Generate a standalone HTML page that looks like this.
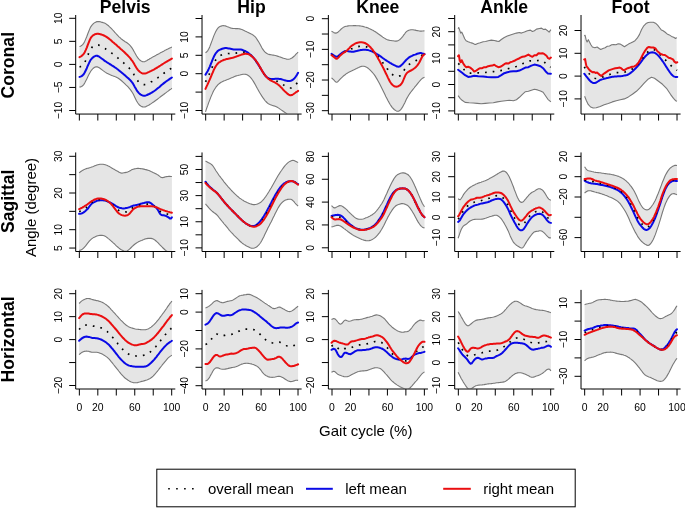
<!DOCTYPE html>
<html><head><meta charset="utf-8"><title>Gait angles</title>
<style>html,body{margin:0;padding:0;background:#fff}body{width:685px;height:508px;overflow:hidden}</style></head>
<body>
<svg width="685" height="508" viewBox="0 0 685 508" style="display:block">
<rect width="685" height="508" fill="#fff"/>
<defs>
<clipPath id="c10"><rect x="76.20" y="15.00" width="99.60" height="98.55"/></clipPath>
<clipPath id="c11"><rect x="202.53" y="15.00" width="99.60" height="98.55"/></clipPath>
<clipPath id="c12"><rect x="328.86" y="15.00" width="99.60" height="98.55"/></clipPath>
<clipPath id="c13"><rect x="455.19" y="15.00" width="99.60" height="98.55"/></clipPath>
<clipPath id="c14"><rect x="581.52" y="15.00" width="99.60" height="98.55"/></clipPath>
<clipPath id="c20"><rect x="76.20" y="152.45" width="99.60" height="98.55"/></clipPath>
<clipPath id="c21"><rect x="202.53" y="152.45" width="99.60" height="98.55"/></clipPath>
<clipPath id="c22"><rect x="328.86" y="152.45" width="99.60" height="98.55"/></clipPath>
<clipPath id="c23"><rect x="455.19" y="152.45" width="99.60" height="98.55"/></clipPath>
<clipPath id="c24"><rect x="581.52" y="152.45" width="99.60" height="98.55"/></clipPath>
<clipPath id="c30"><rect x="76.20" y="289.90" width="99.60" height="98.60"/></clipPath>
<clipPath id="c31"><rect x="202.53" y="289.90" width="99.60" height="98.60"/></clipPath>
<clipPath id="c32"><rect x="328.86" y="289.90" width="99.60" height="98.60"/></clipPath>
<clipPath id="c33"><rect x="455.19" y="289.90" width="99.60" height="98.60"/></clipPath>
<clipPath id="c34"><rect x="581.52" y="289.90" width="99.60" height="98.60"/></clipPath>
</defs>
<text x="125.20" y="12.9" text-anchor="middle" font-family="'Liberation Sans', Arial, Helvetica, sans-serif" font-size="17.6" font-weight="bold" fill="#000">Pelvis</text>
<text x="251.53" y="12.9" text-anchor="middle" font-family="'Liberation Sans', Arial, Helvetica, sans-serif" font-size="17.6" font-weight="bold" fill="#000">Hip</text>
<text x="377.86" y="12.9" text-anchor="middle" font-family="'Liberation Sans', Arial, Helvetica, sans-serif" font-size="17.6" font-weight="bold" fill="#000">Knee</text>
<text x="504.19" y="12.9" text-anchor="middle" font-family="'Liberation Sans', Arial, Helvetica, sans-serif" font-size="17.6" font-weight="bold" fill="#000">Ankle</text>
<text x="630.52" y="12.9" text-anchor="middle" font-family="'Liberation Sans', Arial, Helvetica, sans-serif" font-size="17.6" font-weight="bold" fill="#000">Foot</text>
<text transform="translate(13.5 65.20) rotate(-90)" text-anchor="middle" font-family="'Liberation Sans', Arial, Helvetica, sans-serif" font-size="17.6" font-weight="bold" fill="#000">Coronal</text>
<text transform="translate(13.5 201.30) rotate(-90)" text-anchor="middle" font-family="'Liberation Sans', Arial, Helvetica, sans-serif" font-size="17.6" font-weight="bold" fill="#000">Sagittal</text>
<text transform="translate(13.5 339.40) rotate(-90)" text-anchor="middle" font-family="'Liberation Sans', Arial, Helvetica, sans-serif" font-size="17.6" font-weight="bold" fill="#000">Horizontal</text>
<text transform="translate(35.8 207.5) rotate(-90)" text-anchor="middle" font-family="'Liberation Sans', Arial, Helvetica, sans-serif" font-size="15" fill="#000">Angle (degree)</text>
<text x="365.8" y="436.1" text-anchor="middle" font-family="'Liberation Sans', Arial, Helvetica, sans-serif" font-size="15" fill="#000">Gait cycle (%)</text>
<g clip-path="url(#c10)">
<path d="M79.5 46.5L80.5 46.2L81.6 45.6L82.6 44.7L83.7 43.3L84.7 41.4L85.7 39.1L86.8 36.5L87.8 33.7L88.9 31.0L89.9 28.6L90.9 26.6L92.0 25.1L93.0 24.0L94.0 23.1L95.1 22.4L96.1 21.9L97.2 21.6L98.2 21.5L99.2 21.6L100.3 21.8L101.3 22.1L102.4 22.4L103.4 22.7L104.4 23.1L105.5 23.6L106.5 24.2L107.5 25.0L108.6 25.8L109.6 26.8L110.7 27.8L111.7 28.9L112.7 30.0L113.8 31.2L114.8 32.3L115.9 33.5L116.9 34.6L117.9 35.7L119.0 36.8L120.0 37.7L121.0 38.7L122.1 39.5L123.1 40.3L124.2 41.0L125.2 41.7L126.2 42.3L127.3 43.0L128.3 43.8L129.3 44.7L130.4 45.9L131.4 47.2L132.5 48.7L133.5 50.4L134.5 52.3L135.6 54.2L136.6 56.0L137.7 57.6L138.7 58.9L139.7 60.0L140.8 60.8L141.8 61.4L142.8 61.7L143.9 61.8L144.9 61.6L146.0 61.1L147.0 60.5L148.0 59.8L149.1 59.2L150.1 58.5L151.2 58.0L152.2 57.4L153.2 56.8L154.3 56.3L155.3 55.7L156.3 55.1L157.4 54.5L158.4 54.0L159.5 53.4L160.5 52.8L161.5 52.3L162.6 51.7L163.6 51.2L164.6 50.6L165.7 50.1L166.7 49.6L167.8 49.1L168.8 48.6L169.8 48.1L170.9 47.6L171.9 47.1L171.9 88.3L170.9 89.1L169.8 89.8L168.8 90.6L167.8 91.4L166.7 92.1L165.7 92.9L164.6 93.7L163.6 94.5L162.6 95.2L161.5 96.0L160.5 96.8L159.5 97.6L158.4 98.4L157.4 99.2L156.3 100.0L155.3 100.7L154.3 101.5L153.2 102.2L152.2 102.9L151.2 103.6L150.1 104.3L149.1 105.0L148.0 105.6L147.0 106.1L146.0 106.6L144.9 106.9L143.9 107.0L142.8 106.9L141.8 106.6L140.8 106.0L139.7 105.3L138.7 104.2L137.7 102.8L136.6 101.0L135.6 98.9L134.5 96.7L133.5 94.6L132.5 92.7L131.4 91.1L130.4 89.6L129.3 88.3L128.3 87.1L127.3 86.1L126.2 85.1L125.2 84.1L124.2 83.1L123.1 82.2L122.1 81.2L121.0 80.3L120.0 79.5L119.0 78.7L117.9 78.0L116.9 77.5L115.9 77.0L114.8 76.6L113.8 76.2L112.7 75.8L111.7 75.4L110.7 75.0L109.6 74.6L108.6 74.1L107.5 73.6L106.5 73.0L105.5 72.4L104.4 71.6L103.4 70.9L102.4 70.1L101.3 69.3L100.3 68.5L99.2 67.8L98.2 67.2L97.2 66.9L96.1 66.8L95.1 67.1L94.0 67.7L93.0 68.5L92.0 69.6L90.9 71.0L89.9 72.7L88.9 74.6L87.8 76.8L86.8 78.9L85.7 81.1L84.7 83.0L83.7 84.6L82.6 85.8L81.6 86.5L80.5 86.9L79.5 87.1Z" fill="#e5e5e5"/>
<path d="M79.5 46.5L80.5 46.2L81.6 45.6L82.6 44.7L83.7 43.3L84.7 41.4L85.7 39.1L86.8 36.5L87.8 33.7L88.9 31.0L89.9 28.6L90.9 26.6L92.0 25.1L93.0 24.0L94.0 23.1L95.1 22.4L96.1 21.9L97.2 21.6L98.2 21.5L99.2 21.6L100.3 21.8L101.3 22.1L102.4 22.4L103.4 22.7L104.4 23.1L105.5 23.6L106.5 24.2L107.5 25.0L108.6 25.8L109.6 26.8L110.7 27.8L111.7 28.9L112.7 30.0L113.8 31.2L114.8 32.3L115.9 33.5L116.9 34.6L117.9 35.7L119.0 36.8L120.0 37.7L121.0 38.7L122.1 39.5L123.1 40.3L124.2 41.0L125.2 41.7L126.2 42.3L127.3 43.0L128.3 43.8L129.3 44.7L130.4 45.9L131.4 47.2L132.5 48.7L133.5 50.4L134.5 52.3L135.6 54.2L136.6 56.0L137.7 57.6L138.7 58.9L139.7 60.0L140.8 60.8L141.8 61.4L142.8 61.7L143.9 61.8L144.9 61.6L146.0 61.1L147.0 60.5L148.0 59.8L149.1 59.2L150.1 58.5L151.2 58.0L152.2 57.4L153.2 56.8L154.3 56.3L155.3 55.7L156.3 55.1L157.4 54.5L158.4 54.0L159.5 53.4L160.5 52.8L161.5 52.3L162.6 51.7L163.6 51.2L164.6 50.6L165.7 50.1L166.7 49.6L167.8 49.1L168.8 48.6L169.8 48.1L170.9 47.6L171.9 47.1M79.5 87.1L80.5 86.9L81.6 86.5L82.6 85.8L83.7 84.6L84.7 83.0L85.7 81.1L86.8 78.9L87.8 76.8L88.9 74.6L89.9 72.7L90.9 71.0L92.0 69.6L93.0 68.5L94.0 67.7L95.1 67.1L96.1 66.8L97.2 66.9L98.2 67.2L99.2 67.8L100.3 68.5L101.3 69.3L102.4 70.1L103.4 70.9L104.4 71.6L105.5 72.4L106.5 73.0L107.5 73.6L108.6 74.1L109.6 74.6L110.7 75.0L111.7 75.4L112.7 75.8L113.8 76.2L114.8 76.6L115.9 77.0L116.9 77.5L117.9 78.0L119.0 78.7L120.0 79.5L121.0 80.3L122.1 81.2L123.1 82.2L124.2 83.1L125.2 84.1L126.2 85.1L127.3 86.1L128.3 87.1L129.3 88.3L130.4 89.6L131.4 91.1L132.5 92.7L133.5 94.6L134.5 96.7L135.6 98.9L136.6 101.0L137.7 102.8L138.7 104.2L139.7 105.3L140.8 106.0L141.8 106.6L142.8 106.9L143.9 107.0L144.9 106.9L146.0 106.6L147.0 106.1L148.0 105.6L149.1 105.0L150.1 104.3L151.2 103.6L152.2 102.9L153.2 102.2L154.3 101.5L155.3 100.7L156.3 100.0L157.4 99.2L158.4 98.4L159.5 97.6L160.5 96.8L161.5 96.0L162.6 95.2L163.6 94.5L164.6 93.7L165.7 92.9L166.7 92.1L167.8 91.4L168.8 90.6L169.8 89.8L170.9 89.1L171.9 88.3" fill="none" stroke="#787878" stroke-width="1.1" stroke-linejoin="round"/>
<path d="M79.5 76.9L80.5 76.6L81.6 76.1L82.6 75.4L83.7 74.2L84.7 72.5L85.7 70.5L86.8 68.2L87.8 65.7L88.9 63.4L89.9 61.3L90.9 59.6L92.0 58.3L93.0 57.4L94.0 56.6L95.1 56.1L96.1 55.8L97.2 55.8L98.2 56.2L99.2 56.7L100.3 57.5L101.3 58.3L102.4 59.0L103.4 59.8L104.4 60.6L105.5 61.3L106.5 62.0L107.5 62.7L108.6 63.3L109.6 64.0L110.7 64.6L111.7 65.3L112.7 65.9L113.8 66.6L114.8 67.3L115.9 68.0L116.9 68.8L117.9 69.5L119.0 70.4L120.0 71.2L121.0 72.1L122.1 73.0L123.1 73.8L124.2 74.7L125.2 75.6L126.2 76.5L127.3 77.4L128.3 78.3L129.3 79.3L130.4 80.3L131.4 81.5L132.5 82.9L133.5 84.5L134.5 86.4L135.6 88.3L136.6 90.1L137.7 91.7L138.7 92.9L139.7 93.9L140.8 94.6L141.8 95.1L142.8 95.5L143.9 95.7L144.9 95.7L146.0 95.4L147.0 95.0L148.0 94.5L149.1 94.0L150.1 93.5L151.2 92.9L152.2 92.3L153.2 91.7L154.3 91.0L155.3 90.3L156.3 89.5L157.4 88.6L158.4 87.8L159.5 86.9L160.5 86.0L161.5 85.1L162.6 84.2L163.6 83.4L164.6 82.6L165.7 81.8L166.7 81.0L167.8 80.3L168.8 79.6L169.8 78.9L170.9 78.2L171.9 77.5" fill="none" stroke="#0a0ae6" stroke-width="2" stroke-linejoin="round" stroke-linecap="round"/>
<path d="M79.5 67.0L80.2 66.7L80.8 66.4L81.5 66.1L82.2 65.6L82.8 65.0L83.5 64.2L84.2 63.2L84.8 62.1L85.5 60.8L86.2 59.3L86.8 57.8L87.5 56.1L88.2 54.4L88.8 52.8L89.5 51.4L90.1 50.0L90.8 48.9L91.5 48.0L92.1 47.2L92.8 46.6L93.5 46.1L94.1 45.7L94.8 45.3L95.5 45.0L96.1 44.8L96.8 44.8L97.5 44.8L98.1 44.9L98.8 45.1L99.5 45.4L100.1 45.7L100.8 46.1L101.4 46.5L102.1 46.8L102.8 47.2L103.4 47.6L104.1 48.0L104.8 48.4L105.4 48.7L106.1 49.2L106.8 49.6L107.4 50.0L108.1 50.5L108.8 51.0L109.4 51.4L110.1 51.9L110.8 52.4L111.4 52.9L112.1 53.4L112.8 53.9L113.4 54.4L114.1 55.0L114.7 55.5L115.4 56.0L116.1 56.5L116.7 57.0L117.4 57.6L118.1 58.1L118.7 58.7L119.4 59.2L120.1 59.8L120.7 60.4L121.4 60.9L122.1 61.5L122.7 62.1L123.4 62.7L124.1 63.3L124.7 63.9L125.4 64.4L126.0 65.0L126.7 65.7L127.4 66.3L128.0 66.9L128.7 67.6L129.4 68.3L130.0 69.0L130.7 69.8L131.4 70.6L132.0 71.5L132.7 72.4L133.4 73.5L134.0 74.6L134.7 75.8L135.4 77.0L136.0 78.1L136.7 79.2L137.3 80.2L138.0 81.1L138.7 81.9L139.3 82.5L140.0 83.0L140.7 83.5L141.3 83.8L142.0 84.2L142.7 84.4L143.3 84.6L144.0 84.7L144.7 84.6L145.3 84.5L146.0 84.4L146.7 84.1L147.3 83.8L148.0 83.5L148.6 83.2L149.3 82.8L150.0 82.5L150.6 82.2L151.3 81.8L152.0 81.5L152.6 81.1L153.3 80.7L154.0 80.3L154.6 79.9L155.3 79.5L156.0 79.1L156.6 78.6L157.3 78.1L158.0 77.6L158.6 77.1L159.3 76.6L160.0 76.1L160.6 75.6L161.3 75.1L161.9 74.6L162.6 74.1L163.3 73.7L163.9 73.2L164.6 72.7L165.3 72.3L165.9 71.8L166.6 71.4L167.3 71.0L167.9 70.5L168.6 70.1L169.3 69.7L169.9 69.3L170.6 68.8L171.3 68.4L171.9 68.0" fill="none" stroke="#000" stroke-width="1.7" stroke-dasharray="1.7 6"/>
<path d="M79.5 57.2L80.5 56.7L81.6 56.0L82.6 55.1L83.7 53.9L84.7 52.2L85.7 50.1L86.8 47.6L87.8 44.8L88.9 42.1L89.9 39.6L90.9 37.7L92.0 36.4L93.0 35.4L94.0 34.8L95.1 34.2L96.1 33.9L97.2 33.7L98.2 33.7L99.2 33.9L100.3 34.2L101.3 34.5L102.4 34.9L103.4 35.3L104.4 35.7L105.5 36.3L106.5 36.9L107.5 37.6L108.6 38.4L109.6 39.2L110.7 40.1L111.7 41.0L112.7 41.9L113.8 42.8L114.8 43.7L115.9 44.6L116.9 45.5L117.9 46.4L119.0 47.3L120.0 48.3L121.0 49.2L122.1 50.1L123.1 51.1L124.2 52.0L125.2 53.0L126.2 54.0L127.3 55.0L128.3 56.1L129.3 57.2L130.4 58.4L131.4 59.8L132.5 61.2L133.5 62.8L134.5 64.6L135.6 66.4L136.6 68.1L137.7 69.6L138.7 70.8L139.7 71.7L140.8 72.5L141.8 73.1L142.8 73.5L143.9 73.6L144.9 73.6L146.0 73.3L147.0 72.9L148.0 72.4L149.1 71.9L150.1 71.4L151.2 70.9L152.2 70.4L153.2 69.9L154.3 69.3L155.3 68.7L156.3 68.1L157.4 67.5L158.4 66.8L159.5 66.1L160.5 65.5L161.5 64.8L162.6 64.1L163.6 63.5L164.6 62.8L165.7 62.2L166.7 61.6L167.8 61.0L168.8 60.4L169.8 59.8L170.9 59.2L171.9 58.6" fill="none" stroke="#ea0e10" stroke-width="2" stroke-linejoin="round" stroke-linecap="round"/>
</g>
<path d="M75.70 15.00V114.05H175.30" fill="none" stroke="#000" stroke-width="1"/>
<path d="M79.35 114.05v6.5M97.82 114.05v6.5M116.29 114.05v6.5M134.76 114.05v6.5M153.23 114.05v6.5M171.70 114.05v6.5M75.70 18.30h-6.5M75.70 41.35h-6.5M75.70 64.40h-6.5M75.70 87.45h-6.5M75.70 110.50h-6.5" fill="none" stroke="#000" stroke-width="1"/>
<text transform="translate(61.50 18.30) rotate(-90)" text-anchor="middle" font-family="'Liberation Sans', Arial, Helvetica, sans-serif" font-size="10.4" fill="#000">10</text>
<text transform="translate(61.50 41.35) rotate(-90)" text-anchor="middle" font-family="'Liberation Sans', Arial, Helvetica, sans-serif" font-size="10.4" fill="#000">5</text>
<text transform="translate(61.50 64.40) rotate(-90)" text-anchor="middle" font-family="'Liberation Sans', Arial, Helvetica, sans-serif" font-size="10.4" fill="#000">0</text>
<text transform="translate(61.50 87.45) rotate(-90)" text-anchor="middle" font-family="'Liberation Sans', Arial, Helvetica, sans-serif" font-size="10.4" fill="#000">−5</text>
<text transform="translate(61.50 110.50) rotate(-90)" text-anchor="middle" font-family="'Liberation Sans', Arial, Helvetica, sans-serif" font-size="10.4" fill="#000">−10</text>
<g clip-path="url(#c11)">
<path d="M205.5 52.8L206.5 52.0L207.6 50.9L208.6 49.2L209.7 46.9L210.7 44.3L211.8 41.4L212.8 38.6L213.8 35.9L214.9 33.4L215.9 31.2L217.0 29.4L218.0 28.0L219.0 27.1L220.1 26.5L221.1 26.1L222.2 25.8L223.2 25.6L224.2 25.7L225.3 25.9L226.3 26.2L227.4 26.7L228.4 27.1L229.4 27.5L230.5 27.9L231.5 28.2L232.6 28.4L233.6 28.5L234.6 28.5L235.7 28.6L236.7 28.6L237.8 28.6L238.8 28.7L239.8 28.9L240.9 29.2L241.9 29.5L243.0 29.9L244.0 30.4L245.0 30.9L246.1 31.4L247.1 32.0L248.2 32.5L249.2 33.0L250.2 33.5L251.3 34.1L252.3 34.6L253.4 35.3L254.4 36.2L255.5 37.2L256.5 38.5L257.5 40.1L258.6 41.8L259.6 43.6L260.7 45.5L261.7 47.4L262.7 49.2L263.8 50.7L264.8 51.9L265.9 52.8L266.9 53.5L267.9 54.0L269.0 54.4L270.0 54.6L271.1 54.8L272.1 55.0L273.1 55.1L274.2 55.3L275.2 55.5L276.3 55.8L277.3 56.1L278.3 56.4L279.4 56.8L280.4 57.1L281.5 57.5L282.5 57.9L283.5 58.2L284.6 58.5L285.6 58.8L286.7 59.1L287.7 59.2L288.7 59.2L289.8 59.0L290.8 58.6L291.9 58.0L292.9 57.2L294.0 56.3L295.0 55.3L296.0 54.2L297.1 53.2L298.1 52.2L298.1 119.4L297.1 119.3L296.0 119.1L295.0 118.9L294.0 118.6L292.9 118.2L291.9 117.7L290.8 117.1L289.8 116.4L288.7 115.6L287.7 114.7L286.7 113.8L285.6 112.9L284.6 112.2L283.5 111.5L282.5 110.8L281.5 110.1L280.4 109.4L279.4 108.6L278.3 107.9L277.3 107.3L276.3 106.8L275.2 106.3L274.2 105.9L273.1 105.6L272.1 105.3L271.1 104.9L270.0 104.5L269.0 104.0L267.9 103.4L266.9 102.5L265.9 101.5L264.8 100.3L263.8 98.9L262.7 97.4L261.7 95.9L260.7 94.3L259.6 92.5L258.6 90.7L257.5 88.8L256.5 86.9L255.5 85.0L254.4 83.1L253.4 81.4L252.3 79.8L251.3 78.4L250.2 77.2L249.2 76.2L248.2 75.4L247.1 74.8L246.1 74.4L245.0 74.2L244.0 74.2L243.0 74.3L241.9 74.5L240.9 74.7L239.8 75.0L238.8 75.2L237.8 75.5L236.7 75.8L235.7 76.1L234.6 76.5L233.6 76.9L232.6 77.4L231.5 77.8L230.5 78.3L229.4 78.8L228.4 79.2L227.4 79.6L226.3 80.0L225.3 80.4L224.2 80.8L223.2 81.3L222.2 81.8L221.1 82.3L220.1 83.0L219.0 83.8L218.0 84.7L217.0 85.9L215.9 87.2L214.9 88.7L213.8 90.5L212.8 92.6L211.8 94.9L210.7 97.4L209.7 100.1L208.6 102.9L207.6 105.9L206.5 108.8L205.5 111.8Z" fill="#e5e5e5"/>
<path d="M205.5 52.8L206.5 52.0L207.6 50.9L208.6 49.2L209.7 46.9L210.7 44.3L211.8 41.4L212.8 38.6L213.8 35.9L214.9 33.4L215.9 31.2L217.0 29.4L218.0 28.0L219.0 27.1L220.1 26.5L221.1 26.1L222.2 25.8L223.2 25.6L224.2 25.7L225.3 25.9L226.3 26.2L227.4 26.7L228.4 27.1L229.4 27.5L230.5 27.9L231.5 28.2L232.6 28.4L233.6 28.5L234.6 28.5L235.7 28.6L236.7 28.6L237.8 28.6L238.8 28.7L239.8 28.9L240.9 29.2L241.9 29.5L243.0 29.9L244.0 30.4L245.0 30.9L246.1 31.4L247.1 32.0L248.2 32.5L249.2 33.0L250.2 33.5L251.3 34.1L252.3 34.6L253.4 35.3L254.4 36.2L255.5 37.2L256.5 38.5L257.5 40.1L258.6 41.8L259.6 43.6L260.7 45.5L261.7 47.4L262.7 49.2L263.8 50.7L264.8 51.9L265.9 52.8L266.9 53.5L267.9 54.0L269.0 54.4L270.0 54.6L271.1 54.8L272.1 55.0L273.1 55.1L274.2 55.3L275.2 55.5L276.3 55.8L277.3 56.1L278.3 56.4L279.4 56.8L280.4 57.1L281.5 57.5L282.5 57.9L283.5 58.2L284.6 58.5L285.6 58.8L286.7 59.1L287.7 59.2L288.7 59.2L289.8 59.0L290.8 58.6L291.9 58.0L292.9 57.2L294.0 56.3L295.0 55.3L296.0 54.2L297.1 53.2L298.1 52.2M205.5 111.8L206.5 108.8L207.6 105.9L208.6 102.9L209.7 100.1L210.7 97.4L211.8 94.9L212.8 92.6L213.8 90.5L214.9 88.7L215.9 87.2L217.0 85.9L218.0 84.7L219.0 83.8L220.1 83.0L221.1 82.3L222.2 81.8L223.2 81.3L224.2 80.8L225.3 80.4L226.3 80.0L227.4 79.6L228.4 79.2L229.4 78.8L230.5 78.3L231.5 77.8L232.6 77.4L233.6 76.9L234.6 76.5L235.7 76.1L236.7 75.8L237.8 75.5L238.8 75.2L239.8 75.0L240.9 74.7L241.9 74.5L243.0 74.3L244.0 74.2L245.0 74.2L246.1 74.4L247.1 74.8L248.2 75.4L249.2 76.2L250.2 77.2L251.3 78.4L252.3 79.8L253.4 81.4L254.4 83.1L255.5 85.0L256.5 86.9L257.5 88.8L258.6 90.7L259.6 92.5L260.7 94.3L261.7 95.9L262.7 97.4L263.8 98.9L264.8 100.3L265.9 101.5L266.9 102.5L267.9 103.4L269.0 104.0L270.0 104.5L271.1 104.9L272.1 105.3L273.1 105.6L274.2 105.9L275.2 106.3L276.3 106.8L277.3 107.3L278.3 107.9L279.4 108.6L280.4 109.4L281.5 110.1L282.5 110.8L283.5 111.5L284.6 112.2L285.6 112.9L286.7 113.8L287.7 114.7L288.7 115.6L289.8 116.4L290.8 117.1L291.9 117.7L292.9 118.2L294.0 118.6L295.0 118.9L296.0 119.1L297.1 119.3L298.1 119.4" fill="none" stroke="#787878" stroke-width="1.1" stroke-linejoin="round"/>
<path d="M205.5 74.6L206.5 73.0L207.6 71.2L208.6 69.2L209.7 66.8L210.7 64.3L211.8 61.7L212.8 59.1L213.8 56.8L214.9 54.8L215.9 53.1L217.0 51.8L218.0 50.8L219.0 50.1L220.1 49.6L221.1 49.2L222.2 48.8L223.2 48.5L224.2 48.3L225.3 48.1L226.3 48.1L227.4 48.2L228.4 48.4L229.4 48.6L230.5 48.8L231.5 49.0L232.6 49.2L233.6 49.4L234.6 49.5L235.7 49.6L236.7 49.5L237.8 49.5L238.8 49.5L239.8 49.5L240.9 49.6L241.9 49.8L243.0 50.2L244.0 50.6L245.0 51.0L246.1 51.6L247.1 52.2L248.2 52.9L249.2 53.7L250.2 54.5L251.3 55.4L252.3 56.5L253.4 57.6L254.4 58.9L255.5 60.3L256.5 61.9L257.5 63.5L258.6 65.2L259.6 66.8L260.7 68.5L261.7 70.2L262.7 71.8L263.8 73.5L264.8 75.0L265.9 76.3L266.9 77.3L267.9 78.0L269.0 78.5L270.0 78.8L271.1 78.9L272.1 79.0L273.1 78.9L274.2 78.9L275.2 78.8L276.3 78.7L277.3 78.7L278.3 78.8L279.4 78.9L280.4 79.0L281.5 79.3L282.5 79.6L283.5 79.9L284.6 80.2L285.6 80.5L286.7 80.7L287.7 80.9L288.7 81.0L289.8 80.9L290.8 80.7L291.9 80.3L292.9 79.7L294.0 78.8L295.0 77.7L296.0 76.2L297.1 74.6L298.1 72.8" fill="none" stroke="#0a0ae6" stroke-width="2" stroke-linejoin="round" stroke-linecap="round"/>
<path d="M205.5 81.8L206.2 80.5L206.8 79.3L207.5 78.0L208.2 76.6L208.8 75.2L209.5 73.6L210.2 72.1L210.8 70.4L211.5 68.8L212.2 67.2L212.8 65.6L213.5 64.1L214.2 62.7L214.8 61.4L215.5 60.2L216.2 59.2L216.8 58.3L217.5 57.6L218.2 56.9L218.8 56.4L219.5 56.0L220.2 55.6L220.8 55.3L221.5 55.0L222.2 54.8L222.8 54.5L223.5 54.3L224.2 54.1L224.8 53.9L225.5 53.8L226.2 53.7L226.8 53.6L227.5 53.6L228.2 53.5L228.8 53.5L229.5 53.6L230.2 53.6L230.8 53.6L231.5 53.6L232.2 53.5L232.8 53.5L233.5 53.5L234.2 53.4L234.8 53.3L235.5 53.2L236.2 53.1L236.8 52.9L237.5 52.8L238.2 52.7L238.8 52.6L239.5 52.4L240.2 52.3L240.8 52.3L241.5 52.2L242.1 52.2L242.8 52.2L243.5 52.2L244.1 52.3L244.8 52.4L245.5 52.5L246.1 52.7L246.8 52.9L247.5 53.2L248.1 53.5L248.8 53.9L249.5 54.3L250.1 54.8L250.8 55.3L251.5 55.8L252.1 56.4L252.8 57.1L253.5 57.8L254.1 58.6L254.8 59.4L255.5 60.3L256.1 61.2L256.8 62.1L257.5 63.1L258.1 64.2L258.8 65.3L259.5 66.4L260.1 67.5L260.8 68.6L261.5 69.8L262.1 70.9L262.8 72.0L263.5 73.0L264.1 74.0L264.8 74.9L265.5 75.8L266.1 76.6L266.8 77.3L267.5 77.8L268.1 78.4L268.8 78.8L269.5 79.1L270.1 79.5L270.8 79.7L271.5 79.9L272.1 80.1L272.8 80.2L273.5 80.4L274.1 80.5L274.8 80.7L275.5 80.8L276.1 81.0L276.8 81.2L277.5 81.4L278.1 81.7L278.8 82.0L279.5 82.3L280.1 82.7L280.8 83.1L281.5 83.5L282.1 84.0L282.8 84.4L283.5 84.9L284.1 85.3L284.8 85.8L285.5 86.2L286.1 86.6L286.8 86.9L287.5 87.3L288.1 87.6L288.8 87.8L289.5 88.0L290.1 88.0L290.8 88.0L291.5 87.9L292.1 87.6L292.8 87.2L293.4 86.7L294.1 86.1L294.8 85.5L295.4 84.8L296.1 84.1L296.8 83.4L297.4 82.6L298.1 81.9" fill="none" stroke="#000" stroke-width="1.7" stroke-dasharray="1.7 6"/>
<path d="M205.5 88.9L206.5 86.7L207.6 84.4L208.6 82.1L209.7 79.7L210.7 77.3L211.8 74.7L212.8 72.3L213.8 69.9L214.9 67.8L215.9 66.0L217.0 64.5L218.0 63.3L219.0 62.4L220.1 61.8L221.1 61.2L222.2 60.7L223.2 60.2L224.2 59.8L225.3 59.5L226.3 59.1L227.4 58.9L228.4 58.7L229.4 58.5L230.5 58.3L231.5 58.1L232.6 57.8L233.6 57.5L234.6 57.1L235.7 56.8L236.7 56.4L237.8 56.0L238.8 55.6L239.8 55.3L240.9 54.9L241.9 54.5L243.0 54.2L244.0 54.0L245.0 53.8L246.1 53.8L247.1 53.9L248.2 54.1L249.2 54.5L250.2 55.1L251.3 55.9L252.3 56.7L253.4 57.8L254.4 58.9L255.5 60.1L256.5 61.5L257.5 62.9L258.6 64.6L259.6 66.4L260.7 68.2L261.7 70.1L262.7 71.9L263.8 73.5L264.8 74.9L265.9 76.3L266.9 77.4L267.9 78.4L269.0 79.3L270.0 80.0L271.1 80.6L272.1 81.2L273.1 81.7L274.2 82.2L275.2 82.7L276.3 83.3L277.3 84.0L278.3 84.8L279.4 85.6L280.4 86.7L281.5 87.7L282.5 88.9L283.5 90.0L284.6 91.1L285.6 92.1L286.7 93.0L287.7 93.9L288.7 94.6L289.8 95.2L290.8 95.3L291.9 95.1L292.9 94.5L294.0 93.7L295.0 93.0L296.0 92.2L297.1 91.6L298.1 90.9" fill="none" stroke="#ea0e10" stroke-width="2" stroke-linejoin="round" stroke-linecap="round"/>
</g>
<path d="M202.03 15.00V114.05H301.63" fill="none" stroke="#000" stroke-width="1"/>
<path d="M205.68 114.05v6.5M224.15 114.05v6.5M242.62 114.05v6.5M261.09 114.05v6.5M279.56 114.05v6.5M298.03 114.05v6.5M202.03 18.50h-6.5M202.03 36.90h-6.5M202.03 55.30h-6.5M202.03 73.70h-6.5M202.03 92.10h-6.5M202.03 110.50h-6.5" fill="none" stroke="#000" stroke-width="1"/>
<text transform="translate(187.83 36.90) rotate(-90)" text-anchor="middle" font-family="'Liberation Sans', Arial, Helvetica, sans-serif" font-size="10.4" fill="#000">10</text>
<text transform="translate(187.83 55.30) rotate(-90)" text-anchor="middle" font-family="'Liberation Sans', Arial, Helvetica, sans-serif" font-size="10.4" fill="#000">5</text>
<text transform="translate(187.83 73.70) rotate(-90)" text-anchor="middle" font-family="'Liberation Sans', Arial, Helvetica, sans-serif" font-size="10.4" fill="#000">0</text>
<text transform="translate(187.83 110.50) rotate(-90)" text-anchor="middle" font-family="'Liberation Sans', Arial, Helvetica, sans-serif" font-size="10.4" fill="#000">−10</text>
<g clip-path="url(#c12)">
<path d="M331.5 31.1L332.6 31.8L333.6 32.4L334.6 32.9L335.7 33.1L336.7 32.9L337.8 32.3L338.8 31.4L339.9 30.4L340.9 29.3L342.0 28.4L343.0 27.6L344.0 26.9L345.1 26.5L346.1 26.2L347.2 26.1L348.2 25.9L349.3 25.8L350.3 25.7L351.4 25.7L352.4 25.7L353.5 25.6L354.5 25.6L355.5 25.6L356.6 25.7L357.6 25.7L358.7 25.8L359.7 25.9L360.8 26.0L361.8 26.2L362.9 26.4L363.9 26.7L364.9 27.0L366.0 27.3L367.0 27.6L368.1 28.0L369.1 28.5L370.2 28.9L371.2 29.4L372.3 30.0L373.3 30.5L374.4 31.2L375.4 31.8L376.4 32.5L377.5 33.2L378.5 34.0L379.6 34.7L380.6 35.5L381.7 36.3L382.7 37.1L383.8 37.8L384.8 38.4L385.8 39.0L386.9 39.5L387.9 39.9L389.0 40.2L390.0 40.4L391.1 40.5L392.1 40.7L393.2 40.8L394.2 41.0L395.3 41.1L396.3 41.1L397.3 40.9L398.4 40.5L399.4 39.9L400.5 39.0L401.5 37.9L402.6 36.6L403.6 35.2L404.7 33.8L405.7 32.4L406.7 31.4L407.8 30.7L408.8 30.2L409.9 30.0L410.9 29.8L412.0 29.8L413.0 29.8L414.1 30.0L415.1 30.1L416.2 30.4L417.2 30.6L418.2 30.8L419.3 31.0L420.3 31.1L421.4 31.1L422.4 31.0L423.5 30.9L424.5 30.7L424.5 77.3L423.5 77.7L422.4 78.3L421.4 79.2L420.3 80.3L419.3 81.5L418.2 82.8L417.2 84.1L416.2 85.4L415.1 86.7L414.1 88.0L413.0 89.3L412.0 90.6L410.9 92.0L409.9 93.4L408.8 95.0L407.8 96.7L406.7 98.6L405.7 100.7L404.7 102.9L403.6 105.0L402.6 106.9L401.5 108.6L400.5 109.9L399.4 110.8L398.4 111.3L397.3 111.3L396.3 110.9L395.3 110.3L394.2 109.5L393.2 108.5L392.1 107.4L391.1 105.9L390.0 104.3L389.0 102.4L387.9 100.5L386.9 98.4L385.8 96.4L384.8 94.3L383.8 92.2L382.7 90.0L381.7 87.9L380.6 85.8L379.6 83.8L378.5 81.8L377.5 79.9L376.4 78.1L375.4 76.4L374.4 74.9L373.3 73.5L372.3 72.3L371.2 71.2L370.2 70.1L369.1 69.1L368.1 68.2L367.0 67.5L366.0 66.9L364.9 66.5L363.9 66.3L362.9 66.2L361.8 66.3L360.8 66.6L359.7 67.0L358.7 67.5L357.6 68.0L356.6 68.5L355.5 69.0L354.5 69.6L353.5 70.1L352.4 70.6L351.4 71.1L350.3 71.6L349.3 72.1L348.2 72.6L347.2 73.2L346.1 73.9L345.1 74.7L344.0 75.5L343.0 76.4L342.0 77.3L340.9 78.3L339.9 79.4L338.8 80.6L337.8 81.7L336.7 82.3L335.7 81.9L334.6 80.8L333.6 79.7L332.6 78.8L331.5 77.9Z" fill="#e5e5e5"/>
<path d="M331.5 31.1L332.6 31.8L333.6 32.4L334.6 32.9L335.7 33.1L336.7 32.9L337.8 32.3L338.8 31.4L339.9 30.4L340.9 29.3L342.0 28.4L343.0 27.6L344.0 26.9L345.1 26.5L346.1 26.2L347.2 26.1L348.2 25.9L349.3 25.8L350.3 25.7L351.4 25.7L352.4 25.7L353.5 25.6L354.5 25.6L355.5 25.6L356.6 25.7L357.6 25.7L358.7 25.8L359.7 25.9L360.8 26.0L361.8 26.2L362.9 26.4L363.9 26.7L364.9 27.0L366.0 27.3L367.0 27.6L368.1 28.0L369.1 28.5L370.2 28.9L371.2 29.4L372.3 30.0L373.3 30.5L374.4 31.2L375.4 31.8L376.4 32.5L377.5 33.2L378.5 34.0L379.6 34.7L380.6 35.5L381.7 36.3L382.7 37.1L383.8 37.8L384.8 38.4L385.8 39.0L386.9 39.5L387.9 39.9L389.0 40.2L390.0 40.4L391.1 40.5L392.1 40.7L393.2 40.8L394.2 41.0L395.3 41.1L396.3 41.1L397.3 40.9L398.4 40.5L399.4 39.9L400.5 39.0L401.5 37.9L402.6 36.6L403.6 35.2L404.7 33.8L405.7 32.4L406.7 31.4L407.8 30.7L408.8 30.2L409.9 30.0L410.9 29.8L412.0 29.8L413.0 29.8L414.1 30.0L415.1 30.1L416.2 30.4L417.2 30.6L418.2 30.8L419.3 31.0L420.3 31.1L421.4 31.1L422.4 31.0L423.5 30.9L424.5 30.7M331.5 77.9L332.6 78.8L333.6 79.7L334.6 80.8L335.7 81.9L336.7 82.3L337.8 81.7L338.8 80.6L339.9 79.4L340.9 78.3L342.0 77.3L343.0 76.4L344.0 75.5L345.1 74.7L346.1 73.9L347.2 73.2L348.2 72.6L349.3 72.1L350.3 71.6L351.4 71.1L352.4 70.6L353.5 70.1L354.5 69.6L355.5 69.0L356.6 68.5L357.6 68.0L358.7 67.5L359.7 67.0L360.8 66.6L361.8 66.3L362.9 66.2L363.9 66.3L364.9 66.5L366.0 66.9L367.0 67.5L368.1 68.2L369.1 69.1L370.2 70.1L371.2 71.2L372.3 72.3L373.3 73.5L374.4 74.9L375.4 76.4L376.4 78.1L377.5 79.9L378.5 81.8L379.6 83.8L380.6 85.8L381.7 87.9L382.7 90.0L383.8 92.2L384.8 94.3L385.8 96.4L386.9 98.4L387.9 100.5L389.0 102.4L390.0 104.3L391.1 105.9L392.1 107.4L393.2 108.5L394.2 109.5L395.3 110.3L396.3 110.9L397.3 111.3L398.4 111.3L399.4 110.8L400.5 109.9L401.5 108.6L402.6 106.9L403.6 105.0L404.7 102.9L405.7 100.7L406.7 98.6L407.8 96.7L408.8 95.0L409.9 93.4L410.9 92.0L412.0 90.6L413.0 89.3L414.1 88.0L415.1 86.7L416.2 85.4L417.2 84.1L418.2 82.8L419.3 81.5L420.3 80.3L421.4 79.2L422.4 78.3L423.5 77.7L424.5 77.3" fill="none" stroke="#787878" stroke-width="1.1" stroke-linejoin="round"/>
<path d="M331.5 53.8L332.6 54.5L333.6 55.2L334.6 55.9L335.7 56.6L336.7 56.8L337.8 56.3L338.8 55.5L339.9 54.5L340.9 53.7L342.0 52.9L343.0 52.2L344.0 51.6L345.1 51.2L346.1 51.0L347.2 51.0L348.2 51.2L349.3 51.4L350.3 51.5L351.4 51.7L352.4 51.8L353.5 51.7L354.5 51.5L355.5 51.3L356.6 51.1L357.6 50.8L358.7 50.5L359.7 50.3L360.8 50.0L361.8 49.9L362.9 49.8L363.9 49.7L364.9 49.8L366.0 49.8L367.0 49.9L368.1 50.1L369.1 50.4L370.2 50.7L371.2 51.1L372.3 51.5L373.3 52.1L374.4 52.6L375.4 53.2L376.4 53.8L377.5 54.4L378.5 55.0L379.6 55.7L380.6 56.4L381.7 57.2L382.7 58.0L383.8 58.8L384.8 59.5L385.8 60.2L386.9 60.9L387.9 61.5L389.0 62.2L390.0 62.8L391.1 63.4L392.1 64.1L393.2 64.6L394.2 65.2L395.3 65.7L396.3 66.2L397.3 66.6L398.4 66.7L399.4 66.6L400.5 66.0L401.5 65.1L402.6 64.0L403.6 62.9L404.7 61.6L405.7 60.5L406.7 59.4L407.8 58.5L408.8 57.6L409.9 56.9L410.9 56.3L412.0 55.8L413.0 55.3L414.1 54.9L415.1 54.6L416.2 54.2L417.2 53.8L418.2 53.5L419.3 53.3L420.3 53.1L421.4 53.1L422.4 53.4L423.5 53.7L424.5 54.2" fill="none" stroke="#0a0ae6" stroke-width="2" stroke-linejoin="round" stroke-linecap="round"/>
<path d="M331.5 54.5L332.2 54.9L332.8 55.4L333.5 55.9L334.2 56.4L334.9 56.9L335.5 57.4L336.2 57.6L336.9 57.7L337.5 57.4L338.2 56.9L338.9 56.3L339.5 55.6L340.2 54.9L340.9 54.3L341.5 53.7L342.2 53.2L342.9 52.8L343.6 52.4L344.2 52.0L344.9 51.6L345.6 51.3L346.2 51.0L346.9 50.8L347.6 50.5L348.2 50.2L348.9 49.9L349.6 49.6L350.2 49.3L350.9 49.1L351.6 48.8L352.2 48.6L352.9 48.3L353.6 48.1L354.3 47.8L354.9 47.6L355.6 47.4L356.3 47.1L356.9 46.9L357.6 46.7L358.3 46.6L358.9 46.4L359.6 46.3L360.3 46.2L360.9 46.1L361.6 46.1L362.3 46.1L363.0 46.1L363.6 46.2L364.3 46.3L365.0 46.4L365.6 46.6L366.3 46.8L367.0 47.1L367.6 47.4L368.3 47.7L369.0 48.1L369.6 48.5L370.3 49.0L371.0 49.5L371.7 50.0L372.3 50.5L373.0 51.1L373.7 51.8L374.3 52.4L375.0 53.1L375.7 53.8L376.3 54.6L377.0 55.3L377.7 56.1L378.3 56.9L379.0 57.7L379.7 58.5L380.4 59.3L381.0 60.2L381.7 61.1L382.4 62.0L383.0 62.9L383.7 63.8L384.4 64.7L385.0 65.6L385.7 66.5L386.4 67.4L387.0 68.4L387.7 69.3L388.4 70.2L389.1 71.1L389.7 71.9L390.4 72.7L391.1 73.4L391.7 74.0L392.4 74.5L393.1 75.0L393.7 75.4L394.4 75.8L395.1 76.1L395.7 76.3L396.4 76.4L397.1 76.5L397.7 76.5L398.4 76.5L399.1 76.2L399.8 75.9L400.4 75.5L401.1 74.9L401.8 74.1L402.4 73.2L403.1 72.1L403.8 70.9L404.4 69.7L405.1 68.6L405.8 67.5L406.4 66.7L407.1 66.0L407.8 65.4L408.5 64.9L409.1 64.4L409.8 64.0L410.5 63.6L411.1 63.3L411.8 62.9L412.5 62.6L413.1 62.2L413.8 61.9L414.5 61.5L415.1 61.1L415.8 60.7L416.5 60.2L417.2 59.7L417.8 59.2L418.5 58.6L419.2 58.0L419.8 57.3L420.5 56.6L421.2 55.9L421.8 55.3L422.5 54.8L423.2 54.5L423.8 54.3L424.5 54.2" fill="none" stroke="#000" stroke-width="1.7" stroke-dasharray="1.7 6"/>
<path d="M331.5 55.2L332.6 55.9L333.6 56.7L334.6 57.6L335.7 58.5L336.7 58.8L337.8 58.2L338.8 57.1L339.9 55.9L340.9 54.9L342.0 53.9L343.0 53.2L344.0 52.5L345.1 51.9L346.1 51.2L347.2 50.2L348.2 49.2L349.3 48.1L350.3 47.0L351.4 46.1L352.4 45.3L353.5 44.6L354.5 44.0L355.5 43.4L356.6 43.0L357.6 42.7L358.7 42.4L359.7 42.3L360.8 42.2L361.8 42.3L362.9 42.4L363.9 42.7L364.9 43.0L366.0 43.6L367.0 44.2L368.1 45.0L369.1 46.0L370.2 47.0L371.2 48.2L372.3 49.4L373.3 50.8L374.4 52.2L375.4 53.8L376.4 55.5L377.5 57.3L378.5 59.2L379.6 61.1L380.6 63.0L381.7 65.0L382.7 66.9L383.8 69.0L384.8 71.1L385.8 73.2L386.9 75.4L387.9 77.6L389.0 79.8L390.0 81.7L391.1 83.3L392.1 84.6L393.2 85.5L394.2 86.2L395.3 86.6L396.3 86.7L397.3 86.6L398.4 86.2L399.4 85.7L400.5 84.9L401.5 83.7L402.6 82.0L403.6 79.5L404.7 76.9L405.7 74.7L406.7 73.2L407.8 72.3L408.8 71.6L409.9 71.0L410.9 70.5L412.0 69.9L413.0 69.3L414.1 68.5L415.1 67.7L416.2 66.7L417.2 65.6L418.2 64.2L419.3 62.5L420.3 60.5L421.4 58.3L422.4 56.3L423.5 55.0L424.5 54.2" fill="none" stroke="#ea0e10" stroke-width="2" stroke-linejoin="round" stroke-linecap="round"/>
</g>
<path d="M328.36 15.00V114.05H427.96" fill="none" stroke="#000" stroke-width="1"/>
<path d="M332.01 114.05v6.5M350.48 114.05v6.5M368.95 114.05v6.5M387.42 114.05v6.5M405.89 114.05v6.5M424.36 114.05v6.5M328.36 18.70h-6.5M328.36 34.03h-6.5M328.36 49.36h-6.5M328.36 64.69h-6.5M328.36 80.02h-6.5M328.36 95.35h-6.5M328.36 110.68h-6.5" fill="none" stroke="#000" stroke-width="1"/>
<text transform="translate(314.16 18.70) rotate(-90)" text-anchor="middle" font-family="'Liberation Sans', Arial, Helvetica, sans-serif" font-size="10.4" fill="#000">0</text>
<text transform="translate(314.16 49.36) rotate(-90)" text-anchor="middle" font-family="'Liberation Sans', Arial, Helvetica, sans-serif" font-size="10.4" fill="#000">−10</text>
<text transform="translate(314.16 80.02) rotate(-90)" text-anchor="middle" font-family="'Liberation Sans', Arial, Helvetica, sans-serif" font-size="10.4" fill="#000">−20</text>
<text transform="translate(314.16 110.68) rotate(-90)" text-anchor="middle" font-family="'Liberation Sans', Arial, Helvetica, sans-serif" font-size="10.4" fill="#000">−30</text>
<g clip-path="url(#c13)">
<path d="M458.1 28.7L458.7 27.5L459.7 30.1L460.7 33.1L461.7 32.1L463.1 35.1L464.7 38.7L466.1 40.7L468.2 41.7L470.2 42.5L472.2 43.1L474.2 44.1L475.6 44.5L477.6 43.5L480.2 42.7L483.2 41.7L485.6 41.5L488.2 40.7L491.3 40.1L494.3 40.5L496.9 41.1L498.9 41.5L501.3 39.5L504.3 37.5L507.3 36.1L510.3 35.1L513.4 34.1L516.4 33.1L519.4 32.5L521.4 33.1L524.4 32.1L527.4 30.7L530.4 30.1L532.4 31.5L534.4 30.7L536.5 29.1L539.5 28.5L541.5 28.1L543.5 29.5L545.5 29.1L547.5 30.7L549.1 32.1L550.9 29.7L550.9 101.9L547.9 99.3L545.5 95.7L543.1 92.3L540.5 90.9L537.5 89.9L534.4 89.3L531.4 90.3L528.4 91.3L525.4 91.7L522.4 94.3L519.4 97.3L516.4 99.7L513.4 100.7L509.3 100.3L505.3 100.7L501.3 101.3L497.3 101.9L493.3 102.8L489.2 103.0L485.2 103.4L481.2 103.8L477.2 103.4L473.2 103.0L469.2 102.8L465.1 102.4L462.1 100.3L460.1 98.3L458.1 95.7Z" fill="#e5e5e5"/>
<path d="M458.1 28.7L458.7 27.5L459.7 30.1L460.7 33.1L461.7 32.1L463.1 35.1L464.7 38.7L466.1 40.7L468.2 41.7L470.2 42.5L472.2 43.1L474.2 44.1L475.6 44.5L477.6 43.5L480.2 42.7L483.2 41.7L485.6 41.5L488.2 40.7L491.3 40.1L494.3 40.5L496.9 41.1L498.9 41.5L501.3 39.5L504.3 37.5L507.3 36.1L510.3 35.1L513.4 34.1L516.4 33.1L519.4 32.5L521.4 33.1L524.4 32.1L527.4 30.7L530.4 30.1L532.4 31.5L534.4 30.7L536.5 29.1L539.5 28.5L541.5 28.1L543.5 29.5L545.5 29.1L547.5 30.7L549.1 32.1L550.9 29.7M458.1 95.7L460.1 98.3L462.1 100.3L465.1 102.4L469.2 102.8L473.2 103.0L477.2 103.4L481.2 103.8L485.2 103.4L489.2 103.0L493.3 102.8L497.3 101.9L501.3 101.3L505.3 100.7L509.3 100.3L513.4 100.7L516.4 99.7L519.4 97.3L522.4 94.3L525.4 91.7L528.4 91.3L531.4 90.3L534.4 89.3L537.5 89.9L540.5 90.9L543.1 92.3L545.5 95.7L547.9 99.3L550.9 101.9" fill="none" stroke="#787878" stroke-width="1.1" stroke-linejoin="round"/>
<path d="M458.1 69.8L460.1 71.2L462.1 72.8L465.1 75.2L468.2 76.9L471.2 76.4L474.2 75.8L478.2 76.2L483.2 76.4L487.2 76.9L491.3 77.3L495.3 77.3L498.3 76.9L501.3 75.2L504.3 73.2L507.3 72.2L510.3 71.6L513.4 71.2L516.4 71.2L519.4 70.6L522.4 69.2L525.4 67.6L528.4 67.2L531.4 65.6L534.4 64.6L537.5 65.2L540.5 66.2L543.1 68.2L545.5 71.2L547.9 73.6L550.9 73.8" fill="none" stroke="#0a0ae6" stroke-width="2" stroke-linejoin="round" stroke-linecap="round"/>
<path d="M458.2 63.4L459.2 64.3L460.3 65.3L461.3 66.4L462.4 67.6L463.4 68.8L464.4 70.0L465.5 71.1L466.5 72.0L467.6 72.6L468.6 73.0L469.6 73.2L470.7 73.2L471.7 73.1L472.7 73.0L473.8 72.9L474.8 72.8L475.9 72.8L476.9 72.8L477.9 72.8L479.0 72.8L480.0 72.9L481.1 72.9L482.1 72.8L483.1 72.7L484.2 72.6L485.2 72.5L486.2 72.3L487.3 72.2L488.3 72.1L489.4 72.0L490.4 71.9L491.4 71.8L492.5 71.7L493.5 71.6L494.5 71.5L495.6 71.3L496.6 71.2L497.7 71.1L498.7 70.9L499.7 70.8L500.8 70.6L501.8 70.3L502.9 70.1L503.9 69.8L504.9 69.5L506.0 69.2L507.0 68.9L508.0 68.7L509.1 68.4L510.1 68.1L511.2 67.9L512.2 67.6L513.2 67.4L514.3 67.1L515.3 66.8L516.4 66.5L517.4 66.1L518.4 65.7L519.5 65.2L520.5 64.8L521.5 64.3L522.6 63.7L523.6 63.2L524.7 62.7L525.7 62.1L526.7 61.7L527.8 61.3L528.8 61.0L529.9 60.8L530.9 60.8L531.9 60.8L533.0 60.9L534.0 60.9L535.0 60.9L536.1 60.9L537.1 60.7L538.2 60.5L539.2 60.4L540.2 60.3L541.3 60.4L542.3 60.7L543.3 61.4L544.4 62.2L545.4 63.3L546.5 64.3L547.5 65.3L548.5 66.1L549.6 66.8L550.6 67.3" fill="none" stroke="#000" stroke-width="1.7" stroke-dasharray="1.7 6"/>
<path d="M458.1 56.2L458.9 55.2L459.7 60.2L460.7 62.2L461.7 60.2L463.1 63.2L464.7 65.6L466.1 67.2L468.2 66.8L470.2 67.6L472.2 69.2L474.2 71.6L476.2 70.6L478.2 69.2L480.2 68.2L482.2 68.2L484.2 67.2L486.2 67.2L488.2 66.2L490.3 65.8L492.3 65.6L494.3 64.8L496.3 66.2L498.3 67.2L500.3 66.8L502.3 65.6L504.3 64.2L506.3 63.2L508.3 63.6L510.3 62.2L512.3 61.6L514.4 60.8L516.4 59.6L518.4 58.8L520.4 57.6L522.4 56.8L524.4 56.6L526.4 55.6L528.4 54.6L530.4 55.8L532.4 56.8L534.4 55.2L536.5 55.2L538.5 53.2L540.5 53.6L542.5 53.2L544.5 54.2L546.5 55.8L548.1 58.2L549.5 58.8L550.9 57.6" fill="none" stroke="#ea0e10" stroke-width="2" stroke-linejoin="round" stroke-linecap="round"/>
</g>
<path d="M454.69 15.00V114.05H554.29" fill="none" stroke="#000" stroke-width="1"/>
<path d="M458.34 114.05v6.5M476.81 114.05v6.5M495.28 114.05v6.5M513.75 114.05v6.5M532.22 114.05v6.5M550.69 114.05v6.5M454.69 18.50h-6.5M454.69 31.70h-6.5M454.69 44.90h-6.5M454.69 58.10h-6.5M454.69 71.30h-6.5M454.69 84.50h-6.5M454.69 97.70h-6.5M454.69 110.90h-6.5" fill="none" stroke="#000" stroke-width="1"/>
<text transform="translate(440.49 31.70) rotate(-90)" text-anchor="middle" font-family="'Liberation Sans', Arial, Helvetica, sans-serif" font-size="10.4" fill="#000">20</text>
<text transform="translate(440.49 58.10) rotate(-90)" text-anchor="middle" font-family="'Liberation Sans', Arial, Helvetica, sans-serif" font-size="10.4" fill="#000">10</text>
<text transform="translate(440.49 84.50) rotate(-90)" text-anchor="middle" font-family="'Liberation Sans', Arial, Helvetica, sans-serif" font-size="10.4" fill="#000">0</text>
<text transform="translate(440.49 110.90) rotate(-90)" text-anchor="middle" font-family="'Liberation Sans', Arial, Helvetica, sans-serif" font-size="10.4" fill="#000">−10</text>
<g clip-path="url(#c14)">
<path d="M584.2 35.8L585.1 35.3L586.1 39.7L587.1 41.9L588.3 39.7L589.5 41.9L590.9 44.8L592.4 47.0L594.9 47.7L597.1 47.0L599.2 48.5L600.7 49.5L602.9 48.5L605.1 47.7L607.3 46.3L609.5 46.0L611.7 44.8L613.8 44.5L616.0 44.8L618.2 43.8L620.4 44.1L622.6 45.5L624.4 46.7L626.3 45.5L628.5 44.1L630.6 43.1L632.8 41.9L635.0 40.7L637.2 38.2L639.4 34.6L641.6 29.5L643.8 25.8L646.0 23.6L648.2 22.5L650.3 22.2L653.3 22.2L655.5 23.2L657.6 25.1L659.8 28.0L661.3 29.9L662.7 30.5L664.9 32.0L667.1 33.9L669.3 34.9L671.5 36.4L673.7 37.2L675.6 38.5L676.6 37.5L677.0 101.3L675.6 100.7L673.5 98.3L670.5 94.3L666.5 88.3L662.5 84.3L658.5 81.3L654.5 78.3L651.5 77.3L648.4 78.9L644.4 82.9L640.4 87.3L636.4 91.3L632.4 94.3L628.4 96.9L624.3 98.9L620.3 99.7L616.3 100.7L612.3 101.9L608.3 103.4L604.2 104.8L600.2 106.4L596.2 107.8L593.2 108.0L590.6 107.0L588.2 104.4L586.2 100.3L584.6 96.3Z" fill="#e5e5e5"/>
<path d="M584.2 35.8L585.1 35.3L586.1 39.7L587.1 41.9L588.3 39.7L589.5 41.9L590.9 44.8L592.4 47.0L594.9 47.7L597.1 47.0L599.2 48.5L600.7 49.5L602.9 48.5L605.1 47.7L607.3 46.3L609.5 46.0L611.7 44.8L613.8 44.5L616.0 44.8L618.2 43.8L620.4 44.1L622.6 45.5L624.4 46.7L626.3 45.5L628.5 44.1L630.6 43.1L632.8 41.9L635.0 40.7L637.2 38.2L639.4 34.6L641.6 29.5L643.8 25.8L646.0 23.6L648.2 22.5L650.3 22.2L653.3 22.2L655.5 23.2L657.6 25.1L659.8 28.0L661.3 29.9L662.7 30.5L664.9 32.0L667.1 33.9L669.3 34.9L671.5 36.4L673.7 37.2L675.6 38.5L676.6 37.5M584.6 96.3L586.2 100.3L588.2 104.4L590.6 107.0L593.2 108.0L596.2 107.8L600.2 106.4L604.2 104.8L608.3 103.4L612.3 101.9L616.3 100.7L620.3 99.7L624.3 98.9L628.4 96.9L632.4 94.3L636.4 91.3L640.4 87.3L644.4 82.9L648.4 78.9L651.5 77.3L654.5 78.3L658.5 81.3L662.5 84.3L666.5 88.3L670.5 94.3L673.5 98.3L675.6 100.7L677.0 101.3" fill="none" stroke="#787878" stroke-width="1.1" stroke-linejoin="round"/>
<path d="M584.2 73.7L585.3 75.0L586.3 76.3L587.4 77.6L588.4 79.0L589.5 80.2L590.5 81.3L591.5 82.1L592.6 82.7L593.6 83.1L594.7 83.1L595.7 82.8L596.8 82.2L597.8 81.5L598.9 80.8L599.9 80.2L601.0 79.7L602.0 79.4L603.1 79.1L604.1 78.8L605.1 78.5L606.2 78.2L607.2 77.9L608.3 77.7L609.3 77.4L610.4 77.2L611.4 77.0L612.5 76.8L613.5 76.7L614.6 76.6L615.6 76.5L616.7 76.4L617.7 76.3L618.7 76.3L619.8 76.3L620.8 76.2L621.9 76.1L622.9 75.9L624.0 75.6L625.0 75.4L626.1 75.2L627.1 75.0L628.2 74.5L629.2 73.9L630.3 73.2L631.3 72.3L632.4 71.4L633.4 70.5L634.4 69.5L635.5 68.5L636.5 67.4L637.6 66.2L638.6 65.0L639.7 63.7L640.7 62.3L641.8 60.9L642.8 59.5L643.9 58.1L644.9 56.8L646.0 55.7L647.0 54.8L648.0 53.9L649.1 53.2L650.1 52.7L651.2 52.4L652.2 52.3L653.3 52.4L654.3 52.7L655.4 53.2L656.4 53.9L657.5 54.8L658.5 55.9L659.6 57.2L660.6 58.5L661.7 59.9L662.7 61.3L663.7 62.8L664.8 64.4L665.8 66.1L666.9 67.8L667.9 69.4L669.0 71.0L670.0 72.5L671.1 73.9L672.1 75.1L673.2 76.0L674.2 76.6L675.3 76.9L676.3 77.0L677.3 76.9" fill="none" stroke="#0a0ae6" stroke-width="2" stroke-linejoin="round" stroke-linecap="round"/>
<path d="M584.2 67.0L585.3 68.5L586.3 69.9L587.3 71.3L588.4 72.7L589.4 74.0L590.5 75.2L591.5 76.2L592.6 77.1L593.6 77.8L594.7 78.2L595.7 78.5L596.7 78.5L597.8 78.4L598.8 78.2L599.9 77.9L600.9 77.6L602.0 77.3L603.0 76.9L604.0 76.5L605.1 76.1L606.1 75.7L607.2 75.3L608.2 74.9L609.3 74.6L610.3 74.2L611.3 73.8L612.4 73.5L613.4 73.3L614.5 73.0L615.5 72.8L616.6 72.7L617.6 72.6L618.6 72.5L619.7 72.4L620.7 72.3L621.8 72.3L622.8 72.2L623.9 72.1L624.9 72.0L625.9 71.8L627.0 71.6L628.0 71.2L629.1 70.8L630.1 70.3L631.2 69.7L632.2 69.0L633.2 68.2L634.3 67.3L635.3 66.4L636.4 65.5L637.4 64.5L638.5 63.4L639.5 62.2L640.6 60.9L641.6 59.6L642.6 58.2L643.7 56.8L644.7 55.5L645.8 54.2L646.8 52.9L647.9 51.8L648.9 50.9L649.9 50.2L651.0 49.7L652.0 49.4L653.1 49.4L654.1 49.7L655.2 50.1L656.2 50.8L657.2 51.7L658.3 52.7L659.3 53.8L660.4 54.9L661.4 55.9L662.5 57.0L663.5 58.1L664.5 59.1L665.6 60.2L666.6 61.2L667.7 62.3L668.7 63.4L669.8 64.4L670.8 65.4L671.8 66.4L672.9 67.3L673.9 68.2L675.0 68.9L676.0 69.7L677.1 70.4" fill="none" stroke="#000" stroke-width="1.7" stroke-dasharray="1.7 6"/>
<path d="M584.2 59.4L585.1 59.1L585.8 63.1L586.5 66.4L587.6 67.5L588.6 68.9L589.8 70.4L591.2 71.4L592.7 72.3L594.1 72.1L595.6 72.9L597.1 72.6L598.5 73.7L600.0 75.2L601.2 75.9L602.6 74.7L604.4 73.3L606.6 71.8L608.7 70.4L610.9 69.6L613.1 68.9L615.3 68.2L617.5 67.9L619.7 67.6L621.1 68.2L622.6 69.6L624.4 70.4L625.5 69.3L627.7 68.2L629.9 67.5L632.1 66.7L634.3 66.4L636.5 65.0L638.7 62.3L640.8 58.7L643.0 54.3L645.2 50.6L647.4 47.7L648.9 47.0L651.1 47.5L653.3 47.5L655.5 48.5L656.9 50.6L658.4 52.1L660.6 53.9L662.7 54.7L664.9 55.0L667.1 56.5L668.6 57.7L670.8 58.3L673.0 59.4L674.4 61.6L675.9 62.8L677.3 62.3" fill="none" stroke="#ea0e10" stroke-width="2" stroke-linejoin="round" stroke-linecap="round"/>
</g>
<path d="M581.02 15.00V114.05H680.62" fill="none" stroke="#000" stroke-width="1"/>
<path d="M584.67 114.05v6.5M603.14 114.05v6.5M621.61 114.05v6.5M640.08 114.05v6.5M658.55 114.05v6.5M677.02 114.05v6.5M581.02 30.50h-6.5M581.02 53.30h-6.5M581.02 76.10h-6.5M581.02 98.90h-6.5" fill="none" stroke="#000" stroke-width="1"/>
<text transform="translate(566.82 30.50) rotate(-90)" text-anchor="middle" font-family="'Liberation Sans', Arial, Helvetica, sans-serif" font-size="10.4" fill="#000">20</text>
<text transform="translate(566.82 53.30) rotate(-90)" text-anchor="middle" font-family="'Liberation Sans', Arial, Helvetica, sans-serif" font-size="10.4" fill="#000">10</text>
<text transform="translate(566.82 76.10) rotate(-90)" text-anchor="middle" font-family="'Liberation Sans', Arial, Helvetica, sans-serif" font-size="10.4" fill="#000">0</text>
<text transform="translate(566.82 98.90) rotate(-90)" text-anchor="middle" font-family="'Liberation Sans', Arial, Helvetica, sans-serif" font-size="10.4" fill="#000">−10</text>
<g clip-path="url(#c20)">
<path d="M79.1 172.7L80.2 172.0L81.2 171.3L82.2 170.6L83.3 170.0L84.3 169.4L85.4 169.0L86.4 168.6L87.5 168.3L88.5 168.1L89.5 167.8L90.6 167.5L91.6 167.1L92.7 166.7L93.7 166.3L94.8 165.8L95.8 165.4L96.8 165.0L97.9 164.7L98.9 164.5L100.0 164.3L101.0 164.3L102.1 164.2L103.1 164.3L104.1 164.5L105.2 164.7L106.2 165.1L107.3 165.5L108.3 166.0L109.4 166.5L110.4 167.1L111.4 167.8L112.5 168.4L113.5 169.0L114.6 169.6L115.6 170.2L116.6 170.8L117.7 171.3L118.7 172.0L119.8 172.5L120.8 173.0L121.9 173.1L122.9 173.0L123.9 172.8L125.0 172.6L126.0 172.4L127.1 172.2L128.1 171.8L129.2 171.3L130.2 170.7L131.2 170.1L132.3 169.6L133.3 169.2L134.4 168.9L135.4 168.7L136.5 168.5L137.5 168.4L138.5 168.4L139.6 168.5L140.6 168.6L141.7 168.8L142.7 168.9L143.8 169.1L144.8 169.4L145.8 169.6L146.9 169.9L147.9 170.2L149.0 170.6L150.0 171.0L151.1 171.5L152.1 171.9L153.1 172.4L154.2 172.9L155.2 173.4L156.3 174.0L157.3 174.6L158.4 175.3L159.4 176.1L160.4 176.9L161.5 177.5L162.5 177.6L163.6 177.4L164.6 177.1L165.7 176.8L166.7 176.6L167.7 176.5L168.8 176.4L169.8 176.4L170.9 176.5L171.9 176.5L171.9 253.4L170.9 253.1L169.8 252.7L168.8 252.3L167.7 251.8L166.7 251.1L165.7 250.4L164.6 249.5L163.6 248.5L162.5 247.5L161.5 246.4L160.4 245.3L159.4 244.3L158.4 243.2L157.3 242.2L156.3 241.2L155.2 240.3L154.2 239.6L153.1 239.0L152.1 238.6L151.1 238.4L150.0 238.3L149.0 238.4L147.9 238.4L146.9 238.6L145.8 238.8L144.8 239.1L143.8 239.5L142.7 239.9L141.7 240.4L140.6 240.8L139.6 241.3L138.5 241.8L137.5 242.4L136.5 243.0L135.4 243.7L134.4 244.5L133.3 245.5L132.3 246.4L131.2 247.5L130.2 248.5L129.2 249.4L128.1 250.3L127.1 250.9L126.0 251.3L125.0 251.4L123.9 251.1L122.9 250.6L121.9 250.1L120.8 249.5L119.8 248.8L118.7 247.9L117.7 247.0L116.6 246.1L115.6 245.1L114.6 244.0L113.5 243.1L112.5 242.1L111.4 241.2L110.4 240.3L109.4 239.4L108.3 238.6L107.3 237.7L106.2 236.9L105.2 236.3L104.1 235.8L103.1 235.5L102.1 235.4L101.0 235.3L100.0 235.4L98.9 235.5L97.9 235.7L96.8 236.0L95.8 236.4L94.8 236.9L93.7 237.4L92.7 238.1L91.6 238.9L90.6 239.8L89.5 240.9L88.5 242.1L87.5 243.4L86.4 244.8L85.4 246.1L84.3 247.3L83.3 248.4L82.2 249.3L81.2 249.9L80.2 250.2L79.1 250.4Z" fill="#e5e5e5"/>
<path d="M79.1 172.7L80.2 172.0L81.2 171.3L82.2 170.6L83.3 170.0L84.3 169.4L85.4 169.0L86.4 168.6L87.5 168.3L88.5 168.1L89.5 167.8L90.6 167.5L91.6 167.1L92.7 166.7L93.7 166.3L94.8 165.8L95.8 165.4L96.8 165.0L97.9 164.7L98.9 164.5L100.0 164.3L101.0 164.3L102.1 164.2L103.1 164.3L104.1 164.5L105.2 164.7L106.2 165.1L107.3 165.5L108.3 166.0L109.4 166.5L110.4 167.1L111.4 167.8L112.5 168.4L113.5 169.0L114.6 169.6L115.6 170.2L116.6 170.8L117.7 171.3L118.7 172.0L119.8 172.5L120.8 173.0L121.9 173.1L122.9 173.0L123.9 172.8L125.0 172.6L126.0 172.4L127.1 172.2L128.1 171.8L129.2 171.3L130.2 170.7L131.2 170.1L132.3 169.6L133.3 169.2L134.4 168.9L135.4 168.7L136.5 168.5L137.5 168.4L138.5 168.4L139.6 168.5L140.6 168.6L141.7 168.8L142.7 168.9L143.8 169.1L144.8 169.4L145.8 169.6L146.9 169.9L147.9 170.2L149.0 170.6L150.0 171.0L151.1 171.5L152.1 171.9L153.1 172.4L154.2 172.9L155.2 173.4L156.3 174.0L157.3 174.6L158.4 175.3L159.4 176.1L160.4 176.9L161.5 177.5L162.5 177.6L163.6 177.4L164.6 177.1L165.7 176.8L166.7 176.6L167.7 176.5L168.8 176.4L169.8 176.4L170.9 176.5L171.9 176.5M79.1 250.4L80.2 250.2L81.2 249.9L82.2 249.3L83.3 248.4L84.3 247.3L85.4 246.1L86.4 244.8L87.5 243.4L88.5 242.1L89.5 240.9L90.6 239.8L91.6 238.9L92.7 238.1L93.7 237.4L94.8 236.9L95.8 236.4L96.8 236.0L97.9 235.7L98.9 235.5L100.0 235.4L101.0 235.3L102.1 235.4L103.1 235.5L104.1 235.8L105.2 236.3L106.2 236.9L107.3 237.7L108.3 238.6L109.4 239.4L110.4 240.3L111.4 241.2L112.5 242.1L113.5 243.1L114.6 244.0L115.6 245.1L116.6 246.1L117.7 247.0L118.7 247.9L119.8 248.8L120.8 249.5L121.9 250.1L122.9 250.6L123.9 251.1L125.0 251.4L126.0 251.3L127.1 250.9L128.1 250.3L129.2 249.4L130.2 248.5L131.2 247.5L132.3 246.4L133.3 245.5L134.4 244.5L135.4 243.7L136.5 243.0L137.5 242.4L138.5 241.8L139.6 241.3L140.6 240.8L141.7 240.4L142.7 239.9L143.8 239.5L144.8 239.1L145.8 238.8L146.9 238.6L147.9 238.4L149.0 238.4L150.0 238.3L151.1 238.4L152.1 238.6L153.1 239.0L154.2 239.6L155.2 240.3L156.3 241.2L157.3 242.2L158.4 243.2L159.4 244.3L160.4 245.3L161.5 246.4L162.5 247.5L163.6 248.5L164.6 249.5L165.7 250.4L166.7 251.1L167.7 251.8L168.8 252.3L169.8 252.7L170.9 253.1L171.9 253.4" fill="none" stroke="#787878" stroke-width="1.1" stroke-linejoin="round"/>
<path d="M79.1 213.8L80.2 213.7L81.2 213.5L82.2 213.2L83.3 212.6L84.3 211.9L85.4 211.0L86.4 210.1L87.5 209.1L88.5 207.8L89.5 206.3L90.6 204.9L91.6 203.8L92.7 203.0L93.7 202.4L94.8 201.9L95.8 201.4L96.8 200.9L97.9 200.6L98.9 200.4L100.0 200.2L101.0 200.2L102.1 200.2L103.1 200.2L104.1 200.4L105.2 200.6L106.2 200.9L107.3 201.3L108.3 201.8L109.4 202.3L110.4 202.7L111.4 203.2L112.5 203.8L113.5 204.4L114.6 205.1L115.6 205.8L116.6 206.4L117.7 207.0L118.7 207.5L119.8 207.9L120.8 208.1L121.9 208.3L122.9 208.4L123.9 208.4L125.0 208.3L126.0 208.1L127.1 207.9L128.1 207.6L129.2 207.3L130.2 206.9L131.2 206.4L132.3 206.0L133.3 205.6L134.4 205.4L135.4 205.2L136.5 205.0L137.5 204.8L138.5 204.5L139.6 204.2L140.6 203.8L141.7 203.5L142.7 203.2L143.8 203.0L144.8 202.7L145.8 202.5L146.9 202.3L147.9 202.2L149.0 202.3L150.0 202.7L151.1 203.3L152.1 204.2L153.1 205.1L154.2 206.0L155.2 206.9L156.3 207.8L157.3 209.0L158.4 210.8L159.4 212.7L160.4 214.2L161.5 215.0L162.5 215.2L163.6 215.3L164.6 215.5L165.7 215.9L166.7 216.3L167.7 216.9L168.8 217.6L169.8 218.5L170.9 218.5L171.9 217.3" fill="none" stroke="#0a0ae6" stroke-width="2" stroke-linejoin="round" stroke-linecap="round"/>
<path d="M79.1 211.5L79.8 211.3L80.4 211.1L81.1 210.9L81.8 210.6L82.4 210.3L83.1 209.9L83.8 209.5L84.5 209.0L85.1 208.6L85.8 208.1L86.5 207.5L87.1 206.9L87.8 206.3L88.5 205.6L89.1 204.9L89.8 204.2L90.5 203.5L91.1 202.9L91.8 202.4L92.5 201.9L93.1 201.5L93.8 201.2L94.5 200.9L95.1 200.6L95.8 200.3L96.5 200.0L97.1 199.8L97.8 199.6L98.5 199.5L99.1 199.4L99.8 199.4L100.5 199.4L101.1 199.4L101.8 199.5L102.5 199.5L103.1 199.6L103.8 199.8L104.5 199.9L105.1 200.1L105.8 200.4L106.5 200.7L107.2 201.0L107.8 201.4L108.5 201.7L109.2 202.1L109.8 202.6L110.5 203.0L111.2 203.5L111.8 204.1L112.5 204.6L113.2 205.3L113.8 205.9L114.5 206.6L115.2 207.3L115.8 207.9L116.5 208.6L117.2 209.2L117.8 209.7L118.5 210.2L119.2 210.6L119.8 211.0L120.5 211.3L121.2 211.5L121.8 211.7L122.5 211.8L123.2 211.9L123.8 212.0L124.5 212.0L125.2 212.0L125.8 211.9L126.5 211.8L127.2 211.6L127.9 211.3L128.5 211.0L129.2 210.6L129.9 210.2L130.5 209.6L131.2 209.1L131.9 208.5L132.5 208.0L133.2 207.5L133.9 207.2L134.5 206.8L135.2 206.6L135.9 206.3L136.5 206.1L137.2 205.9L137.9 205.7L138.5 205.5L139.2 205.4L139.9 205.2L140.5 205.1L141.2 205.0L141.9 204.8L142.5 204.8L143.2 204.7L143.9 204.6L144.5 204.5L145.2 204.4L145.9 204.4L146.5 204.3L147.2 204.2L147.9 204.2L148.5 204.2L149.2 204.3L149.9 204.4L150.6 204.6L151.2 204.8L151.9 205.1L152.6 205.4L153.2 205.8L153.9 206.1L154.6 206.5L155.2 206.9L155.9 207.3L156.6 207.8L157.2 208.3L157.9 209.0L158.6 209.7L159.2 210.5L159.9 211.1L160.6 211.7L161.2 212.1L161.9 212.3L162.6 212.5L163.2 212.7L163.9 212.8L164.6 213.0L165.2 213.3L165.9 213.5L166.6 213.8L167.2 214.0L167.9 214.3L168.6 214.7L169.2 215.0L169.9 215.4L170.6 215.5L171.2 215.4L171.9 215.1" fill="none" stroke="#000" stroke-width="1.7" stroke-dasharray="1.7 6"/>
<path d="M79.1 209.2L80.2 208.7L81.2 208.1L82.2 207.6L83.3 207.0L84.3 206.4L85.4 205.7L86.4 205.0L87.5 204.3L88.5 203.5L89.5 202.7L90.6 201.9L91.6 201.2L92.7 200.6L93.7 200.0L94.8 199.5L95.8 199.1L96.8 198.8L97.9 198.6L98.9 198.5L100.0 198.5L101.0 198.6L102.1 198.8L103.1 199.0L104.1 199.3L105.2 199.7L106.2 200.2L107.3 200.8L108.3 201.5L109.4 202.3L110.4 203.2L111.4 204.3L112.5 205.5L113.5 206.8L114.6 208.3L115.6 209.7L116.6 211.0L117.7 212.2L118.7 213.3L119.8 214.0L120.8 214.6L121.9 215.1L122.9 215.4L123.9 215.6L125.0 215.7L126.0 215.6L127.1 215.3L128.1 214.8L129.2 214.0L130.2 212.9L131.2 211.6L132.3 210.3L133.3 209.2L134.4 208.4L135.4 207.8L136.5 207.3L137.5 206.9L138.5 206.6L139.6 206.4L140.6 206.3L141.7 206.2L142.7 206.2L143.8 206.2L144.8 206.2L145.8 206.2L146.9 206.2L147.9 206.2L149.0 206.2L150.0 206.2L151.1 206.2L152.1 206.3L153.1 206.4L154.2 206.6L155.2 206.9L156.3 207.3L157.3 207.7L158.4 208.2L159.4 208.6L160.4 209.1L161.5 209.5L162.5 209.9L163.6 210.2L164.6 210.6L165.7 211.0L166.7 211.3L167.7 211.6L168.8 211.9L169.8 212.2L170.9 212.5L171.9 212.8" fill="none" stroke="#ea0e10" stroke-width="2" stroke-linejoin="round" stroke-linecap="round"/>
</g>
<path d="M75.70 152.45V251.50H175.30" fill="none" stroke="#000" stroke-width="1"/>
<path d="M79.35 251.50v6.5M97.82 251.50v6.5M116.29 251.50v6.5M134.76 251.50v6.5M153.23 251.50v6.5M171.70 251.50v6.5M75.70 156.30h-6.5M75.70 174.65h-6.5M75.70 193.00h-6.5M75.70 211.35h-6.5M75.70 229.70h-6.5M75.70 248.05h-6.5" fill="none" stroke="#000" stroke-width="1"/>
<text transform="translate(61.50 156.30) rotate(-90)" text-anchor="middle" font-family="'Liberation Sans', Arial, Helvetica, sans-serif" font-size="10.4" fill="#000">30</text>
<text transform="translate(61.50 193.00) rotate(-90)" text-anchor="middle" font-family="'Liberation Sans', Arial, Helvetica, sans-serif" font-size="10.4" fill="#000">20</text>
<text transform="translate(61.50 229.70) rotate(-90)" text-anchor="middle" font-family="'Liberation Sans', Arial, Helvetica, sans-serif" font-size="10.4" fill="#000">10</text>
<text transform="translate(61.50 248.05) rotate(-90)" text-anchor="middle" font-family="'Liberation Sans', Arial, Helvetica, sans-serif" font-size="10.4" fill="#000">5</text>
<g clip-path="url(#c21)">
<path d="M205.5 161.0L206.5 161.6L207.6 162.2L208.6 162.8L209.7 163.3L210.7 163.9L211.8 164.7L212.8 165.8L213.8 167.3L214.9 169.0L215.9 170.7L217.0 172.3L218.0 173.8L219.0 175.3L220.1 176.7L221.1 178.0L222.2 179.4L223.2 180.7L224.2 182.1L225.3 183.4L226.3 184.7L227.4 185.9L228.4 187.1L229.4 188.2L230.5 189.4L231.5 190.5L232.6 191.6L233.6 192.6L234.6 193.7L235.7 194.7L236.7 195.6L237.8 196.5L238.8 197.4L239.8 198.2L240.9 198.9L241.9 199.6L243.0 200.3L244.0 201.0L245.0 201.6L246.1 202.1L247.1 202.6L248.2 203.0L249.2 203.4L250.2 203.8L251.3 204.1L252.3 204.4L253.4 204.6L254.4 204.6L255.5 204.5L256.5 204.3L257.5 203.9L258.6 203.5L259.6 202.9L260.7 202.3L261.7 201.4L262.7 200.4L263.8 199.2L264.8 197.8L265.9 196.3L266.9 194.8L267.9 193.2L269.0 191.5L270.0 189.8L271.1 188.0L272.1 186.2L273.1 184.4L274.2 182.5L275.2 180.7L276.3 178.8L277.3 177.0L278.3 175.2L279.4 173.6L280.4 172.0L281.5 170.5L282.5 169.0L283.5 167.6L284.6 166.2L285.6 165.0L286.7 163.8L287.7 162.9L288.7 162.1L289.8 161.4L290.8 160.9L291.9 160.5L292.9 160.4L294.0 160.5L295.0 161.0L296.0 161.5L297.1 162.1L298.1 162.6L298.1 206.2L297.1 205.2L296.0 204.2L295.0 203.0L294.0 201.7L292.9 200.6L291.9 199.8L290.8 199.3L289.8 199.2L288.7 199.2L287.7 199.4L286.7 199.7L285.6 200.1L284.6 200.6L283.5 201.3L282.5 202.1L281.5 203.2L280.4 204.4L279.4 205.9L278.3 207.6L277.3 209.4L276.3 211.4L275.2 213.5L274.2 215.7L273.1 217.8L272.1 219.9L271.1 222.0L270.0 224.0L269.0 226.1L267.9 228.1L266.9 230.2L265.9 232.3L264.8 234.5L263.8 236.7L262.7 238.8L261.7 240.8L260.7 242.5L259.6 244.0L258.6 245.2L257.5 246.2L256.5 247.0L255.5 247.6L254.4 248.0L253.4 248.2L252.3 248.2L251.3 248.1L250.2 247.8L249.2 247.3L248.2 246.8L247.1 246.3L246.1 245.7L245.0 245.0L244.0 244.4L243.0 243.7L241.9 242.9L240.9 242.0L239.8 241.0L238.8 240.0L237.8 238.9L236.7 237.8L235.7 236.8L234.6 235.8L233.6 234.8L232.6 233.7L231.5 232.6L230.5 231.5L229.4 230.3L228.4 229.0L227.4 227.7L226.3 226.4L225.3 225.2L224.2 224.0L223.2 222.7L222.2 221.5L221.1 220.2L220.1 218.9L219.0 217.5L218.0 216.2L217.0 215.0L215.9 214.0L214.9 213.2L213.8 212.5L212.8 211.7L211.8 210.9L210.7 209.9L209.7 208.8L208.6 207.7L207.6 206.4L206.5 205.1L205.5 203.8Z" fill="#e5e5e5"/>
<path d="M205.5 161.0L206.5 161.6L207.6 162.2L208.6 162.8L209.7 163.3L210.7 163.9L211.8 164.7L212.8 165.8L213.8 167.3L214.9 169.0L215.9 170.7L217.0 172.3L218.0 173.8L219.0 175.3L220.1 176.7L221.1 178.0L222.2 179.4L223.2 180.7L224.2 182.1L225.3 183.4L226.3 184.7L227.4 185.9L228.4 187.1L229.4 188.2L230.5 189.4L231.5 190.5L232.6 191.6L233.6 192.6L234.6 193.7L235.7 194.7L236.7 195.6L237.8 196.5L238.8 197.4L239.8 198.2L240.9 198.9L241.9 199.6L243.0 200.3L244.0 201.0L245.0 201.6L246.1 202.1L247.1 202.6L248.2 203.0L249.2 203.4L250.2 203.8L251.3 204.1L252.3 204.4L253.4 204.6L254.4 204.6L255.5 204.5L256.5 204.3L257.5 203.9L258.6 203.5L259.6 202.9L260.7 202.3L261.7 201.4L262.7 200.4L263.8 199.2L264.8 197.8L265.9 196.3L266.9 194.8L267.9 193.2L269.0 191.5L270.0 189.8L271.1 188.0L272.1 186.2L273.1 184.4L274.2 182.5L275.2 180.7L276.3 178.8L277.3 177.0L278.3 175.2L279.4 173.6L280.4 172.0L281.5 170.5L282.5 169.0L283.5 167.6L284.6 166.2L285.6 165.0L286.7 163.8L287.7 162.9L288.7 162.1L289.8 161.4L290.8 160.9L291.9 160.5L292.9 160.4L294.0 160.5L295.0 161.0L296.0 161.5L297.1 162.1L298.1 162.6M205.5 203.8L206.5 205.1L207.6 206.4L208.6 207.7L209.7 208.8L210.7 209.9L211.8 210.9L212.8 211.7L213.8 212.5L214.9 213.2L215.9 214.0L217.0 215.0L218.0 216.2L219.0 217.5L220.1 218.9L221.1 220.2L222.2 221.5L223.2 222.7L224.2 224.0L225.3 225.2L226.3 226.4L227.4 227.7L228.4 229.0L229.4 230.3L230.5 231.5L231.5 232.6L232.6 233.7L233.6 234.8L234.6 235.8L235.7 236.8L236.7 237.8L237.8 238.9L238.8 240.0L239.8 241.0L240.9 242.0L241.9 242.9L243.0 243.7L244.0 244.4L245.0 245.0L246.1 245.7L247.1 246.3L248.2 246.8L249.2 247.3L250.2 247.8L251.3 248.1L252.3 248.2L253.4 248.2L254.4 248.0L255.5 247.6L256.5 247.0L257.5 246.2L258.6 245.2L259.6 244.0L260.7 242.5L261.7 240.8L262.7 238.8L263.8 236.7L264.8 234.5L265.9 232.3L266.9 230.2L267.9 228.1L269.0 226.1L270.0 224.0L271.1 222.0L272.1 219.9L273.1 217.8L274.2 215.7L275.2 213.5L276.3 211.4L277.3 209.4L278.3 207.6L279.4 205.9L280.4 204.4L281.5 203.2L282.5 202.1L283.5 201.3L284.6 200.6L285.6 200.1L286.7 199.7L287.7 199.4L288.7 199.2L289.8 199.2L290.8 199.3L291.9 199.8L292.9 200.6L294.0 201.7L295.0 203.0L296.0 204.2L297.1 205.2L298.1 206.2" fill="none" stroke="#787878" stroke-width="1.1" stroke-linejoin="round"/>
<path d="M205.5 181.7L206.5 183.1L207.6 184.4L208.6 185.6L209.7 186.7L210.7 187.7L211.8 188.6L212.8 189.5L213.8 190.3L214.9 191.1L215.9 192.0L217.0 193.0L218.0 194.1L219.0 195.4L220.1 196.7L221.1 198.1L222.2 199.4L223.2 200.7L224.2 202.0L225.3 203.2L226.3 204.3L227.4 205.5L228.4 206.6L229.4 207.8L230.5 208.9L231.5 209.9L232.6 211.0L233.6 212.0L234.6 213.1L235.7 214.1L236.7 215.1L237.8 216.2L238.8 217.3L239.8 218.3L240.9 219.3L241.9 220.3L243.0 221.2L244.0 222.0L245.0 222.8L246.1 223.6L247.1 224.2L248.2 224.8L249.2 225.3L250.2 225.7L251.3 226.0L252.3 226.1L253.4 226.1L254.4 225.9L255.5 225.4L256.5 224.8L257.5 224.0L258.6 223.1L259.6 222.0L260.7 220.7L261.7 219.4L262.7 217.9L263.8 216.3L264.8 214.6L265.9 212.8L266.9 210.9L267.9 208.9L269.0 206.9L270.0 204.9L271.1 202.9L272.1 200.9L273.1 198.9L274.2 197.0L275.2 195.1L276.3 193.4L277.3 191.7L278.3 190.1L279.4 188.6L280.4 187.2L281.5 186.0L282.5 184.9L283.5 183.9L284.6 183.2L285.6 182.5L286.7 182.0L287.7 181.6L288.7 181.4L289.8 181.2L290.8 181.1L291.9 181.2L292.9 181.3L294.0 181.7L295.0 182.2L296.0 182.8L297.1 183.5L298.1 184.1" fill="none" stroke="#0a0ae6" stroke-width="2" stroke-linejoin="round" stroke-linecap="round"/>
<path d="M205.5 182.4L206.2 183.2L206.8 184.0L207.5 184.7L208.2 185.4L208.8 186.1L209.5 186.8L210.2 187.5L210.8 188.1L211.5 188.6L212.2 189.2L212.8 189.7L213.5 190.2L214.2 190.7L214.8 191.2L215.5 191.7L216.2 192.3L216.8 192.9L217.5 193.5L218.2 194.3L218.8 195.1L219.5 196.0L220.2 196.8L220.8 197.7L221.5 198.6L222.2 199.4L222.8 200.3L223.5 201.1L224.2 201.9L224.8 202.6L225.5 203.4L226.2 204.2L226.8 204.9L227.5 205.7L228.2 206.4L228.8 207.1L229.5 207.8L230.2 208.5L230.8 209.2L231.5 209.9L232.2 210.6L232.8 211.2L233.5 211.9L234.2 212.6L234.8 213.2L235.5 213.9L236.2 214.6L236.8 215.2L237.5 215.9L238.2 216.6L238.8 217.3L239.5 217.9L240.2 218.6L240.8 219.2L241.5 219.9L242.1 220.5L242.8 221.1L243.5 221.6L244.1 222.1L244.8 222.6L245.5 223.1L246.1 223.6L246.8 224.0L247.5 224.4L248.1 224.8L248.8 225.1L249.5 225.5L250.1 225.7L250.8 226.0L251.5 226.1L252.1 226.3L252.8 226.3L253.5 226.4L254.1 226.3L254.8 226.2L255.5 226.0L256.1 225.7L256.8 225.3L257.5 224.9L258.1 224.4L258.8 223.9L259.5 223.3L260.1 222.7L260.8 222.0L261.5 221.2L262.1 220.3L262.8 219.5L263.5 218.5L264.1 217.5L264.8 216.4L265.5 215.3L266.1 214.2L266.8 213.0L267.5 211.8L268.1 210.5L268.8 209.3L269.5 208.0L270.1 206.7L270.8 205.4L271.5 204.1L272.1 202.8L272.8 201.5L273.5 200.2L274.1 198.9L274.8 197.7L275.5 196.4L276.1 195.2L276.8 194.1L277.5 192.9L278.1 191.8L278.8 190.8L279.5 189.8L280.1 188.8L280.8 187.9L281.5 187.0L282.1 186.2L282.8 185.5L283.5 184.8L284.1 184.2L284.8 183.6L285.5 183.1L286.1 182.6L286.8 182.2L287.5 181.9L288.1 181.7L288.8 181.4L289.5 181.3L290.1 181.2L290.8 181.1L291.5 181.1L292.1 181.2L292.8 181.3L293.4 181.5L294.1 181.8L294.8 182.2L295.4 182.6L296.1 183.1L296.8 183.5L297.4 184.0L298.1 184.4" fill="none" stroke="#000" stroke-width="1.7" stroke-dasharray="1.7 6"/>
<path d="M205.5 183.1L206.5 184.2L207.6 185.2L208.6 186.3L209.7 187.3L210.7 188.2L211.8 189.1L212.8 189.9L213.8 190.6L214.9 191.3L215.9 192.1L217.0 193.0L218.0 194.1L219.0 195.3L220.1 196.7L221.1 198.1L222.2 199.4L223.2 200.7L224.2 202.0L225.3 203.2L226.3 204.3L227.4 205.5L228.4 206.6L229.4 207.8L230.5 208.9L231.5 209.9L232.6 211.0L233.6 212.0L234.6 213.1L235.7 214.1L236.7 215.1L237.8 216.2L238.8 217.3L239.8 218.3L240.9 219.3L241.9 220.3L243.0 221.2L244.0 222.0L245.0 222.8L246.1 223.6L247.1 224.2L248.2 224.9L249.2 225.4L250.2 225.9L251.3 226.3L252.3 226.5L253.4 226.7L254.4 226.7L255.5 226.5L256.5 226.2L257.5 225.7L258.6 225.1L259.6 224.4L260.7 223.5L261.7 222.4L262.7 221.2L263.8 219.8L264.8 218.2L265.9 216.5L266.9 214.7L267.9 212.9L269.0 210.9L270.0 209.0L271.1 206.9L272.1 204.8L273.1 202.7L274.2 200.6L275.2 198.6L276.3 196.6L277.3 194.7L278.3 192.9L279.4 191.2L280.4 189.6L281.5 188.0L282.5 186.7L283.5 185.4L284.6 184.3L285.6 183.4L286.7 182.6L287.7 182.0L288.7 181.5L289.8 181.2L290.8 181.1L291.9 181.1L292.9 181.3L294.0 181.8L295.0 182.4L296.0 183.2L297.1 184.0L298.1 184.7" fill="none" stroke="#ea0e10" stroke-width="2" stroke-linejoin="round" stroke-linecap="round"/>
</g>
<path d="M202.03 152.45V251.50H301.63" fill="none" stroke="#000" stroke-width="1"/>
<path d="M205.68 251.50v6.5M224.15 251.50v6.5M242.62 251.50v6.5M261.09 251.50v6.5M279.56 251.50v6.5M298.03 251.50v6.5M202.03 156.40h-6.5M202.03 169.47h-6.5M202.03 182.54h-6.5M202.03 195.61h-6.5M202.03 208.68h-6.5M202.03 221.75h-6.5M202.03 234.82h-6.5M202.03 247.89h-6.5" fill="none" stroke="#000" stroke-width="1"/>
<text transform="translate(187.83 169.47) rotate(-90)" text-anchor="middle" font-family="'Liberation Sans', Arial, Helvetica, sans-serif" font-size="10.4" fill="#000">50</text>
<text transform="translate(187.83 195.61) rotate(-90)" text-anchor="middle" font-family="'Liberation Sans', Arial, Helvetica, sans-serif" font-size="10.4" fill="#000">30</text>
<text transform="translate(187.83 221.75) rotate(-90)" text-anchor="middle" font-family="'Liberation Sans', Arial, Helvetica, sans-serif" font-size="10.4" fill="#000">10</text>
<text transform="translate(187.83 247.89) rotate(-90)" text-anchor="middle" font-family="'Liberation Sans', Arial, Helvetica, sans-serif" font-size="10.4" fill="#000">−10</text>
<g clip-path="url(#c22)">
<path d="M331.5 205.6L332.6 206.7L333.6 207.6L334.6 207.9L335.7 207.6L336.7 207.1L337.8 206.4L338.8 205.9L339.9 205.6L340.9 205.7L342.0 206.1L343.0 206.7L344.0 207.5L345.1 208.3L346.1 209.2L347.2 210.2L348.2 211.3L349.3 212.3L350.3 213.4L351.4 214.4L352.4 215.4L353.5 216.3L354.5 217.2L355.5 217.9L356.6 218.4L357.6 218.9L358.7 219.2L359.7 219.3L360.8 219.3L361.8 219.2L362.9 219.0L363.9 218.7L364.9 218.3L366.0 217.8L367.0 217.4L368.1 216.9L369.1 216.4L370.2 215.9L371.2 215.3L372.3 214.7L373.3 213.9L374.4 213.1L375.4 212.1L376.4 211.0L377.5 209.7L378.5 208.3L379.6 206.8L380.6 205.3L381.7 203.7L382.7 201.9L383.8 200.0L384.8 197.8L385.8 195.5L386.9 193.2L387.9 190.8L389.0 188.5L390.0 186.3L391.1 184.1L392.1 182.0L393.2 180.1L394.2 178.3L395.3 176.9L396.3 175.7L397.3 174.8L398.4 174.2L399.4 173.7L400.5 173.3L401.5 173.0L402.6 172.9L403.6 172.9L404.7 173.1L405.7 173.4L406.7 173.9L407.8 174.5L408.8 175.5L409.9 176.7L410.9 178.2L412.0 180.0L413.0 182.0L414.1 184.2L415.1 186.6L416.2 189.0L417.2 191.5L418.2 193.9L419.3 196.4L420.3 198.8L421.4 201.2L422.4 203.5L423.5 205.3L424.5 206.8L424.5 227.9L423.5 227.7L422.4 227.2L421.4 226.3L420.3 225.1L419.3 223.7L418.2 222.1L417.2 220.4L416.2 218.4L415.1 216.4L414.1 214.5L413.0 212.7L412.0 211.0L410.9 209.4L409.9 207.9L408.8 206.6L407.8 205.6L406.7 205.0L405.7 204.5L404.7 204.1L403.6 203.8L402.6 203.6L401.5 203.6L400.5 203.9L399.4 204.2L398.4 204.6L397.3 205.0L396.3 205.5L395.3 206.3L394.2 207.4L393.2 208.6L392.1 210.1L391.1 211.7L390.0 213.4L389.0 215.2L387.9 217.1L386.9 219.2L385.8 221.3L384.8 223.4L383.8 225.5L382.7 227.5L381.7 229.3L380.6 231.0L379.6 232.6L378.5 233.9L377.5 235.2L376.4 236.3L375.4 237.3L374.4 238.1L373.3 238.9L372.3 239.5L371.2 240.0L370.2 240.4L369.1 240.6L368.1 240.7L367.0 240.7L366.0 240.6L364.9 240.4L363.9 240.2L362.9 239.8L361.8 239.4L360.8 239.0L359.7 238.6L358.7 238.1L357.6 237.6L356.6 237.1L355.5 236.5L354.5 235.9L353.5 235.4L352.4 234.7L351.4 234.0L350.3 233.3L349.3 232.5L348.2 231.7L347.2 230.9L346.1 230.1L345.1 229.3L344.0 228.6L343.0 227.8L342.0 227.0L340.9 226.3L339.9 225.8L338.8 225.4L337.8 225.3L336.7 225.4L335.7 225.7L334.6 226.1L333.6 226.5L332.6 226.7L331.5 226.9Z" fill="#e5e5e5"/>
<path d="M331.5 205.6L332.6 206.7L333.6 207.6L334.6 207.9L335.7 207.6L336.7 207.1L337.8 206.4L338.8 205.9L339.9 205.6L340.9 205.7L342.0 206.1L343.0 206.7L344.0 207.5L345.1 208.3L346.1 209.2L347.2 210.2L348.2 211.3L349.3 212.3L350.3 213.4L351.4 214.4L352.4 215.4L353.5 216.3L354.5 217.2L355.5 217.9L356.6 218.4L357.6 218.9L358.7 219.2L359.7 219.3L360.8 219.3L361.8 219.2L362.9 219.0L363.9 218.7L364.9 218.3L366.0 217.8L367.0 217.4L368.1 216.9L369.1 216.4L370.2 215.9L371.2 215.3L372.3 214.7L373.3 213.9L374.4 213.1L375.4 212.1L376.4 211.0L377.5 209.7L378.5 208.3L379.6 206.8L380.6 205.3L381.7 203.7L382.7 201.9L383.8 200.0L384.8 197.8L385.8 195.5L386.9 193.2L387.9 190.8L389.0 188.5L390.0 186.3L391.1 184.1L392.1 182.0L393.2 180.1L394.2 178.3L395.3 176.9L396.3 175.7L397.3 174.8L398.4 174.2L399.4 173.7L400.5 173.3L401.5 173.0L402.6 172.9L403.6 172.9L404.7 173.1L405.7 173.4L406.7 173.9L407.8 174.5L408.8 175.5L409.9 176.7L410.9 178.2L412.0 180.0L413.0 182.0L414.1 184.2L415.1 186.6L416.2 189.0L417.2 191.5L418.2 193.9L419.3 196.4L420.3 198.8L421.4 201.2L422.4 203.5L423.5 205.3L424.5 206.8M331.5 226.9L332.6 226.7L333.6 226.5L334.6 226.1L335.7 225.7L336.7 225.4L337.8 225.3L338.8 225.4L339.9 225.8L340.9 226.3L342.0 227.0L343.0 227.8L344.0 228.6L345.1 229.3L346.1 230.1L347.2 230.9L348.2 231.7L349.3 232.5L350.3 233.3L351.4 234.0L352.4 234.7L353.5 235.4L354.5 235.9L355.5 236.5L356.6 237.1L357.6 237.6L358.7 238.1L359.7 238.6L360.8 239.0L361.8 239.4L362.9 239.8L363.9 240.2L364.9 240.4L366.0 240.6L367.0 240.7L368.1 240.7L369.1 240.6L370.2 240.4L371.2 240.0L372.3 239.5L373.3 238.9L374.4 238.1L375.4 237.3L376.4 236.3L377.5 235.2L378.5 233.9L379.6 232.6L380.6 231.0L381.7 229.3L382.7 227.5L383.8 225.5L384.8 223.4L385.8 221.3L386.9 219.2L387.9 217.1L389.0 215.2L390.0 213.4L391.1 211.7L392.1 210.1L393.2 208.6L394.2 207.4L395.3 206.3L396.3 205.5L397.3 205.0L398.4 204.6L399.4 204.2L400.5 203.9L401.5 203.6L402.6 203.6L403.6 203.8L404.7 204.1L405.7 204.5L406.7 205.0L407.8 205.6L408.8 206.6L409.9 207.9L410.9 209.4L412.0 211.0L413.0 212.7L414.1 214.5L415.1 216.4L416.2 218.4L417.2 220.4L418.2 222.1L419.3 223.7L420.3 225.1L421.4 226.3L422.4 227.2L423.5 227.7L424.5 227.9" fill="none" stroke="#787878" stroke-width="1.1" stroke-linejoin="round"/>
<path d="M331.5 215.9L332.6 215.6L333.6 215.4L334.6 215.2L335.7 215.0L336.7 214.9L337.8 214.8L338.8 214.9L339.9 215.2L340.9 215.6L342.0 216.3L343.0 217.1L344.0 218.2L345.1 219.3L346.1 220.5L347.2 221.7L348.2 222.7L349.3 223.7L350.3 224.6L351.4 225.4L352.4 226.2L353.5 226.9L354.5 227.5L355.5 228.1L356.6 228.5L357.6 228.9L358.7 229.2L359.7 229.4L360.8 229.6L361.8 229.7L362.9 229.7L363.9 229.7L364.9 229.5L366.0 229.3L367.0 229.0L368.1 228.6L369.1 228.3L370.2 227.8L371.2 227.3L372.3 226.7L373.3 226.0L374.4 225.2L375.4 224.2L376.4 223.1L377.5 221.8L378.5 220.4L379.6 218.9L380.6 217.2L381.7 215.4L382.7 213.5L383.8 211.4L384.8 209.2L385.8 206.9L386.9 204.6L387.9 202.3L389.0 200.1L390.0 198.0L391.1 196.1L392.1 194.4L393.2 192.9L394.2 191.7L395.3 190.7L396.3 189.9L397.3 189.4L398.4 189.0L399.4 188.7L400.5 188.5L401.5 188.4L402.6 188.3L403.6 188.4L404.7 188.5L405.7 188.8L406.7 189.3L407.8 190.0L408.8 191.0L409.9 192.2L410.9 193.7L412.0 195.4L413.0 197.3L414.1 199.4L415.1 201.5L416.2 203.8L417.2 206.0L418.2 208.1L419.3 210.1L420.3 212.0L421.4 213.7L422.4 215.2L423.5 216.3L424.5 217.3" fill="none" stroke="#0a0ae6" stroke-width="2" stroke-linejoin="round" stroke-linecap="round"/>
<path d="M331.5 216.6L332.2 216.8L332.8 217.0L333.5 217.2L334.2 217.2L334.9 217.3L335.5 217.2L336.2 217.2L336.9 217.1L337.5 217.0L338.2 217.0L338.9 217.0L339.5 217.1L340.2 217.3L340.9 217.6L341.5 217.9L342.2 218.4L342.9 218.9L343.6 219.4L344.2 220.0L344.9 220.6L345.6 221.2L346.2 221.8L346.9 222.4L347.6 223.0L348.2 223.6L348.9 224.1L349.6 224.6L350.2 225.1L350.9 225.6L351.6 226.0L352.2 226.5L352.9 226.9L353.6 227.3L354.3 227.6L354.9 228.0L355.6 228.3L356.3 228.6L356.9 228.8L357.6 229.1L358.3 229.3L358.9 229.4L359.6 229.6L360.3 229.7L360.9 229.8L361.6 229.8L362.3 229.8L363.0 229.8L363.6 229.8L364.3 229.7L365.0 229.6L365.6 229.5L366.3 229.3L367.0 229.2L367.6 229.0L368.3 228.8L369.0 228.6L369.6 228.3L370.3 228.0L371.0 227.7L371.7 227.4L372.3 227.0L373.0 226.6L373.7 226.1L374.3 225.6L375.0 225.0L375.7 224.4L376.3 223.7L377.0 223.0L377.7 222.2L378.3 221.4L379.0 220.5L379.7 219.6L380.4 218.6L381.0 217.5L381.7 216.5L382.4 215.3L383.0 214.1L383.7 212.8L384.4 211.4L385.0 210.0L385.7 208.6L386.4 207.1L387.0 205.6L387.7 204.1L388.4 202.6L389.1 201.2L389.7 199.8L390.4 198.5L391.1 197.2L391.7 196.0L392.4 194.8L393.1 193.7L393.7 192.8L394.4 191.9L395.1 191.2L395.7 190.6L396.4 190.0L397.1 189.6L397.7 189.3L398.4 189.0L399.1 188.8L399.8 188.7L400.4 188.5L401.1 188.4L401.8 188.4L402.4 188.4L403.1 188.4L403.8 188.4L404.4 188.5L405.1 188.7L405.8 188.9L406.4 189.2L407.1 189.5L407.8 190.0L408.5 190.6L409.1 191.3L409.8 192.1L410.5 193.1L411.1 194.1L411.8 195.2L412.5 196.3L413.1 197.6L413.8 198.9L414.5 200.2L415.1 201.6L415.8 203.1L416.5 204.5L417.2 205.9L417.8 207.3L418.5 208.6L419.2 209.9L419.8 211.1L420.5 212.2L421.2 213.3L421.8 214.3L422.5 215.2L423.2 216.0L423.8 216.6L424.5 217.3" fill="none" stroke="#000" stroke-width="1.7" stroke-dasharray="1.7 6"/>
<path d="M331.5 217.3L332.6 218.2L333.6 219.0L334.6 219.4L335.7 219.5L336.7 219.3L337.8 219.2L338.8 219.1L339.9 219.2L340.9 219.5L342.0 220.1L343.0 220.8L344.0 221.5L345.1 222.2L346.1 223.0L347.2 223.7L348.2 224.4L349.3 225.1L350.3 225.8L351.4 226.4L352.4 227.0L353.5 227.5L354.5 228.0L355.5 228.4L356.6 228.9L357.6 229.3L358.7 229.6L359.7 229.8L360.8 229.9L361.8 230.0L362.9 229.9L363.9 229.9L364.9 229.7L366.0 229.6L367.0 229.4L368.1 229.1L369.1 228.8L370.2 228.4L371.2 227.9L372.3 227.4L373.3 226.8L374.4 226.1L375.4 225.2L376.4 224.2L377.5 223.1L378.5 221.8L379.6 220.5L380.6 219.2L381.7 217.6L382.7 216.0L383.8 214.0L384.8 211.9L385.8 209.6L386.9 207.3L387.9 204.9L389.0 202.6L390.0 200.3L391.1 198.2L392.1 196.1L393.2 194.3L394.2 192.7L395.3 191.3L396.3 190.3L397.3 189.6L398.4 189.1L399.4 188.7L400.5 188.5L401.5 188.4L402.6 188.3L403.6 188.4L404.7 188.5L405.7 188.8L406.7 189.3L407.8 190.0L408.8 191.0L409.9 192.2L410.9 193.7L412.0 195.4L413.0 197.3L414.1 199.4L415.1 201.5L416.2 203.8L417.2 206.0L418.2 208.1L419.3 210.1L420.3 212.0L421.4 213.7L422.4 215.2L423.5 216.3L424.5 217.3" fill="none" stroke="#ea0e10" stroke-width="2" stroke-linejoin="round" stroke-linecap="round"/>
</g>
<path d="M328.36 152.45V251.50H427.96" fill="none" stroke="#000" stroke-width="1"/>
<path d="M332.01 251.50v6.5M350.48 251.50v6.5M368.95 251.50v6.5M387.42 251.50v6.5M405.89 251.50v6.5M424.36 251.50v6.5M328.36 156.40h-6.5M328.36 179.25h-6.5M328.36 202.10h-6.5M328.36 224.95h-6.5M328.36 247.80h-6.5" fill="none" stroke="#000" stroke-width="1"/>
<text transform="translate(314.16 156.40) rotate(-90)" text-anchor="middle" font-family="'Liberation Sans', Arial, Helvetica, sans-serif" font-size="10.4" fill="#000">80</text>
<text transform="translate(314.16 179.25) rotate(-90)" text-anchor="middle" font-family="'Liberation Sans', Arial, Helvetica, sans-serif" font-size="10.4" fill="#000">60</text>
<text transform="translate(314.16 202.10) rotate(-90)" text-anchor="middle" font-family="'Liberation Sans', Arial, Helvetica, sans-serif" font-size="10.4" fill="#000">40</text>
<text transform="translate(314.16 224.95) rotate(-90)" text-anchor="middle" font-family="'Liberation Sans', Arial, Helvetica, sans-serif" font-size="10.4" fill="#000">20</text>
<text transform="translate(314.16 247.80) rotate(-90)" text-anchor="middle" font-family="'Liberation Sans', Arial, Helvetica, sans-serif" font-size="10.4" fill="#000">0</text>
<g clip-path="url(#c23)">
<path d="M458.1 198.8L459.2 199.5L460.2 199.6L461.2 198.5L462.3 196.7L463.3 194.9L464.4 193.3L465.4 192.0L466.5 190.8L467.5 189.7L468.5 188.7L469.6 187.8L470.6 187.0L471.7 186.4L472.7 185.8L473.8 185.2L474.8 184.7L475.8 184.1L476.9 183.7L477.9 183.2L479.0 182.9L480.0 182.5L481.1 182.2L482.1 181.8L483.1 181.5L484.2 181.1L485.2 180.7L486.3 180.2L487.3 179.7L488.4 179.2L489.4 178.6L490.4 178.1L491.5 177.5L492.5 176.9L493.6 176.3L494.6 175.7L495.6 175.1L496.7 174.5L497.7 173.8L498.8 173.1L499.8 172.5L500.9 171.9L501.9 171.4L502.9 171.1L504.0 171.1L505.0 171.5L506.1 172.2L507.1 173.4L508.2 175.0L509.2 176.8L510.2 179.0L511.3 181.5L512.3 184.1L513.4 186.8L514.4 189.7L515.5 192.4L516.5 195.1L517.5 197.5L518.6 199.6L519.6 201.2L520.7 202.1L521.7 202.4L522.8 202.0L523.8 201.1L524.8 199.9L525.9 198.6L526.9 197.3L528.0 196.1L529.0 194.9L530.1 193.9L531.1 193.0L532.1 192.3L533.2 191.8L534.2 191.3L535.3 190.6L536.3 189.8L537.4 189.2L538.4 188.8L539.4 188.7L540.5 188.9L541.5 189.4L542.6 190.2L543.6 191.4L544.7 192.9L545.7 194.5L546.7 196.3L547.8 197.9L548.8 199.1L549.9 199.8L550.9 200.2L550.9 237.9L549.9 237.9L548.8 237.6L547.8 236.7L546.7 235.6L545.7 234.5L544.7 233.4L543.6 232.4L542.6 231.6L541.5 231.0L540.5 230.7L539.4 230.8L538.4 231.1L537.4 231.3L536.3 231.4L535.3 231.6L534.2 232.0L533.2 232.9L532.1 234.0L531.1 235.3L530.1 236.7L529.0 238.1L528.0 239.6L526.9 241.2L525.9 242.9L524.8 244.8L523.8 246.5L522.8 247.7L521.7 248.1L520.7 247.7L519.6 247.2L518.6 246.5L517.5 245.9L516.5 245.2L515.5 244.4L514.4 243.4L513.4 242.1L512.3 240.3L511.3 238.2L510.2 235.9L509.2 233.4L508.2 230.9L507.1 228.7L506.1 226.7L505.0 224.8L504.0 222.9L502.9 221.2L501.9 219.7L500.9 218.4L499.8 217.3L498.8 216.4L497.7 215.8L496.7 215.3L495.6 215.2L494.6 215.3L493.6 215.6L492.5 215.9L491.5 216.2L490.4 216.5L489.4 216.8L488.4 217.2L487.3 217.5L486.3 217.9L485.2 218.3L484.2 218.6L483.1 218.9L482.1 219.1L481.1 219.3L480.0 219.3L479.0 219.3L477.9 219.3L476.9 219.3L475.8 219.3L474.8 219.4L473.8 219.5L472.7 219.8L471.7 220.2L470.6 220.7L469.6 221.3L468.5 222.2L467.5 223.2L466.5 224.1L465.4 224.7L464.4 225.3L463.3 226.1L462.3 227.5L461.2 229.5L460.2 232.1L459.2 235.1L458.1 238.3Z" fill="#e5e5e5"/>
<path d="M458.1 198.8L459.2 199.5L460.2 199.6L461.2 198.5L462.3 196.7L463.3 194.9L464.4 193.3L465.4 192.0L466.5 190.8L467.5 189.7L468.5 188.7L469.6 187.8L470.6 187.0L471.7 186.4L472.7 185.8L473.8 185.2L474.8 184.7L475.8 184.1L476.9 183.7L477.9 183.2L479.0 182.9L480.0 182.5L481.1 182.2L482.1 181.8L483.1 181.5L484.2 181.1L485.2 180.7L486.3 180.2L487.3 179.7L488.4 179.2L489.4 178.6L490.4 178.1L491.5 177.5L492.5 176.9L493.6 176.3L494.6 175.7L495.6 175.1L496.7 174.5L497.7 173.8L498.8 173.1L499.8 172.5L500.9 171.9L501.9 171.4L502.9 171.1L504.0 171.1L505.0 171.5L506.1 172.2L507.1 173.4L508.2 175.0L509.2 176.8L510.2 179.0L511.3 181.5L512.3 184.1L513.4 186.8L514.4 189.7L515.5 192.4L516.5 195.1L517.5 197.5L518.6 199.6L519.6 201.2L520.7 202.1L521.7 202.4L522.8 202.0L523.8 201.1L524.8 199.9L525.9 198.6L526.9 197.3L528.0 196.1L529.0 194.9L530.1 193.9L531.1 193.0L532.1 192.3L533.2 191.8L534.2 191.3L535.3 190.6L536.3 189.8L537.4 189.2L538.4 188.8L539.4 188.7L540.5 188.9L541.5 189.4L542.6 190.2L543.6 191.4L544.7 192.9L545.7 194.5L546.7 196.3L547.8 197.9L548.8 199.1L549.9 199.8L550.9 200.2M458.1 238.3L459.2 235.1L460.2 232.1L461.2 229.5L462.3 227.5L463.3 226.1L464.4 225.3L465.4 224.7L466.5 224.1L467.5 223.2L468.5 222.2L469.6 221.3L470.6 220.7L471.7 220.2L472.7 219.8L473.8 219.5L474.8 219.4L475.8 219.3L476.9 219.3L477.9 219.3L479.0 219.3L480.0 219.3L481.1 219.3L482.1 219.1L483.1 218.9L484.2 218.6L485.2 218.3L486.3 217.9L487.3 217.5L488.4 217.2L489.4 216.8L490.4 216.5L491.5 216.2L492.5 215.9L493.6 215.6L494.6 215.3L495.6 215.2L496.7 215.3L497.7 215.8L498.8 216.4L499.8 217.3L500.9 218.4L501.9 219.7L502.9 221.2L504.0 222.9L505.0 224.8L506.1 226.7L507.1 228.7L508.2 230.9L509.2 233.4L510.2 235.9L511.3 238.2L512.3 240.3L513.4 242.1L514.4 243.4L515.5 244.4L516.5 245.2L517.5 245.9L518.6 246.5L519.6 247.2L520.7 247.7L521.7 248.1L522.8 247.7L523.8 246.5L524.8 244.8L525.9 242.9L526.9 241.2L528.0 239.6L529.0 238.1L530.1 236.7L531.1 235.3L532.1 234.0L533.2 232.9L534.2 232.0L535.3 231.6L536.3 231.4L537.4 231.3L538.4 231.1L539.4 230.8L540.5 230.7L541.5 231.0L542.6 231.6L543.6 232.4L544.7 233.4L545.7 234.5L546.7 235.6L547.8 236.7L548.8 237.6L549.9 237.9L550.9 237.9" fill="none" stroke="#787878" stroke-width="1.1" stroke-linejoin="round"/>
<path d="M458.1 221.9L459.2 221.0L460.2 219.8L461.2 217.9L462.3 216.0L463.3 214.4L464.4 213.1L465.4 211.9L466.5 210.8L467.5 209.8L468.5 208.9L469.6 208.2L470.6 207.5L471.7 206.9L472.7 206.3L473.8 205.8L474.8 205.4L475.8 205.1L476.9 204.9L477.9 204.6L479.0 204.2L480.0 203.9L481.1 203.6L482.1 203.4L483.1 203.2L484.2 203.0L485.2 202.8L486.3 202.6L487.3 202.3L488.4 202.0L489.4 201.5L490.4 201.1L491.5 200.5L492.5 200.1L493.6 199.7L494.6 199.4L495.6 199.1L496.7 198.9L497.7 198.8L498.8 198.8L499.8 198.9L500.9 199.3L501.9 200.1L502.9 201.1L504.0 202.4L505.0 203.8L506.1 205.4L507.1 207.2L508.2 209.4L509.2 211.7L510.2 214.0L511.3 216.3L512.3 218.3L513.4 220.3L514.4 222.3L515.5 224.1L516.5 225.9L517.5 227.6L518.6 228.9L519.6 229.8L520.7 230.3L521.7 230.3L522.8 229.8L523.8 228.9L524.8 227.5L525.9 225.8L526.9 224.0L528.0 222.4L529.0 220.8L530.1 219.4L531.1 218.2L532.1 217.1L533.2 216.2L534.2 215.5L535.3 214.9L536.3 214.5L537.4 214.1L538.4 213.9L539.4 213.8L540.5 213.9L541.5 214.3L542.6 214.9L543.6 215.9L544.7 217.1L545.7 218.4L546.7 219.8L547.8 221.1L548.8 222.1L549.9 222.6L550.9 222.9" fill="none" stroke="#0a0ae6" stroke-width="2" stroke-linejoin="round" stroke-linecap="round"/>
<path d="M458.1 219.1L458.8 218.3L459.4 217.5L460.1 216.5L460.8 215.3L461.4 214.1L462.1 212.8L462.8 211.7L463.5 210.6L464.1 209.8L464.8 208.9L465.5 208.2L466.1 207.4L466.8 206.7L467.5 206.0L468.1 205.5L468.8 204.9L469.5 204.4L470.1 204.0L470.8 203.6L471.5 203.3L472.1 203.0L472.8 202.7L473.5 202.5L474.1 202.2L474.8 202.0L475.5 201.8L476.1 201.6L476.8 201.4L477.5 201.2L478.1 201.1L478.8 201.0L479.5 200.9L480.1 200.8L480.8 200.7L481.5 200.5L482.1 200.3L482.8 200.1L483.5 199.9L484.1 199.7L484.8 199.5L485.5 199.3L486.2 199.1L486.8 198.9L487.5 198.7L488.2 198.5L488.8 198.3L489.5 198.1L490.2 197.8L490.8 197.5L491.5 197.2L492.2 196.9L492.8 196.6L493.5 196.4L494.2 196.2L494.8 196.0L495.5 195.8L496.2 195.8L496.8 195.7L497.5 195.7L498.2 195.7L498.8 195.7L499.5 195.8L500.2 195.9L500.8 196.2L501.5 196.5L502.2 197.0L502.8 197.6L503.5 198.3L504.2 199.0L504.8 199.9L505.5 200.8L506.2 201.7L506.9 202.8L507.5 204.0L508.2 205.3L508.9 206.7L509.5 208.1L510.2 209.6L510.9 211.0L511.5 212.4L512.2 213.8L512.9 215.0L513.5 216.3L514.2 217.4L514.9 218.6L515.5 219.7L516.2 220.7L516.9 221.7L517.5 222.7L518.2 223.6L518.9 224.3L519.5 224.9L520.2 225.3L520.9 225.5L521.5 225.4L522.2 225.2L522.9 224.8L523.5 224.1L524.2 223.4L524.9 222.5L525.5 221.5L526.2 220.6L526.9 219.6L527.5 218.6L528.2 217.7L528.9 216.9L529.6 216.1L530.2 215.4L530.9 214.8L531.6 214.2L532.2 213.7L532.9 213.2L533.6 212.8L534.2 212.4L534.9 212.0L535.6 211.7L536.2 211.4L536.9 211.1L537.6 210.9L538.2 210.8L538.9 210.7L539.6 210.7L540.2 210.8L540.9 211.0L541.6 211.3L542.2 211.7L542.9 212.3L543.6 212.9L544.2 213.6L544.9 214.3L545.6 215.1L546.2 215.9L546.9 216.7L547.6 217.5L548.2 218.1L548.9 218.6L549.6 218.9L550.2 218.9L550.9 218.9" fill="none" stroke="#000" stroke-width="1.7" stroke-dasharray="1.7 6"/>
<path d="M458.1 216.3L459.2 214.8L460.2 213.1L461.2 211.0L462.3 208.9L463.3 207.2L464.4 205.8L465.4 204.5L466.5 203.3L467.5 202.2L468.5 201.3L469.6 200.5L470.6 199.8L471.7 199.4L472.7 199.2L473.8 198.9L474.8 198.6L475.8 198.2L476.9 197.8L477.9 197.7L479.0 197.8L480.0 197.8L481.1 197.6L482.1 197.3L483.1 196.8L484.2 196.4L485.2 195.9L486.3 195.6L487.3 195.3L488.4 195.0L489.4 194.7L490.4 194.3L491.5 193.9L492.5 193.5L493.6 193.0L494.6 192.7L495.6 192.5L496.7 192.5L497.7 192.5L498.8 192.6L499.8 192.7L500.9 193.0L501.9 193.5L502.9 194.3L504.0 195.2L505.0 196.4L506.1 197.7L507.1 199.2L508.2 201.1L509.2 203.2L510.2 205.4L511.3 207.6L512.3 209.7L513.4 211.7L514.4 213.4L515.5 215.0L516.5 216.5L517.5 217.9L518.6 219.3L519.6 220.2L520.7 220.7L521.7 220.6L522.8 219.9L523.8 218.9L524.8 217.6L525.9 216.3L526.9 215.0L528.0 213.7L529.0 212.6L530.1 211.7L531.1 211.0L532.1 210.4L533.2 209.8L534.2 209.2L535.3 208.7L536.3 208.2L537.4 207.9L538.4 207.6L539.4 207.6L540.5 207.8L541.5 208.3L542.6 209.0L543.6 209.9L544.7 211.0L545.7 212.1L546.7 213.3L547.8 214.4L548.8 215.2L549.9 215.2L550.9 214.9" fill="none" stroke="#ea0e10" stroke-width="2" stroke-linejoin="round" stroke-linecap="round"/>
</g>
<path d="M454.69 152.45V251.50H554.29" fill="none" stroke="#000" stroke-width="1"/>
<path d="M458.34 251.50v6.5M476.81 251.50v6.5M495.28 251.50v6.5M513.75 251.50v6.5M532.22 251.50v6.5M550.69 251.50v6.5M454.69 156.40h-6.5M454.69 176.70h-6.5M454.69 197.00h-6.5M454.69 217.30h-6.5M454.69 237.60h-6.5" fill="none" stroke="#000" stroke-width="1"/>
<text transform="translate(440.49 156.40) rotate(-90)" text-anchor="middle" font-family="'Liberation Sans', Arial, Helvetica, sans-serif" font-size="10.4" fill="#000">30</text>
<text transform="translate(440.49 176.70) rotate(-90)" text-anchor="middle" font-family="'Liberation Sans', Arial, Helvetica, sans-serif" font-size="10.4" fill="#000">20</text>
<text transform="translate(440.49 197.00) rotate(-90)" text-anchor="middle" font-family="'Liberation Sans', Arial, Helvetica, sans-serif" font-size="10.4" fill="#000">10</text>
<text transform="translate(440.49 217.30) rotate(-90)" text-anchor="middle" font-family="'Liberation Sans', Arial, Helvetica, sans-serif" font-size="10.4" fill="#000">0</text>
<text transform="translate(440.49 237.60) rotate(-90)" text-anchor="middle" font-family="'Liberation Sans', Arial, Helvetica, sans-serif" font-size="10.4" fill="#000">−10</text>
<g clip-path="url(#c24)">
<path d="M584.6 166.7L585.6 168.2L586.6 169.6L587.7 170.4L588.7 170.8L589.8 171.0L590.8 171.2L591.8 171.5L592.9 171.7L593.9 172.0L594.9 172.2L596.0 172.4L597.0 172.5L598.1 172.6L599.1 172.7L600.1 172.8L601.2 173.0L602.2 173.2L603.2 173.3L604.3 173.5L605.3 173.6L606.4 173.7L607.4 173.9L608.4 174.0L609.5 174.1L610.5 174.3L611.6 174.5L612.6 174.7L613.6 174.9L614.7 175.2L615.7 175.5L616.7 175.8L617.8 176.1L618.8 176.5L619.9 176.9L620.9 177.4L621.9 178.0L623.0 178.6L624.0 179.3L625.1 180.1L626.1 180.9L627.1 181.9L628.2 182.9L629.2 184.0L630.2 185.3L631.3 186.6L632.3 188.1L633.4 189.7L634.4 191.6L635.4 193.6L636.5 195.8L637.5 198.1L638.5 200.4L639.6 202.6L640.6 204.5L641.7 206.2L642.7 207.6L643.7 208.6L644.8 209.3L645.8 209.8L646.9 209.9L647.9 209.7L648.9 209.2L650.0 208.3L651.0 207.2L652.0 205.8L653.1 204.2L654.1 202.4L655.2 200.4L656.2 198.2L657.2 195.8L658.3 193.3L659.3 190.6L660.4 187.8L661.4 185.1L662.4 182.3L663.5 179.7L664.5 177.3L665.5 175.0L666.6 173.1L667.6 171.4L668.7 169.9L669.7 168.7L670.7 167.7L671.8 166.9L672.8 166.2L673.9 165.7L674.9 165.4L675.9 165.4L677.0 165.5L677.0 194.8L675.9 194.3L674.9 193.9L673.9 193.6L672.8 193.7L671.8 194.0L670.7 194.8L669.7 195.9L668.7 197.4L667.6 199.1L666.6 201.2L665.5 203.5L664.5 206.2L663.5 209.2L662.4 212.5L661.4 215.9L660.4 219.4L659.3 222.8L658.3 226.1L657.2 229.1L656.2 232.1L655.2 234.9L654.1 237.5L653.1 239.7L652.0 241.6L651.0 243.1L650.0 244.3L648.9 245.2L647.9 245.4L646.9 245.2L645.8 244.6L644.8 244.0L643.7 243.2L642.7 242.4L641.7 241.5L640.6 240.4L639.6 239.2L638.5 237.7L637.5 236.1L636.5 234.3L635.4 232.4L634.4 230.5L633.4 228.5L632.3 226.3L631.3 224.1L630.2 221.7L629.2 219.3L628.2 217.0L627.1 214.8L626.1 212.8L625.1 211.0L624.0 209.3L623.0 207.7L621.9 206.1L620.9 204.7L619.9 203.4L618.8 202.3L617.8 201.4L616.7 200.6L615.7 200.0L614.7 199.4L613.6 198.8L612.6 198.3L611.6 197.8L610.5 197.3L609.5 196.9L608.4 196.4L607.4 196.0L606.4 195.6L605.3 195.2L604.3 194.8L603.2 194.4L602.2 194.1L601.2 193.7L600.1 193.4L599.1 193.1L598.1 192.8L597.0 192.6L596.0 192.3L594.9 192.0L593.9 191.7L592.9 191.4L591.8 191.1L590.8 190.8L589.8 190.7L588.7 190.7L587.7 190.9L586.6 191.5L585.6 192.2L584.6 193.2Z" fill="#e5e5e5"/>
<path d="M584.6 166.7L585.6 168.2L586.6 169.6L587.7 170.4L588.7 170.8L589.8 171.0L590.8 171.2L591.8 171.5L592.9 171.7L593.9 172.0L594.9 172.2L596.0 172.4L597.0 172.5L598.1 172.6L599.1 172.7L600.1 172.8L601.2 173.0L602.2 173.2L603.2 173.3L604.3 173.5L605.3 173.6L606.4 173.7L607.4 173.9L608.4 174.0L609.5 174.1L610.5 174.3L611.6 174.5L612.6 174.7L613.6 174.9L614.7 175.2L615.7 175.5L616.7 175.8L617.8 176.1L618.8 176.5L619.9 176.9L620.9 177.4L621.9 178.0L623.0 178.6L624.0 179.3L625.1 180.1L626.1 180.9L627.1 181.9L628.2 182.9L629.2 184.0L630.2 185.3L631.3 186.6L632.3 188.1L633.4 189.7L634.4 191.6L635.4 193.6L636.5 195.8L637.5 198.1L638.5 200.4L639.6 202.6L640.6 204.5L641.7 206.2L642.7 207.6L643.7 208.6L644.8 209.3L645.8 209.8L646.9 209.9L647.9 209.7L648.9 209.2L650.0 208.3L651.0 207.2L652.0 205.8L653.1 204.2L654.1 202.4L655.2 200.4L656.2 198.2L657.2 195.8L658.3 193.3L659.3 190.6L660.4 187.8L661.4 185.1L662.4 182.3L663.5 179.7L664.5 177.3L665.5 175.0L666.6 173.1L667.6 171.4L668.7 169.9L669.7 168.7L670.7 167.7L671.8 166.9L672.8 166.2L673.9 165.7L674.9 165.4L675.9 165.4L677.0 165.5M584.6 193.2L585.6 192.2L586.6 191.5L587.7 190.9L588.7 190.7L589.8 190.7L590.8 190.8L591.8 191.1L592.9 191.4L593.9 191.7L594.9 192.0L596.0 192.3L597.0 192.6L598.1 192.8L599.1 193.1L600.1 193.4L601.2 193.7L602.2 194.1L603.2 194.4L604.3 194.8L605.3 195.2L606.4 195.6L607.4 196.0L608.4 196.4L609.5 196.9L610.5 197.3L611.6 197.8L612.6 198.3L613.6 198.8L614.7 199.4L615.7 200.0L616.7 200.6L617.8 201.4L618.8 202.3L619.9 203.4L620.9 204.7L621.9 206.1L623.0 207.7L624.0 209.3L625.1 211.0L626.1 212.8L627.1 214.8L628.2 217.0L629.2 219.3L630.2 221.7L631.3 224.1L632.3 226.3L633.4 228.5L634.4 230.5L635.4 232.4L636.5 234.3L637.5 236.1L638.5 237.7L639.6 239.2L640.6 240.4L641.7 241.5L642.7 242.4L643.7 243.2L644.8 244.0L645.8 244.6L646.9 245.2L647.9 245.4L648.9 245.2L650.0 244.3L651.0 243.1L652.0 241.6L653.1 239.7L654.1 237.5L655.2 234.9L656.2 232.1L657.2 229.1L658.3 226.1L659.3 222.8L660.4 219.4L661.4 215.9L662.4 212.5L663.5 209.2L664.5 206.2L665.5 203.5L666.6 201.2L667.6 199.1L668.7 197.4L669.7 195.9L670.7 194.8L671.8 194.0L672.8 193.7L673.9 193.6L674.9 193.9L675.9 194.3L677.0 194.8" fill="none" stroke="#787878" stroke-width="1.1" stroke-linejoin="round"/>
<path d="M584.6 180.7L585.6 181.3L586.6 181.9L587.7 182.3L588.7 182.7L589.8 183.0L590.8 183.3L591.8 183.4L592.9 183.6L593.9 183.7L594.9 183.8L596.0 184.0L597.0 184.1L598.1 184.3L599.1 184.5L600.1 184.7L601.2 184.9L602.2 185.1L603.2 185.3L604.3 185.5L605.3 185.8L606.4 186.0L607.4 186.2L608.4 186.5L609.5 186.8L610.5 187.1L611.6 187.5L612.6 187.9L613.6 188.3L614.7 188.7L615.7 189.2L616.7 189.6L617.8 190.2L618.8 190.8L619.9 191.6L620.9 192.4L621.9 193.3L623.0 194.4L624.0 195.6L625.1 196.9L626.1 198.3L627.1 199.8L628.2 201.6L629.2 203.4L630.2 205.4L631.3 207.5L632.3 209.6L633.4 211.8L634.4 214.1L635.4 216.4L636.5 218.6L637.5 220.7L638.5 222.5L639.6 224.1L640.6 225.4L641.7 226.6L642.7 227.8L643.7 228.8L644.8 229.5L645.8 229.9L646.9 229.9L647.9 229.5L648.9 228.8L650.0 227.7L651.0 226.2L652.0 224.4L653.1 222.5L654.1 220.4L655.2 218.0L656.2 215.4L657.2 212.5L658.3 209.5L659.3 206.3L660.4 203.1L661.4 199.9L662.4 196.8L663.5 193.9L664.5 191.2L665.5 188.8L666.6 186.7L667.6 185.0L668.7 183.7L669.7 182.8L670.7 182.0L671.8 181.4L672.8 180.9L673.9 180.7L674.9 180.7L675.9 180.9L677.0 181.1" fill="none" stroke="#0a0ae6" stroke-width="2" stroke-linejoin="round" stroke-linecap="round"/>
<path d="M584.6 179.9L585.2 180.1L585.9 180.2L586.6 180.3L587.2 180.4L587.9 180.5L588.5 180.6L589.2 180.7L589.9 180.8L590.5 180.9L591.2 181.1L591.9 181.2L592.5 181.4L593.2 181.6L593.9 181.8L594.5 182.0L595.2 182.2L595.9 182.3L596.5 182.5L597.2 182.6L597.9 182.7L598.5 182.9L599.2 183.0L599.9 183.2L600.5 183.3L601.2 183.5L601.8 183.7L602.5 183.9L603.2 184.0L603.8 184.2L604.5 184.4L605.2 184.6L605.8 184.8L606.5 184.9L607.2 185.1L607.8 185.3L608.5 185.5L609.2 185.7L609.8 185.9L610.5 186.1L611.2 186.4L611.8 186.6L612.5 186.8L613.1 187.1L613.8 187.4L614.5 187.6L615.1 187.9L615.8 188.2L616.5 188.5L617.1 188.8L617.8 189.1L618.5 189.5L619.1 189.8L619.8 190.3L620.5 190.7L621.1 191.2L621.8 191.8L622.5 192.4L623.1 193.0L623.8 193.7L624.4 194.4L625.1 195.1L625.8 195.9L626.4 196.8L627.1 197.7L627.8 198.7L628.4 199.7L629.1 200.7L629.8 201.9L630.4 203.0L631.1 204.2L631.8 205.5L632.4 206.8L633.1 208.1L633.8 209.5L634.4 210.9L635.1 212.3L635.7 213.7L636.4 215.1L637.1 216.4L637.7 217.7L638.4 218.9L639.1 220.0L639.7 221.0L640.4 221.9L641.1 222.8L641.7 223.6L642.4 224.3L643.1 225.0L643.7 225.6L644.4 226.1L645.1 226.5L645.7 226.9L646.4 227.0L647.0 227.1L647.7 226.9L648.4 226.6L649.0 226.2L649.7 225.5L650.4 224.7L651.0 223.9L651.7 222.8L652.4 221.8L653.0 220.6L653.7 219.3L654.4 217.9L655.0 216.5L655.7 214.9L656.4 213.2L657.0 211.5L657.7 209.7L658.4 207.8L659.0 205.9L659.7 203.9L660.3 201.9L661.0 199.8L661.7 197.8L662.3 195.9L663.0 194.0L663.7 192.3L664.3 190.6L665.0 189.1L665.7 187.7L666.3 186.4L667.0 185.2L667.7 184.1L668.3 183.3L669.0 182.5L669.7 181.9L670.3 181.4L671.0 180.9L671.6 180.6L672.3 180.3L673.0 180.1L673.6 180.0L674.3 179.9L675.0 179.9L675.6 180.0L676.3 180.0L677.0 180.1" fill="none" stroke="#000" stroke-width="1.7" stroke-dasharray="1.7 6"/>
<path d="M584.6 179.1L585.6 179.0L586.6 178.8L587.7 178.6L588.7 178.5L589.8 178.5L590.8 178.6L591.8 179.0L592.9 179.5L593.9 180.0L594.9 180.4L596.0 180.7L597.0 181.0L598.1 181.2L599.1 181.5L600.1 181.8L601.2 182.1L602.2 182.4L603.2 182.8L604.3 183.1L605.3 183.5L606.4 183.8L607.4 184.1L608.4 184.5L609.5 184.8L610.5 185.2L611.6 185.5L612.6 185.9L613.6 186.3L614.7 186.7L615.7 187.1L616.7 187.5L617.8 188.0L618.8 188.5L619.9 189.1L620.9 189.7L621.9 190.5L623.0 191.3L624.0 192.3L625.1 193.3L626.1 194.4L627.1 195.6L628.2 196.9L629.2 198.4L630.2 200.0L631.3 201.7L632.3 203.5L633.4 205.5L634.4 207.6L635.4 209.7L636.5 211.8L637.5 213.9L638.5 215.8L639.6 217.6L640.6 219.1L641.7 220.4L642.7 221.6L643.7 222.5L644.8 223.3L645.8 223.9L646.9 224.3L647.9 224.3L648.9 223.7L650.0 222.8L651.0 221.6L652.0 220.2L653.1 218.5L654.1 216.6L655.2 214.3L656.2 211.9L657.2 209.3L658.3 206.6L659.3 203.7L660.4 200.6L661.4 197.4L662.4 194.4L663.5 191.7L664.5 189.2L665.5 187.1L666.6 185.1L667.6 183.4L668.7 182.0L669.7 180.9L670.7 180.1L671.8 179.6L672.8 179.3L673.9 179.2L674.9 179.1L675.9 179.1L677.0 179.1" fill="none" stroke="#ea0e10" stroke-width="2" stroke-linejoin="round" stroke-linecap="round"/>
</g>
<path d="M581.02 152.45V251.50H680.62" fill="none" stroke="#000" stroke-width="1"/>
<path d="M584.67 251.50v6.5M603.14 251.50v6.5M621.61 251.50v6.5M640.08 251.50v6.5M658.55 251.50v6.5M677.02 251.50v6.5M581.02 156.40h-6.5M581.02 176.70h-6.5M581.02 197.00h-6.5M581.02 217.30h-6.5M581.02 237.60h-6.5" fill="none" stroke="#000" stroke-width="1"/>
<text transform="translate(566.82 156.40) rotate(-90)" text-anchor="middle" font-family="'Liberation Sans', Arial, Helvetica, sans-serif" font-size="10.4" fill="#000">20</text>
<text transform="translate(566.82 176.70) rotate(-90)" text-anchor="middle" font-family="'Liberation Sans', Arial, Helvetica, sans-serif" font-size="10.4" fill="#000">0</text>
<text transform="translate(566.82 197.00) rotate(-90)" text-anchor="middle" font-family="'Liberation Sans', Arial, Helvetica, sans-serif" font-size="10.4" fill="#000">−20</text>
<text transform="translate(566.82 237.60) rotate(-90)" text-anchor="middle" font-family="'Liberation Sans', Arial, Helvetica, sans-serif" font-size="10.4" fill="#000">−60</text>
<g clip-path="url(#c30)">
<path d="M79.1 303.5L80.2 302.4L81.2 301.4L82.2 300.6L83.3 299.9L84.3 299.4L85.4 299.0L86.4 298.6L87.5 298.5L88.5 298.5L89.5 298.6L90.6 298.9L91.6 299.3L92.7 299.6L93.7 299.9L94.8 300.1L95.8 300.4L96.8 300.6L97.9 300.8L98.9 301.1L100.0 301.4L101.0 301.8L102.1 302.2L103.1 302.8L104.1 303.4L105.2 304.1L106.2 304.8L107.3 305.6L108.3 306.5L109.4 307.5L110.4 308.6L111.4 309.8L112.5 310.9L113.5 312.1L114.6 313.2L115.6 314.4L116.6 315.5L117.7 316.7L118.7 317.8L119.8 319.0L120.8 320.1L121.9 321.2L122.9 322.2L123.9 323.2L125.0 324.1L126.0 325.0L127.1 325.8L128.1 326.4L129.2 327.0L130.2 327.4L131.2 327.8L132.3 328.1L133.3 328.4L134.4 328.7L135.4 329.0L136.5 329.2L137.5 329.3L138.5 329.4L139.6 329.5L140.6 329.6L141.7 329.7L142.7 329.7L143.8 329.8L144.8 329.7L145.8 329.6L146.9 329.3L147.9 328.9L149.0 328.4L150.0 327.8L151.1 327.1L152.1 326.3L153.1 325.4L154.2 324.4L155.2 323.3L156.3 322.2L157.3 320.9L158.4 319.6L159.4 318.3L160.4 316.9L161.5 315.5L162.5 314.0L163.6 312.6L164.6 311.2L165.7 309.7L166.7 308.2L167.7 306.6L168.8 305.1L169.8 303.6L170.9 302.3L171.9 301.0L171.9 355.3L170.9 355.9L169.8 356.6L168.8 357.4L167.7 358.4L166.7 359.6L165.7 360.8L164.6 362.1L163.6 363.4L162.5 364.7L161.5 366.0L160.4 367.3L159.4 368.6L158.4 370.0L157.3 371.3L156.3 372.5L155.2 373.8L154.2 375.0L153.1 376.1L152.1 377.0L151.1 377.8L150.0 378.5L149.0 379.1L147.9 379.6L146.9 380.0L145.8 380.3L144.8 380.6L143.8 380.9L142.7 381.2L141.7 381.4L140.6 381.7L139.6 382.0L138.5 382.3L137.5 382.6L136.5 382.8L135.4 382.8L134.4 382.8L133.3 382.6L132.3 382.3L131.2 381.9L130.2 381.4L129.2 380.9L128.1 380.2L127.1 379.5L126.0 378.8L125.0 378.0L123.9 377.0L122.9 375.9L121.9 374.8L120.8 373.6L119.8 372.3L118.7 371.0L117.7 369.7L116.6 368.4L115.6 367.1L114.6 365.8L113.5 364.5L112.5 363.2L111.4 361.9L110.4 360.6L109.4 359.4L108.3 358.3L107.3 357.4L106.2 356.6L105.2 355.9L104.1 355.2L103.1 354.6L102.1 354.1L101.0 353.6L100.0 353.2L98.9 352.8L97.9 352.5L96.8 352.3L95.8 352.2L94.8 352.3L93.7 352.3L92.7 352.3L91.6 352.2L90.6 351.9L89.5 351.6L88.5 351.3L87.5 351.2L86.4 351.1L85.4 351.2L84.3 351.4L83.3 351.7L82.2 352.2L81.2 352.9L80.2 353.7L79.1 354.7Z" fill="#e5e5e5"/>
<path d="M79.1 303.5L80.2 302.4L81.2 301.4L82.2 300.6L83.3 299.9L84.3 299.4L85.4 299.0L86.4 298.6L87.5 298.5L88.5 298.5L89.5 298.6L90.6 298.9L91.6 299.3L92.7 299.6L93.7 299.9L94.8 300.1L95.8 300.4L96.8 300.6L97.9 300.8L98.9 301.1L100.0 301.4L101.0 301.8L102.1 302.2L103.1 302.8L104.1 303.4L105.2 304.1L106.2 304.8L107.3 305.6L108.3 306.5L109.4 307.5L110.4 308.6L111.4 309.8L112.5 310.9L113.5 312.1L114.6 313.2L115.6 314.4L116.6 315.5L117.7 316.7L118.7 317.8L119.8 319.0L120.8 320.1L121.9 321.2L122.9 322.2L123.9 323.2L125.0 324.1L126.0 325.0L127.1 325.8L128.1 326.4L129.2 327.0L130.2 327.4L131.2 327.8L132.3 328.1L133.3 328.4L134.4 328.7L135.4 329.0L136.5 329.2L137.5 329.3L138.5 329.4L139.6 329.5L140.6 329.6L141.7 329.7L142.7 329.7L143.8 329.8L144.8 329.7L145.8 329.6L146.9 329.3L147.9 328.9L149.0 328.4L150.0 327.8L151.1 327.1L152.1 326.3L153.1 325.4L154.2 324.4L155.2 323.3L156.3 322.2L157.3 320.9L158.4 319.6L159.4 318.3L160.4 316.9L161.5 315.5L162.5 314.0L163.6 312.6L164.6 311.2L165.7 309.7L166.7 308.2L167.7 306.6L168.8 305.1L169.8 303.6L170.9 302.3L171.9 301.0M79.1 354.7L80.2 353.7L81.2 352.9L82.2 352.2L83.3 351.7L84.3 351.4L85.4 351.2L86.4 351.1L87.5 351.2L88.5 351.3L89.5 351.6L90.6 351.9L91.6 352.2L92.7 352.3L93.7 352.3L94.8 352.3L95.8 352.2L96.8 352.3L97.9 352.5L98.9 352.8L100.0 353.2L101.0 353.6L102.1 354.1L103.1 354.6L104.1 355.2L105.2 355.9L106.2 356.6L107.3 357.4L108.3 358.3L109.4 359.4L110.4 360.6L111.4 361.9L112.5 363.2L113.5 364.5L114.6 365.8L115.6 367.1L116.6 368.4L117.7 369.7L118.7 371.0L119.8 372.3L120.8 373.6L121.9 374.8L122.9 375.9L123.9 377.0L125.0 378.0L126.0 378.8L127.1 379.5L128.1 380.2L129.2 380.9L130.2 381.4L131.2 381.9L132.3 382.3L133.3 382.6L134.4 382.8L135.4 382.8L136.5 382.8L137.5 382.6L138.5 382.3L139.6 382.0L140.6 381.7L141.7 381.4L142.7 381.2L143.8 380.9L144.8 380.6L145.8 380.3L146.9 380.0L147.9 379.6L149.0 379.1L150.0 378.5L151.1 377.8L152.1 377.0L153.1 376.1L154.2 375.0L155.2 373.8L156.3 372.5L157.3 371.3L158.4 370.0L159.4 368.6L160.4 367.3L161.5 366.0L162.5 364.7L163.6 363.4L164.6 362.1L165.7 360.8L166.7 359.6L167.7 358.4L168.8 357.4L169.8 356.6L170.9 355.9L171.9 355.3" fill="none" stroke="#787878" stroke-width="1.1" stroke-linejoin="round"/>
<path d="M79.1 340.8L80.2 339.8L81.2 338.9L82.2 338.1L83.3 337.5L84.3 337.0L85.4 336.7L86.4 336.6L87.5 336.7L88.5 336.9L89.5 337.1L90.6 337.4L91.6 337.7L92.7 337.9L93.7 338.0L94.8 338.1L95.8 338.2L96.8 338.3L97.9 338.5L98.9 338.8L100.0 339.1L101.0 339.5L102.1 340.0L103.1 340.6L104.1 341.2L105.2 341.8L106.2 342.5L107.3 343.4L108.3 344.3L109.4 345.3L110.4 346.5L111.4 347.7L112.5 348.9L113.5 350.2L114.6 351.5L115.6 352.8L116.6 354.1L117.7 355.5L118.7 356.8L119.8 358.1L120.8 359.3L121.9 360.4L122.9 361.4L123.9 362.4L125.0 363.2L126.0 364.0L127.1 364.7L128.1 365.2L129.2 365.6L130.2 365.9L131.2 366.1L132.3 366.3L133.3 366.4L134.4 366.6L135.4 366.7L136.5 366.7L137.5 366.7L138.5 366.7L139.6 366.7L140.6 366.7L141.7 366.8L142.7 366.8L143.8 366.8L144.8 366.6L145.8 366.4L146.9 366.0L147.9 365.4L149.0 364.6L150.0 363.7L151.1 362.7L152.1 361.7L153.1 360.7L154.2 359.6L155.2 358.3L156.3 357.1L157.3 355.7L158.4 354.4L159.4 353.0L160.4 351.7L161.5 350.4L162.5 349.2L163.6 347.9L164.6 346.7L165.7 345.6L166.7 344.6L167.7 343.7L168.8 342.9L169.8 342.2L170.9 341.5L171.9 340.8" fill="none" stroke="#0a0ae6" stroke-width="2" stroke-linejoin="round" stroke-linecap="round"/>
<path d="M79.1 329.5L79.8 328.7L80.4 328.0L81.1 327.3L81.8 326.7L82.4 326.2L83.1 325.8L83.8 325.5L84.5 325.3L85.1 325.2L85.8 325.1L86.5 325.0L87.1 325.0L87.8 325.1L88.5 325.2L89.1 325.3L89.8 325.5L90.5 325.6L91.1 325.7L91.8 325.9L92.5 326.0L93.1 326.1L93.8 326.1L94.5 326.2L95.1 326.2L95.8 326.3L96.5 326.4L97.1 326.5L97.8 326.7L98.5 326.9L99.1 327.1L99.8 327.3L100.5 327.6L101.1 327.8L101.8 328.2L102.5 328.5L103.1 328.8L103.8 329.2L104.5 329.6L105.1 330.0L105.8 330.5L106.5 331.0L107.2 331.5L107.8 332.1L108.5 332.7L109.2 333.4L109.8 334.1L110.5 334.8L111.2 335.6L111.8 336.4L112.5 337.2L113.2 338.0L113.8 338.7L114.5 339.5L115.2 340.3L115.8 341.2L116.5 342.0L117.2 342.8L117.8 343.7L118.5 344.5L119.2 345.4L119.8 346.2L120.5 347.0L121.2 347.7L121.8 348.5L122.5 349.2L123.2 349.9L123.8 350.5L124.5 351.1L125.2 351.7L125.8 352.3L126.5 352.8L127.2 353.2L127.9 353.7L128.5 354.0L129.2 354.4L129.9 354.7L130.5 354.9L131.2 355.1L131.9 355.3L132.5 355.5L133.2 355.7L133.9 355.8L134.5 355.9L135.2 355.9L135.9 356.0L136.5 356.0L137.2 355.9L137.9 355.8L138.5 355.7L139.2 355.6L139.9 355.5L140.5 355.5L141.2 355.4L141.9 355.4L142.5 355.4L143.2 355.3L143.9 355.2L144.5 355.1L145.2 354.9L145.9 354.7L146.5 354.4L147.2 354.1L147.9 353.7L148.5 353.2L149.2 352.7L149.9 352.2L150.6 351.7L151.2 351.1L151.9 350.6L152.6 350.0L153.2 349.4L153.9 348.7L154.6 348.0L155.2 347.2L155.9 346.5L156.6 345.7L157.2 344.8L157.9 344.0L158.6 343.2L159.2 342.3L159.9 341.5L160.6 340.6L161.2 339.8L161.9 338.9L162.6 338.1L163.2 337.3L163.9 336.4L164.6 335.6L165.2 334.8L165.9 334.0L166.6 333.2L167.2 332.5L167.9 331.7L168.6 331.1L169.2 330.4L169.9 329.8L170.6 329.1L171.2 328.5L171.9 328.0" fill="none" stroke="#000" stroke-width="1.7" stroke-dasharray="1.7 6"/>
<path d="M79.1 318.1L80.2 316.8L81.2 315.6L82.2 314.6L83.3 314.0L84.3 313.6L85.4 313.5L86.4 313.4L87.5 313.4L88.5 313.5L89.5 313.7L90.6 313.9L91.6 314.0L92.7 314.2L93.7 314.2L94.8 314.3L95.8 314.4L96.8 314.6L97.9 314.9L98.9 315.2L100.0 315.6L101.0 316.0L102.1 316.5L103.1 317.1L104.1 317.7L105.2 318.3L106.2 319.0L107.3 319.9L108.3 320.8L109.4 321.9L110.4 323.0L111.4 324.2L112.5 325.4L113.5 326.6L114.6 327.8L115.6 329.0L116.6 330.2L117.7 331.5L118.7 332.8L119.8 334.2L120.8 335.4L121.9 336.6L122.9 337.8L123.9 338.8L125.0 339.9L126.0 340.8L127.1 341.7L128.1 342.5L129.2 343.1L130.2 343.7L131.2 344.2L132.3 344.6L133.3 344.9L134.4 345.2L135.4 345.3L136.5 345.2L137.5 345.0L138.5 344.7L139.6 344.4L140.6 344.2L141.7 344.0L142.7 343.9L143.8 343.8L144.8 343.5L145.8 343.1L146.9 342.5L147.9 341.9L149.0 341.3L150.0 340.6L151.1 339.9L152.1 339.1L153.1 338.2L154.2 337.2L155.2 336.1L156.3 335.0L157.3 333.7L158.4 332.5L159.4 331.1L160.4 329.8L161.5 328.4L162.5 327.1L163.6 325.8L164.6 324.4L165.7 322.9L166.7 321.5L167.7 320.1L168.8 318.8L169.8 317.5L170.9 316.3L171.9 315.1" fill="none" stroke="#ea0e10" stroke-width="2" stroke-linejoin="round" stroke-linecap="round"/>
</g>
<path d="M75.70 289.90V389.00H175.30" fill="none" stroke="#000" stroke-width="1"/>
<path d="M79.35 389.00v6.5M97.82 389.00v6.5M116.29 389.00v6.5M134.76 389.00v6.5M153.23 389.00v6.5M171.70 389.00v6.5M75.70 293.70h-6.5M75.70 316.65h-6.5M75.70 339.60h-6.5M75.70 362.55h-6.5M75.70 385.50h-6.5" fill="none" stroke="#000" stroke-width="1"/>
<text transform="translate(61.50 293.70) rotate(-90)" text-anchor="middle" font-family="'Liberation Sans', Arial, Helvetica, sans-serif" font-size="10.4" fill="#000">20</text>
<text transform="translate(61.50 316.65) rotate(-90)" text-anchor="middle" font-family="'Liberation Sans', Arial, Helvetica, sans-serif" font-size="10.4" fill="#000">10</text>
<text transform="translate(61.50 339.60) rotate(-90)" text-anchor="middle" font-family="'Liberation Sans', Arial, Helvetica, sans-serif" font-size="10.4" fill="#000">0</text>
<text transform="translate(61.50 385.50) rotate(-90)" text-anchor="middle" font-family="'Liberation Sans', Arial, Helvetica, sans-serif" font-size="10.4" fill="#000">−20</text>
<text x="79.35" y="410.9" text-anchor="middle" font-family="'Liberation Sans', Arial, Helvetica, sans-serif" font-size="10.4" fill="#000">0</text>
<text x="97.82" y="410.9" text-anchor="middle" font-family="'Liberation Sans', Arial, Helvetica, sans-serif" font-size="10.4" fill="#000">20</text>
<text x="134.76" y="410.9" text-anchor="middle" font-family="'Liberation Sans', Arial, Helvetica, sans-serif" font-size="10.4" fill="#000">60</text>
<text x="171.70" y="410.9" text-anchor="middle" font-family="'Liberation Sans', Arial, Helvetica, sans-serif" font-size="10.4" fill="#000">100</text>
<g clip-path="url(#c31)">
<path d="M205.5 308.1L206.5 307.6L207.6 307.0L208.6 306.4L209.7 305.7L210.7 304.8L211.8 303.8L212.8 302.8L213.8 301.9L214.9 301.2L215.9 300.7L217.0 300.6L218.0 300.9L219.0 301.4L220.1 302.0L221.1 302.4L222.2 302.6L223.2 302.7L224.2 302.4L225.3 302.1L226.3 301.7L227.4 301.4L228.4 301.2L229.4 301.0L230.5 300.8L231.5 300.6L232.6 300.2L233.6 299.6L234.6 299.0L235.7 298.3L236.7 297.6L237.8 296.9L238.8 296.3L239.8 295.8L240.9 295.5L241.9 295.2L243.0 295.1L244.0 294.9L245.0 294.7L246.1 294.6L247.1 294.4L248.2 294.4L249.2 294.4L250.2 294.6L251.3 295.0L252.3 295.5L253.4 296.1L254.4 296.6L255.5 297.1L256.5 297.6L257.5 298.1L258.6 298.8L259.6 299.4L260.7 300.2L261.7 300.9L262.7 301.6L263.8 302.4L264.8 303.1L265.9 303.8L266.9 304.4L267.9 305.1L269.0 305.8L270.0 306.5L271.1 307.3L272.1 307.9L273.1 308.4L274.2 308.6L275.2 308.5L276.3 308.1L277.3 307.7L278.3 307.2L279.4 307.1L280.4 307.3L281.5 307.9L282.5 308.5L283.5 309.1L284.6 309.6L285.6 310.2L286.7 310.7L287.7 311.2L288.7 311.5L289.8 311.6L290.8 311.3L291.9 310.9L292.9 310.3L294.0 309.5L295.0 308.7L296.0 307.8L297.1 307.0L298.1 306.1L298.1 380.4L297.1 380.3L296.0 380.3L295.0 380.5L294.0 380.9L292.9 381.2L291.9 381.5L290.8 381.6L289.8 381.4L288.7 381.1L287.7 380.7L286.7 380.1L285.6 379.5L284.6 378.7L283.5 378.0L282.5 377.4L281.5 376.9L280.4 376.5L279.4 376.3L278.3 376.4L277.3 376.5L276.3 376.7L275.2 377.0L274.2 377.2L273.1 377.3L272.1 377.4L271.1 377.3L270.0 377.2L269.0 376.9L267.9 376.6L266.9 376.1L265.9 375.5L264.8 374.7L263.8 373.8L262.7 372.6L261.7 371.3L260.7 369.9L259.6 368.6L258.6 367.5L257.5 366.6L256.5 365.9L255.5 365.4L254.4 364.9L253.4 364.5L252.3 364.2L251.3 363.9L250.2 363.7L249.2 363.5L248.2 363.4L247.1 363.3L246.1 363.3L245.0 363.4L244.0 363.5L243.0 363.8L241.9 364.1L240.9 364.6L239.8 365.0L238.8 365.5L237.8 366.0L236.7 366.4L235.7 366.8L234.6 367.1L233.6 367.3L232.6 367.5L231.5 367.6L230.5 367.9L229.4 368.1L228.4 368.4L227.4 368.7L226.3 368.9L225.3 369.1L224.2 369.3L223.2 369.3L222.2 369.2L221.1 369.0L220.1 368.7L219.0 368.2L218.0 367.9L217.0 367.7L215.9 367.9L214.9 368.6L213.8 369.7L212.8 371.3L211.8 373.2L210.7 375.1L209.7 377.1L208.6 378.7L207.6 379.9L206.5 380.5L205.5 381.0Z" fill="#e5e5e5"/>
<path d="M205.5 308.1L206.5 307.6L207.6 307.0L208.6 306.4L209.7 305.7L210.7 304.8L211.8 303.8L212.8 302.8L213.8 301.9L214.9 301.2L215.9 300.7L217.0 300.6L218.0 300.9L219.0 301.4L220.1 302.0L221.1 302.4L222.2 302.6L223.2 302.7L224.2 302.4L225.3 302.1L226.3 301.7L227.4 301.4L228.4 301.2L229.4 301.0L230.5 300.8L231.5 300.6L232.6 300.2L233.6 299.6L234.6 299.0L235.7 298.3L236.7 297.6L237.8 296.9L238.8 296.3L239.8 295.8L240.9 295.5L241.9 295.2L243.0 295.1L244.0 294.9L245.0 294.7L246.1 294.6L247.1 294.4L248.2 294.4L249.2 294.4L250.2 294.6L251.3 295.0L252.3 295.5L253.4 296.1L254.4 296.6L255.5 297.1L256.5 297.6L257.5 298.1L258.6 298.8L259.6 299.4L260.7 300.2L261.7 300.9L262.7 301.6L263.8 302.4L264.8 303.1L265.9 303.8L266.9 304.4L267.9 305.1L269.0 305.8L270.0 306.5L271.1 307.3L272.1 307.9L273.1 308.4L274.2 308.6L275.2 308.5L276.3 308.1L277.3 307.7L278.3 307.2L279.4 307.1L280.4 307.3L281.5 307.9L282.5 308.5L283.5 309.1L284.6 309.6L285.6 310.2L286.7 310.7L287.7 311.2L288.7 311.5L289.8 311.6L290.8 311.3L291.9 310.9L292.9 310.3L294.0 309.5L295.0 308.7L296.0 307.8L297.1 307.0L298.1 306.1M205.5 381.0L206.5 380.5L207.6 379.9L208.6 378.7L209.7 377.1L210.7 375.1L211.8 373.2L212.8 371.3L213.8 369.7L214.9 368.6L215.9 367.9L217.0 367.7L218.0 367.9L219.0 368.2L220.1 368.7L221.1 369.0L222.2 369.2L223.2 369.3L224.2 369.3L225.3 369.1L226.3 368.9L227.4 368.7L228.4 368.4L229.4 368.1L230.5 367.9L231.5 367.6L232.6 367.5L233.6 367.3L234.6 367.1L235.7 366.8L236.7 366.4L237.8 366.0L238.8 365.5L239.8 365.0L240.9 364.6L241.9 364.1L243.0 363.8L244.0 363.5L245.0 363.4L246.1 363.3L247.1 363.3L248.2 363.4L249.2 363.5L250.2 363.7L251.3 363.9L252.3 364.2L253.4 364.5L254.4 364.9L255.5 365.4L256.5 365.9L257.5 366.6L258.6 367.5L259.6 368.6L260.7 369.9L261.7 371.3L262.7 372.6L263.8 373.8L264.8 374.7L265.9 375.5L266.9 376.1L267.9 376.6L269.0 376.9L270.0 377.2L271.1 377.3L272.1 377.4L273.1 377.3L274.2 377.2L275.2 377.0L276.3 376.7L277.3 376.5L278.3 376.4L279.4 376.3L280.4 376.5L281.5 376.9L282.5 377.4L283.5 378.0L284.6 378.7L285.6 379.5L286.7 380.1L287.7 380.7L288.7 381.1L289.8 381.4L290.8 381.6L291.9 381.5L292.9 381.2L294.0 380.9L295.0 380.5L296.0 380.3L297.1 380.3L298.1 380.4" fill="none" stroke="#787878" stroke-width="1.1" stroke-linejoin="round"/>
<path d="M205.5 324.7L206.5 324.2L207.6 323.6L208.6 322.6L209.7 321.3L210.7 319.8L211.8 318.1L212.8 316.5L213.8 315.1L214.9 314.0L215.9 313.3L217.0 313.1L218.0 313.4L219.0 314.0L220.1 314.7L221.1 315.3L222.2 315.7L223.2 315.8L224.2 315.7L225.3 315.5L226.3 315.3L227.4 315.1L228.4 315.1L229.4 315.2L230.5 315.2L231.5 315.0L232.6 314.6L233.6 313.9L234.6 313.2L235.7 312.5L236.7 311.8L237.8 311.2L238.8 310.7L239.8 310.2L240.9 309.9L241.9 309.6L243.0 309.5L244.0 309.5L245.0 309.5L246.1 309.6L247.1 309.7L248.2 309.7L249.2 309.9L250.2 310.1L251.3 310.4L252.3 310.9L253.4 311.5L254.4 312.1L255.5 312.8L256.5 313.5L257.5 314.3L258.6 315.1L259.6 316.0L260.7 316.9L261.7 317.8L262.7 318.6L263.8 319.5L264.8 320.3L265.9 321.1L266.9 322.0L267.9 322.9L269.0 323.8L270.0 324.7L271.1 325.7L272.1 326.5L273.1 327.2L274.2 327.8L275.2 328.1L276.3 328.2L277.3 328.1L278.3 328.0L279.4 327.8L280.4 327.6L281.5 327.5L282.5 327.5L283.5 327.6L284.6 327.6L285.6 327.7L286.7 327.8L287.7 327.7L288.7 327.6L289.8 327.4L290.8 327.0L291.9 326.6L292.9 326.0L294.0 325.2L295.0 324.2L296.0 323.5L297.1 322.9L298.1 322.5" fill="none" stroke="#0a0ae6" stroke-width="2" stroke-linejoin="round" stroke-linecap="round"/>
<path d="M205.5 344.3L206.2 344.2L206.8 344.0L207.5 343.8L208.2 343.3L208.8 342.7L209.5 342.0L210.2 341.1L210.8 340.1L211.5 339.1L212.2 338.1L212.8 337.2L213.5 336.3L214.2 335.5L214.8 334.8L215.5 334.4L216.2 334.1L216.8 334.0L217.5 334.2L218.2 334.6L218.8 335.0L219.5 335.3L220.2 335.6L220.8 335.7L221.5 335.8L222.2 335.8L222.8 335.7L223.5 335.6L224.2 335.4L224.8 335.3L225.5 335.1L226.2 335.0L226.8 334.9L227.5 334.8L228.2 334.7L228.8 334.6L229.5 334.6L230.2 334.5L230.8 334.4L231.5 334.3L232.2 334.2L232.8 334.0L233.5 333.8L234.2 333.6L234.8 333.3L235.5 333.0L236.2 332.7L236.8 332.3L237.5 331.9L238.2 331.6L238.8 331.2L239.5 330.9L240.2 330.5L240.8 330.2L241.5 329.9L242.1 329.7L242.8 329.5L243.5 329.3L244.1 329.3L244.8 329.2L245.5 329.2L246.1 329.2L246.8 329.2L247.5 329.2L248.1 329.1L248.8 329.1L249.5 329.1L250.1 329.1L250.8 329.1L251.5 329.2L252.1 329.4L252.8 329.5L253.5 329.6L254.1 329.8L254.8 330.1L255.5 330.3L256.1 330.8L256.8 331.2L257.5 331.8L258.1 332.4L258.8 333.0L259.5 333.7L260.1 334.3L260.8 335.0L261.5 335.7L262.1 336.4L262.8 337.1L263.5 337.7L264.1 338.4L264.8 339.0L265.5 339.6L266.1 340.2L266.8 340.7L267.5 341.0L268.1 341.4L268.8 341.6L269.5 341.9L270.1 342.1L270.8 342.3L271.5 342.6L272.1 342.8L272.8 343.0L273.5 343.1L274.1 343.2L274.8 343.2L275.5 343.1L276.1 343.0L276.8 342.8L277.5 342.6L278.1 342.4L278.8 342.3L279.5 342.2L280.1 342.3L280.8 342.5L281.5 342.7L282.1 343.0L282.8 343.4L283.5 343.8L284.1 344.2L284.8 344.6L285.5 345.0L286.1 345.4L286.8 345.8L287.5 346.1L288.1 346.3L288.8 346.5L289.5 346.6L290.1 346.7L290.8 346.6L291.5 346.5L292.1 346.3L292.8 346.1L293.4 345.8L294.1 345.4L294.8 345.0L295.4 344.6L296.1 344.3L296.8 344.0L297.4 343.7L298.1 343.4" fill="none" stroke="#000" stroke-width="1.7" stroke-dasharray="1.7 6"/>
<path d="M205.5 363.9L206.5 364.0L207.6 363.9L208.6 363.3L209.7 362.3L210.7 360.9L211.8 359.4L212.8 357.9L213.8 356.6L214.9 355.6L215.9 354.9L217.0 354.9L218.0 355.5L219.0 356.2L220.1 356.4L221.1 356.3L222.2 355.9L223.2 355.5L224.2 355.1L225.3 354.8L226.3 354.6L227.4 354.4L228.4 354.2L229.4 354.0L230.5 353.7L231.5 353.6L232.6 353.7L233.6 353.7L234.6 353.6L235.7 353.3L236.7 352.9L237.8 352.4L238.8 351.8L239.8 351.1L240.9 350.4L241.9 349.8L243.0 349.3L244.0 349.1L245.0 348.9L246.1 348.9L247.1 348.7L248.2 348.5L249.2 348.2L250.2 348.1L251.3 348.0L252.3 347.8L253.4 347.7L254.4 347.6L255.5 347.9L256.5 348.5L257.5 349.4L258.6 350.5L259.6 351.6L260.7 352.8L261.7 354.1L262.7 355.3L263.8 356.6L264.8 357.8L265.9 358.8L266.9 359.5L267.9 359.8L269.0 359.6L270.0 359.4L271.1 359.2L272.1 359.1L273.1 358.9L274.2 358.7L275.2 358.3L276.3 357.8L277.3 357.2L278.3 356.8L279.4 356.7L280.4 357.1L281.5 357.9L282.5 358.9L283.5 360.1L284.6 361.3L285.6 362.5L286.7 363.6L287.7 364.7L288.7 365.5L289.8 366.0L290.8 366.3L291.9 366.3L292.9 366.1L294.0 365.9L295.0 365.5L296.0 365.1L297.1 364.7L298.1 364.3" fill="none" stroke="#ea0e10" stroke-width="2" stroke-linejoin="round" stroke-linecap="round"/>
</g>
<path d="M202.03 289.90V389.00H301.63" fill="none" stroke="#000" stroke-width="1"/>
<path d="M205.68 389.00v6.5M224.15 389.00v6.5M242.62 389.00v6.5M261.09 389.00v6.5M279.56 389.00v6.5M298.03 389.00v6.5M202.03 293.70h-6.5M202.03 312.10h-6.5M202.03 330.50h-6.5M202.03 348.90h-6.5M202.03 367.30h-6.5M202.03 385.70h-6.5" fill="none" stroke="#000" stroke-width="1"/>
<text transform="translate(187.83 293.70) rotate(-90)" text-anchor="middle" font-family="'Liberation Sans', Arial, Helvetica, sans-serif" font-size="10.4" fill="#000">10</text>
<text transform="translate(187.83 312.10) rotate(-90)" text-anchor="middle" font-family="'Liberation Sans', Arial, Helvetica, sans-serif" font-size="10.4" fill="#000">0</text>
<text transform="translate(187.83 348.90) rotate(-90)" text-anchor="middle" font-family="'Liberation Sans', Arial, Helvetica, sans-serif" font-size="10.4" fill="#000">−20</text>
<text transform="translate(187.83 385.70) rotate(-90)" text-anchor="middle" font-family="'Liberation Sans', Arial, Helvetica, sans-serif" font-size="10.4" fill="#000">−40</text>
<text x="205.68" y="410.9" text-anchor="middle" font-family="'Liberation Sans', Arial, Helvetica, sans-serif" font-size="10.4" fill="#000">0</text>
<text x="224.15" y="410.9" text-anchor="middle" font-family="'Liberation Sans', Arial, Helvetica, sans-serif" font-size="10.4" fill="#000">20</text>
<text x="261.09" y="410.9" text-anchor="middle" font-family="'Liberation Sans', Arial, Helvetica, sans-serif" font-size="10.4" fill="#000">60</text>
<text x="298.03" y="410.9" text-anchor="middle" font-family="'Liberation Sans', Arial, Helvetica, sans-serif" font-size="10.4" fill="#000">100</text>
<g clip-path="url(#c32)">
<path d="M331.5 319.5L332.6 318.9L333.6 318.5L334.6 318.7L335.7 319.5L336.7 320.6L337.8 322.0L338.8 323.2L339.9 324.0L340.9 324.1L342.0 323.3L343.0 322.1L344.0 320.9L345.1 320.1L346.1 320.2L347.2 320.7L348.2 321.1L349.3 321.2L350.3 321.0L351.4 320.7L352.4 320.3L353.5 320.0L354.5 319.8L355.5 319.7L356.6 319.6L357.6 319.6L358.7 319.6L359.7 319.5L360.8 319.3L361.8 319.1L362.9 318.8L363.9 318.5L364.9 318.2L366.0 317.9L367.0 317.6L368.1 317.3L369.1 317.1L370.2 316.8L371.2 316.5L372.3 316.2L373.3 315.7L374.4 315.4L375.4 315.1L376.4 314.9L377.5 315.0L378.5 315.2L379.6 315.6L380.6 316.1L381.7 316.7L382.7 317.4L383.8 318.2L384.8 319.2L385.8 320.3L386.9 321.6L387.9 322.8L389.0 324.1L390.0 325.2L391.1 326.2L392.1 327.2L393.2 328.0L394.2 328.8L395.3 329.5L396.3 330.1L397.3 330.7L398.4 331.2L399.4 331.6L400.5 331.9L401.5 332.1L402.6 332.2L403.6 332.1L404.7 331.9L405.7 331.7L406.7 331.7L407.8 331.4L408.8 330.9L409.9 330.0L410.9 328.8L412.0 327.5L413.0 326.0L414.1 324.6L415.1 323.5L416.2 322.5L417.2 321.7L418.2 321.0L419.3 320.4L420.3 320.1L421.4 320.3L422.4 320.7L423.5 320.7L424.5 320.5L424.5 371.9L423.5 372.6L422.4 373.4L421.4 374.5L420.3 375.8L419.3 377.2L418.2 378.5L417.2 379.8L416.2 381.0L415.1 382.2L414.1 383.4L413.0 384.6L412.0 385.8L410.9 387.0L409.9 388.0L408.8 388.9L407.8 389.5L406.7 389.8L405.7 389.6L404.7 389.1L403.6 388.5L402.6 387.9L401.5 387.4L400.5 386.9L399.4 386.4L398.4 385.8L397.3 385.1L396.3 384.4L395.3 383.7L394.2 382.9L393.2 382.0L392.1 381.1L391.1 380.1L390.0 378.9L389.0 377.7L387.9 376.4L386.9 375.2L385.8 374.0L384.8 372.8L383.8 371.7L382.7 370.6L381.7 369.6L380.6 368.8L379.6 368.3L378.5 368.0L377.5 367.7L376.4 367.7L375.4 367.7L374.4 367.9L373.3 368.2L372.3 368.5L371.2 368.9L370.2 369.3L369.1 369.7L368.1 370.1L367.0 370.4L366.0 370.6L364.9 370.8L363.9 370.9L362.9 370.9L361.8 371.0L360.8 371.1L359.7 371.2L358.7 371.5L357.6 371.8L356.6 372.3L355.5 372.8L354.5 373.3L353.5 373.8L352.4 374.3L351.4 374.8L350.3 375.4L349.3 376.0L348.2 376.4L347.2 376.7L346.1 376.8L345.1 376.8L344.0 376.6L343.0 376.3L342.0 376.0L340.9 375.6L339.9 375.2L338.8 374.8L337.8 374.2L336.7 373.4L335.7 372.4L334.6 371.5L333.6 371.3L332.6 371.7L331.5 372.3Z" fill="#e5e5e5"/>
<path d="M331.5 319.5L332.6 318.9L333.6 318.5L334.6 318.7L335.7 319.5L336.7 320.6L337.8 322.0L338.8 323.2L339.9 324.0L340.9 324.1L342.0 323.3L343.0 322.1L344.0 320.9L345.1 320.1L346.1 320.2L347.2 320.7L348.2 321.1L349.3 321.2L350.3 321.0L351.4 320.7L352.4 320.3L353.5 320.0L354.5 319.8L355.5 319.7L356.6 319.6L357.6 319.6L358.7 319.6L359.7 319.5L360.8 319.3L361.8 319.1L362.9 318.8L363.9 318.5L364.9 318.2L366.0 317.9L367.0 317.6L368.1 317.3L369.1 317.1L370.2 316.8L371.2 316.5L372.3 316.2L373.3 315.7L374.4 315.4L375.4 315.1L376.4 314.9L377.5 315.0L378.5 315.2L379.6 315.6L380.6 316.1L381.7 316.7L382.7 317.4L383.8 318.2L384.8 319.2L385.8 320.3L386.9 321.6L387.9 322.8L389.0 324.1L390.0 325.2L391.1 326.2L392.1 327.2L393.2 328.0L394.2 328.8L395.3 329.5L396.3 330.1L397.3 330.7L398.4 331.2L399.4 331.6L400.5 331.9L401.5 332.1L402.6 332.2L403.6 332.1L404.7 331.9L405.7 331.7L406.7 331.7L407.8 331.4L408.8 330.9L409.9 330.0L410.9 328.8L412.0 327.5L413.0 326.0L414.1 324.6L415.1 323.5L416.2 322.5L417.2 321.7L418.2 321.0L419.3 320.4L420.3 320.1L421.4 320.3L422.4 320.7L423.5 320.7L424.5 320.5M331.5 372.3L332.6 371.7L333.6 371.3L334.6 371.5L335.7 372.4L336.7 373.4L337.8 374.2L338.8 374.8L339.9 375.2L340.9 375.6L342.0 376.0L343.0 376.3L344.0 376.6L345.1 376.8L346.1 376.8L347.2 376.7L348.2 376.4L349.3 376.0L350.3 375.4L351.4 374.8L352.4 374.3L353.5 373.8L354.5 373.3L355.5 372.8L356.6 372.3L357.6 371.8L358.7 371.5L359.7 371.2L360.8 371.1L361.8 371.0L362.9 370.9L363.9 370.9L364.9 370.8L366.0 370.6L367.0 370.4L368.1 370.1L369.1 369.7L370.2 369.3L371.2 368.9L372.3 368.5L373.3 368.2L374.4 367.9L375.4 367.7L376.4 367.7L377.5 367.7L378.5 368.0L379.6 368.3L380.6 368.8L381.7 369.6L382.7 370.6L383.8 371.7L384.8 372.8L385.8 374.0L386.9 375.2L387.9 376.4L389.0 377.7L390.0 378.9L391.1 380.1L392.1 381.1L393.2 382.0L394.2 382.9L395.3 383.7L396.3 384.4L397.3 385.1L398.4 385.8L399.4 386.4L400.5 386.9L401.5 387.4L402.6 387.9L403.6 388.5L404.7 389.1L405.7 389.6L406.7 389.8L407.8 389.5L408.8 388.9L409.9 388.0L410.9 387.0L412.0 385.8L413.0 384.6L414.1 383.4L415.1 382.2L416.2 381.0L417.2 379.8L418.2 378.5L419.3 377.2L420.3 375.8L421.4 374.5L422.4 373.4L423.5 372.6L424.5 371.9" fill="none" stroke="#787878" stroke-width="1.1" stroke-linejoin="round"/>
<path d="M331.5 349.8L332.6 349.2L333.6 348.8L334.6 349.1L335.7 350.1L336.7 352.0L337.8 354.2L338.8 355.8L339.9 356.7L340.9 357.0L342.0 356.5L343.0 355.0L344.0 353.4L345.1 352.7L346.1 352.8L347.2 353.2L348.2 353.7L349.3 354.1L350.3 354.2L351.4 353.8L352.4 353.1L353.5 352.4L354.5 351.7L355.5 351.1L356.6 350.6L357.6 350.3L358.7 350.2L359.7 350.2L360.8 350.2L361.8 350.2L362.9 350.1L363.9 350.0L364.9 349.9L366.0 349.8L367.0 349.6L368.1 349.5L369.1 349.3L370.2 349.0L371.2 348.6L372.3 348.2L373.3 347.8L374.4 347.5L375.4 347.3L376.4 347.2L377.5 347.3L378.5 347.4L379.6 347.7L380.6 348.1L381.7 348.5L382.7 349.0L383.8 349.7L384.8 350.4L385.8 351.3L386.9 352.2L387.9 353.3L389.0 354.2L390.0 355.2L391.1 356.0L392.1 356.8L393.2 357.6L394.2 358.2L395.3 358.6L396.3 359.0L397.3 359.3L398.4 359.5L399.4 359.7L400.5 359.7L401.5 359.5L402.6 359.1L403.6 358.8L404.7 358.7L405.7 358.6L406.7 358.7L407.8 358.9L408.8 358.8L409.9 358.5L410.9 357.7L412.0 356.7L413.0 355.8L414.1 355.0L415.1 354.4L416.2 354.0L417.2 353.6L418.2 353.3L419.3 353.1L420.3 352.9L421.4 352.7L422.4 352.4L423.5 352.1L424.5 351.8" fill="none" stroke="#0a0ae6" stroke-width="2" stroke-linejoin="round" stroke-linecap="round"/>
<path d="M331.5 346.3L332.2 345.8L332.8 345.3L333.5 345.0L334.2 344.9L334.9 345.0L335.5 345.4L336.2 346.1L336.9 346.9L337.5 347.7L338.2 348.5L338.9 349.1L339.5 349.5L340.2 349.8L340.9 350.0L341.5 349.9L342.2 349.7L342.9 349.3L343.6 349.0L344.2 348.6L344.9 348.6L345.6 348.6L346.2 348.7L346.9 348.9L347.6 348.9L348.2 348.9L348.9 348.7L349.6 348.5L350.2 348.2L350.9 347.9L351.6 347.6L352.2 347.3L352.9 347.0L353.6 346.7L354.3 346.4L354.9 346.1L355.6 345.9L356.3 345.6L356.9 345.4L357.6 345.2L358.3 345.1L358.9 345.0L359.6 344.9L360.3 344.8L360.9 344.7L361.6 344.7L362.3 344.6L363.0 344.6L363.6 344.5L364.3 344.4L365.0 344.3L365.6 344.1L366.3 344.0L367.0 343.8L367.6 343.7L368.3 343.5L369.0 343.3L369.6 343.1L370.3 342.9L371.0 342.7L371.7 342.5L372.3 342.3L373.0 342.1L373.7 341.9L374.3 341.7L375.0 341.5L375.7 341.3L376.3 341.2L377.0 341.2L377.7 341.3L378.3 341.4L379.0 341.6L379.7 341.8L380.4 342.1L381.0 342.3L381.7 342.6L382.4 343.1L383.0 343.5L383.7 344.0L384.4 344.6L385.0 345.2L385.7 345.9L386.4 346.6L387.0 347.4L387.7 348.2L388.4 349.0L389.1 349.8L389.7 350.7L390.4 351.5L391.1 352.4L391.7 353.1L392.4 353.9L393.1 354.6L393.7 355.2L394.4 355.8L395.1 356.3L395.7 356.9L396.4 357.4L397.1 357.9L397.7 358.3L398.4 358.7L399.1 359.1L399.8 359.4L400.4 359.7L401.1 359.9L401.8 360.2L402.4 360.3L403.1 360.5L403.8 360.6L404.4 360.8L405.1 360.9L405.8 360.9L406.4 361.0L407.1 361.0L407.8 361.0L408.5 360.8L409.1 360.4L409.8 360.0L410.5 359.2L411.1 358.4L411.8 357.6L412.5 356.7L413.1 355.8L413.8 354.9L414.5 354.0L415.1 353.1L415.8 352.3L416.5 351.5L417.2 350.7L417.8 350.1L418.5 349.5L419.2 348.9L419.8 348.5L420.5 348.0L421.2 347.7L421.8 347.4L422.5 347.1L423.2 347.0L423.8 346.9L424.5 346.8" fill="none" stroke="#000" stroke-width="1.7" stroke-dasharray="1.7 6"/>
<path d="M331.5 342.8L332.6 341.8L333.6 341.0L334.6 340.7L335.7 340.9L336.7 341.4L337.8 341.9L338.8 342.4L339.9 342.7L340.9 343.0L342.0 343.3L343.0 343.6L344.0 343.9L345.1 344.3L346.1 344.6L347.2 344.6L348.2 344.2L349.3 343.1L350.3 342.1L351.4 341.5L352.4 341.3L353.5 341.2L354.5 341.0L355.5 340.7L356.6 340.4L357.6 340.1L358.7 339.8L359.7 339.5L360.8 339.3L361.8 339.1L362.9 339.0L363.9 338.9L364.9 338.7L366.0 338.4L367.0 338.0L368.1 337.6L369.1 337.2L370.2 337.0L371.2 336.7L372.3 336.5L373.3 336.2L374.4 335.8L375.4 335.4L376.4 335.2L377.5 335.2L378.5 335.5L379.6 335.9L380.6 336.3L381.7 336.8L382.7 337.5L383.8 338.4L384.8 339.6L385.8 340.8L386.9 342.1L387.9 343.6L389.0 345.2L390.0 347.0L391.1 348.8L392.1 350.3L393.2 351.7L394.2 353.0L395.3 354.3L396.3 355.6L397.3 356.8L398.4 357.9L399.4 358.8L400.5 359.7L401.5 360.7L402.6 361.6L403.6 362.4L404.7 362.9L405.7 363.2L406.7 363.3L407.8 363.1L408.8 362.5L409.9 361.3L410.9 359.8L412.0 358.0L413.0 356.1L414.1 354.1L415.1 351.9L416.2 349.8L417.2 347.7L418.2 346.0L419.3 344.6L420.3 343.4L421.4 342.4L422.4 341.8L423.5 341.7L424.5 341.8" fill="none" stroke="#ea0e10" stroke-width="2" stroke-linejoin="round" stroke-linecap="round"/>
</g>
<path d="M328.36 289.90V389.00H427.96" fill="none" stroke="#000" stroke-width="1"/>
<path d="M332.01 389.00v6.5M350.48 389.00v6.5M368.95 389.00v6.5M387.42 389.00v6.5M405.89 389.00v6.5M424.36 389.00v6.5M328.36 293.70h-6.5M328.36 316.65h-6.5M328.36 339.60h-6.5M328.36 362.55h-6.5M328.36 385.50h-6.5" fill="none" stroke="#000" stroke-width="1"/>
<text transform="translate(314.16 293.70) rotate(-90)" text-anchor="middle" font-family="'Liberation Sans', Arial, Helvetica, sans-serif" font-size="10.4" fill="#000">20</text>
<text transform="translate(314.16 316.65) rotate(-90)" text-anchor="middle" font-family="'Liberation Sans', Arial, Helvetica, sans-serif" font-size="10.4" fill="#000">10</text>
<text transform="translate(314.16 339.60) rotate(-90)" text-anchor="middle" font-family="'Liberation Sans', Arial, Helvetica, sans-serif" font-size="10.4" fill="#000">0</text>
<text transform="translate(314.16 385.50) rotate(-90)" text-anchor="middle" font-family="'Liberation Sans', Arial, Helvetica, sans-serif" font-size="10.4" fill="#000">−20</text>
<text x="332.01" y="410.9" text-anchor="middle" font-family="'Liberation Sans', Arial, Helvetica, sans-serif" font-size="10.4" fill="#000">0</text>
<text x="350.48" y="410.9" text-anchor="middle" font-family="'Liberation Sans', Arial, Helvetica, sans-serif" font-size="10.4" fill="#000">20</text>
<text x="387.42" y="410.9" text-anchor="middle" font-family="'Liberation Sans', Arial, Helvetica, sans-serif" font-size="10.4" fill="#000">60</text>
<text x="424.36" y="410.9" text-anchor="middle" font-family="'Liberation Sans', Arial, Helvetica, sans-serif" font-size="10.4" fill="#000">100</text>
<g clip-path="url(#c33)">
<path d="M458.1 311.5L459.2 313.1L460.2 314.8L461.2 316.7L462.3 318.6L463.3 320.5L464.4 322.3L465.4 323.9L466.5 325.0L467.5 325.7L468.5 325.7L469.6 325.1L470.6 324.2L471.7 323.3L472.7 322.4L473.8 321.6L474.8 320.9L475.8 320.4L476.9 320.1L477.9 319.9L479.0 319.8L480.0 319.6L481.1 319.5L482.1 319.3L483.1 319.1L484.2 318.9L485.2 318.6L486.3 318.3L487.3 318.1L488.4 317.9L489.4 317.8L490.4 317.6L491.5 317.5L492.5 317.3L493.6 317.0L494.6 316.7L495.6 316.4L496.7 315.9L497.7 315.5L498.8 315.0L499.8 314.4L500.9 313.9L501.9 313.2L502.9 312.4L504.0 311.4L505.0 310.2L506.1 309.0L507.1 307.7L508.2 306.5L509.2 305.4L510.2 304.4L511.3 303.5L512.3 302.6L513.4 301.9L514.4 301.4L515.5 301.2L516.5 301.2L517.5 301.5L518.6 302.0L519.6 302.6L520.7 303.3L521.7 304.0L522.8 304.7L523.8 305.3L524.8 305.7L525.9 306.0L526.9 306.3L528.0 306.7L529.0 307.1L530.1 307.5L531.1 307.9L532.1 308.4L533.2 308.8L534.2 309.1L535.3 309.4L536.3 309.7L537.4 309.8L538.4 310.0L539.4 310.1L540.5 310.2L541.5 310.3L542.6 310.4L543.6 310.5L544.7 310.7L545.7 311.0L546.7 311.3L547.8 311.6L548.8 311.9L549.9 312.3L550.9 312.7L550.9 370.9L549.9 369.6L548.8 369.0L547.8 369.2L546.7 369.8L545.7 370.6L544.7 371.6L543.6 372.4L542.6 373.2L541.5 373.9L540.5 374.5L539.4 375.0L538.4 375.4L537.4 375.7L536.3 376.0L535.3 376.4L534.2 376.9L533.2 377.2L532.1 377.3L531.1 377.1L530.1 376.7L529.0 376.1L528.0 375.6L526.9 375.1L525.9 374.6L524.8 374.1L523.8 373.7L522.8 373.3L521.7 373.0L520.7 372.8L519.6 372.7L518.6 372.7L517.5 372.9L516.5 373.2L515.5 373.6L514.4 374.2L513.4 374.9L512.3 375.7L511.3 376.6L510.2 377.5L509.2 378.5L508.2 379.4L507.1 380.2L506.1 380.9L505.0 381.5L504.0 381.9L502.9 382.1L501.9 382.3L500.9 382.4L499.8 382.5L498.8 382.6L497.7 382.7L496.7 382.8L495.6 383.0L494.6 383.2L493.6 383.3L492.5 383.5L491.5 383.6L490.4 383.7L489.4 383.8L488.4 383.9L487.3 384.0L486.3 384.2L485.2 384.4L484.2 384.6L483.1 384.7L482.1 384.9L481.1 385.0L480.0 385.0L479.0 385.1L477.9 385.2L476.9 385.5L475.8 385.8L474.8 386.4L473.8 387.0L472.7 387.7L471.7 388.5L470.6 389.1L469.6 389.3L468.5 389.0L467.5 388.2L466.5 386.8L465.4 385.3L464.4 383.7L463.3 382.1L462.3 380.3L461.2 378.5L460.2 376.5L459.2 374.4L458.1 372.3Z" fill="#e5e5e5"/>
<path d="M458.1 311.5L459.2 313.1L460.2 314.8L461.2 316.7L462.3 318.6L463.3 320.5L464.4 322.3L465.4 323.9L466.5 325.0L467.5 325.7L468.5 325.7L469.6 325.1L470.6 324.2L471.7 323.3L472.7 322.4L473.8 321.6L474.8 320.9L475.8 320.4L476.9 320.1L477.9 319.9L479.0 319.8L480.0 319.6L481.1 319.5L482.1 319.3L483.1 319.1L484.2 318.9L485.2 318.6L486.3 318.3L487.3 318.1L488.4 317.9L489.4 317.8L490.4 317.6L491.5 317.5L492.5 317.3L493.6 317.0L494.6 316.7L495.6 316.4L496.7 315.9L497.7 315.5L498.8 315.0L499.8 314.4L500.9 313.9L501.9 313.2L502.9 312.4L504.0 311.4L505.0 310.2L506.1 309.0L507.1 307.7L508.2 306.5L509.2 305.4L510.2 304.4L511.3 303.5L512.3 302.6L513.4 301.9L514.4 301.4L515.5 301.2L516.5 301.2L517.5 301.5L518.6 302.0L519.6 302.6L520.7 303.3L521.7 304.0L522.8 304.7L523.8 305.3L524.8 305.7L525.9 306.0L526.9 306.3L528.0 306.7L529.0 307.1L530.1 307.5L531.1 307.9L532.1 308.4L533.2 308.8L534.2 309.1L535.3 309.4L536.3 309.7L537.4 309.8L538.4 310.0L539.4 310.1L540.5 310.2L541.5 310.3L542.6 310.4L543.6 310.5L544.7 310.7L545.7 311.0L546.7 311.3L547.8 311.6L548.8 311.9L549.9 312.3L550.9 312.7M458.1 372.3L459.2 374.4L460.2 376.5L461.2 378.5L462.3 380.3L463.3 382.1L464.4 383.7L465.4 385.3L466.5 386.8L467.5 388.2L468.5 389.0L469.6 389.3L470.6 389.1L471.7 388.5L472.7 387.7L473.8 387.0L474.8 386.4L475.8 385.8L476.9 385.5L477.9 385.2L479.0 385.1L480.0 385.0L481.1 385.0L482.1 384.9L483.1 384.7L484.2 384.6L485.2 384.4L486.3 384.2L487.3 384.0L488.4 383.9L489.4 383.8L490.4 383.7L491.5 383.6L492.5 383.5L493.6 383.3L494.6 383.2L495.6 383.0L496.7 382.8L497.7 382.7L498.8 382.6L499.8 382.5L500.9 382.4L501.9 382.3L502.9 382.1L504.0 381.9L505.0 381.5L506.1 380.9L507.1 380.2L508.2 379.4L509.2 378.5L510.2 377.5L511.3 376.6L512.3 375.7L513.4 374.9L514.4 374.2L515.5 373.6L516.5 373.2L517.5 372.9L518.6 372.7L519.6 372.7L520.7 372.8L521.7 373.0L522.8 373.3L523.8 373.7L524.8 374.1L525.9 374.6L526.9 375.1L528.0 375.6L529.0 376.1L530.1 376.7L531.1 377.1L532.1 377.3L533.2 377.2L534.2 376.9L535.3 376.4L536.3 376.0L537.4 375.7L538.4 375.4L539.4 375.0L540.5 374.5L541.5 373.9L542.6 373.2L543.6 372.4L544.7 371.6L545.7 370.6L546.7 369.8L547.8 369.2L548.8 369.0L549.9 369.6L550.9 370.9" fill="none" stroke="#787878" stroke-width="1.1" stroke-linejoin="round"/>
<path d="M458.1 348.2L459.2 349.8L460.2 351.4L461.2 352.9L462.3 354.3L463.3 355.5L464.4 356.5L465.4 357.5L466.5 358.6L467.5 359.9L468.5 361.4L469.6 362.8L470.6 363.7L471.7 363.4L472.7 362.0L473.8 360.5L474.8 359.3L475.8 358.5L476.9 358.0L477.9 357.8L479.0 358.1L480.0 358.7L481.1 359.2L482.1 359.4L483.1 359.2L484.2 358.9L485.2 358.6L486.3 358.4L487.3 358.3L488.4 358.1L489.4 357.9L490.4 357.9L491.5 358.0L492.5 358.0L493.6 357.8L494.6 357.3L495.6 356.6L496.7 356.0L497.7 355.6L498.8 355.1L499.8 354.6L500.9 354.0L501.9 353.2L502.9 352.2L504.0 351.1L505.0 350.0L506.1 348.8L507.1 347.6L508.2 346.4L509.2 345.3L510.2 344.4L511.3 343.6L512.3 343.2L513.4 342.9L514.4 342.8L515.5 342.7L516.5 342.8L517.5 342.8L518.6 343.0L519.6 343.1L520.7 343.2L521.7 343.3L522.8 343.5L523.8 343.7L524.8 344.2L525.9 344.8L526.9 345.6L528.0 346.5L529.0 347.5L530.1 348.4L531.1 349.1L532.1 349.6L533.2 349.7L534.2 349.5L535.3 349.3L536.3 349.1L537.4 348.9L538.4 348.6L539.4 348.4L540.5 348.1L541.5 347.8L542.6 347.7L543.6 347.5L544.7 347.2L545.7 346.7L546.7 346.1L547.8 345.7L548.8 345.6L549.9 346.0L550.9 346.8" fill="none" stroke="#0a0ae6" stroke-width="2" stroke-linejoin="round" stroke-linecap="round"/>
<path d="M458.2 342.3L459.3 344.3L460.3 346.2L461.3 348.0L462.4 349.8L463.4 351.4L464.5 352.9L465.5 354.1L466.6 355.1L467.6 355.7L468.6 356.0L469.7 356.0L470.7 355.9L471.8 355.6L472.8 355.3L473.9 355.0L474.9 354.7L475.9 354.4L477.0 354.1L478.0 353.9L479.1 353.6L480.1 353.3L481.2 353.0L482.2 352.7L483.2 352.3L484.3 352.1L485.3 351.8L486.4 351.6L487.4 351.4L488.5 351.3L489.5 351.2L490.6 351.2L491.6 351.1L492.6 351.1L493.7 351.0L494.7 350.8L495.8 350.6L496.8 350.3L497.9 349.9L498.9 349.5L499.9 349.0L501.0 348.5L502.0 347.9L503.1 347.3L504.1 346.6L505.2 345.9L506.2 345.2L507.2 344.4L508.3 343.5L509.3 342.6L510.4 341.6L511.4 340.7L512.5 339.9L513.5 339.2L514.5 338.6L515.6 338.2L516.6 338.0L517.7 337.9L518.7 337.9L519.8 338.0L520.8 338.2L521.8 338.5L522.9 338.9L523.9 339.3L525.0 339.7L526.0 340.2L527.1 340.7L528.1 341.2L529.1 341.7L530.2 342.1L531.2 342.5L532.3 342.9L533.3 343.1L534.4 343.3L535.4 343.4L536.5 343.3L537.5 343.1L538.5 342.9L539.6 342.7L540.6 342.4L541.7 342.2L542.7 342.0L543.8 341.8L544.8 341.7L545.8 341.6L546.9 341.5L547.9 341.4L549.0 341.4L550.0 341.3L551.1 341.2" fill="none" stroke="#000" stroke-width="1.7" stroke-dasharray="1.7 6"/>
<path d="M458.1 336.6L459.2 338.4L460.2 340.3L461.2 342.4L462.3 344.6L463.3 346.6L464.4 348.4L465.4 350.0L466.5 351.2L467.5 351.8L468.5 351.3L469.6 350.0L470.6 348.7L471.7 348.0L472.7 347.7L473.8 347.7L474.8 347.9L475.8 348.1L476.9 348.4L477.9 348.4L479.0 348.3L480.0 347.9L481.1 347.3L482.1 346.7L483.1 346.1L484.2 345.6L485.2 345.2L486.3 344.9L487.3 344.6L488.4 344.4L489.4 344.2L490.4 344.1L491.5 344.0L492.5 343.9L493.6 343.8L494.6 343.7L495.6 343.7L496.7 343.6L497.7 343.6L498.8 343.6L499.8 343.5L500.9 343.3L501.9 343.0L502.9 342.6L504.0 342.2L505.0 341.7L506.1 341.3L507.1 340.8L508.2 340.2L509.2 339.3L510.2 338.1L511.3 336.7L512.3 335.2L513.4 333.8L514.4 332.6L515.5 331.7L516.5 331.2L517.5 331.1L518.6 331.4L519.6 332.0L520.7 332.8L521.7 333.6L522.8 334.4L523.8 335.0L524.8 335.5L525.9 335.8L526.9 336.1L528.0 336.3L529.0 336.5L530.1 336.7L531.1 336.8L532.1 336.8L533.2 336.9L534.2 337.0L535.3 337.1L536.3 337.5L537.4 337.8L538.4 337.8L539.4 337.4L540.5 336.8L541.5 336.2L542.6 335.8L543.6 335.6L544.7 335.6L545.7 335.7L546.7 336.0L547.8 336.3L548.8 336.7L549.9 337.1L550.9 337.6" fill="none" stroke="#ea0e10" stroke-width="2" stroke-linejoin="round" stroke-linecap="round"/>
</g>
<path d="M454.69 289.90V389.00H554.29" fill="none" stroke="#000" stroke-width="1"/>
<path d="M458.34 389.00v6.5M476.81 389.00v6.5M495.28 389.00v6.5M513.75 389.00v6.5M532.22 389.00v6.5M550.69 389.00v6.5M454.69 293.70h-6.5M454.69 316.65h-6.5M454.69 339.60h-6.5M454.69 362.55h-6.5M454.69 385.50h-6.5" fill="none" stroke="#000" stroke-width="1"/>
<text transform="translate(440.49 293.70) rotate(-90)" text-anchor="middle" font-family="'Liberation Sans', Arial, Helvetica, sans-serif" font-size="10.4" fill="#000">30</text>
<text transform="translate(440.49 316.65) rotate(-90)" text-anchor="middle" font-family="'Liberation Sans', Arial, Helvetica, sans-serif" font-size="10.4" fill="#000">20</text>
<text transform="translate(440.49 339.60) rotate(-90)" text-anchor="middle" font-family="'Liberation Sans', Arial, Helvetica, sans-serif" font-size="10.4" fill="#000">10</text>
<text transform="translate(440.49 362.55) rotate(-90)" text-anchor="middle" font-family="'Liberation Sans', Arial, Helvetica, sans-serif" font-size="10.4" fill="#000">0</text>
<text transform="translate(440.49 385.50) rotate(-90)" text-anchor="middle" font-family="'Liberation Sans', Arial, Helvetica, sans-serif" font-size="10.4" fill="#000">−10</text>
<text x="458.34" y="410.9" text-anchor="middle" font-family="'Liberation Sans', Arial, Helvetica, sans-serif" font-size="10.4" fill="#000">0</text>
<text x="476.81" y="410.9" text-anchor="middle" font-family="'Liberation Sans', Arial, Helvetica, sans-serif" font-size="10.4" fill="#000">20</text>
<text x="513.75" y="410.9" text-anchor="middle" font-family="'Liberation Sans', Arial, Helvetica, sans-serif" font-size="10.4" fill="#000">60</text>
<text x="550.69" y="410.9" text-anchor="middle" font-family="'Liberation Sans', Arial, Helvetica, sans-serif" font-size="10.4" fill="#000">100</text>
<g clip-path="url(#c34)">
<path d="M584.6 304.7L585.6 304.3L586.6 304.0L587.7 303.8L588.7 303.5L589.8 303.3L590.8 303.1L591.8 302.8L592.9 302.4L593.9 301.8L594.9 301.3L596.0 300.7L597.0 300.3L598.1 300.0L599.1 299.8L600.1 299.7L601.2 299.6L602.2 299.5L603.2 299.5L604.3 299.4L605.3 299.4L606.4 299.5L607.4 299.5L608.4 299.7L609.5 299.8L610.5 300.1L611.6 300.3L612.6 300.5L613.6 300.7L614.7 300.8L615.7 301.0L616.7 301.1L617.8 301.2L618.8 301.3L619.9 301.4L620.9 301.5L621.9 301.5L623.0 301.5L624.0 301.5L625.1 301.4L626.1 301.3L627.1 301.2L628.2 301.1L629.2 300.9L630.2 300.6L631.3 300.4L632.3 300.1L633.4 299.7L634.4 299.5L635.4 299.4L636.5 299.7L637.5 300.0L638.5 300.5L639.6 301.0L640.6 301.5L641.7 302.2L642.7 303.1L643.7 304.0L644.8 305.0L645.8 305.9L646.9 306.9L647.9 307.9L648.9 309.0L650.0 310.1L651.0 311.3L652.0 312.5L653.1 313.7L654.1 314.7L655.2 315.7L656.2 316.5L657.2 317.3L658.3 318.0L659.3 318.5L660.4 318.6L661.4 318.5L662.4 318.2L663.5 317.7L664.5 317.1L665.5 316.5L666.6 316.0L667.6 315.5L668.7 315.0L669.7 314.6L670.7 314.0L671.8 313.1L672.8 312.0L673.9 310.7L674.9 309.1L675.9 307.4L677.0 305.7L677.0 358.3L675.9 359.7L674.9 361.3L673.9 363.0L672.8 364.8L671.8 366.8L670.7 368.9L669.7 371.0L668.7 373.0L667.6 374.9L666.6 376.6L665.5 378.2L664.5 379.4L663.5 380.4L662.4 381.0L661.4 381.3L660.4 381.4L659.3 381.3L658.3 381.0L657.2 380.7L656.2 380.2L655.2 379.7L654.1 379.2L653.1 378.7L652.0 378.2L651.0 377.7L650.0 377.3L648.9 376.9L647.9 376.5L646.9 376.0L645.8 375.4L644.8 374.7L643.7 373.6L642.7 372.4L641.7 371.0L640.6 369.6L639.6 368.2L638.5 366.9L637.5 365.6L636.5 364.4L635.4 363.2L634.4 362.2L633.4 361.2L632.3 360.2L631.3 359.4L630.2 358.6L629.2 357.8L628.2 357.2L627.1 356.5L626.1 356.0L625.1 355.5L624.0 355.2L623.0 354.8L621.9 354.6L620.9 354.4L619.9 354.2L618.8 353.9L617.8 353.7L616.7 353.4L615.7 353.1L614.7 352.8L613.6 352.5L612.6 352.3L611.6 352.2L610.5 352.1L609.5 352.2L608.4 352.2L607.4 352.3L606.4 352.4L605.3 352.6L604.3 352.8L603.2 353.1L602.2 353.5L601.2 353.9L600.1 354.3L599.1 354.7L598.1 355.1L597.0 355.5L596.0 356.0L594.9 356.4L593.9 356.8L592.9 357.1L591.8 357.3L590.8 357.6L589.8 357.8L588.7 358.1L587.7 358.5L586.6 359.1L585.6 359.9L584.6 360.7Z" fill="#e5e5e5"/>
<path d="M584.6 304.7L585.6 304.3L586.6 304.0L587.7 303.8L588.7 303.5L589.8 303.3L590.8 303.1L591.8 302.8L592.9 302.4L593.9 301.8L594.9 301.3L596.0 300.7L597.0 300.3L598.1 300.0L599.1 299.8L600.1 299.7L601.2 299.6L602.2 299.5L603.2 299.5L604.3 299.4L605.3 299.4L606.4 299.5L607.4 299.5L608.4 299.7L609.5 299.8L610.5 300.1L611.6 300.3L612.6 300.5L613.6 300.7L614.7 300.8L615.7 301.0L616.7 301.1L617.8 301.2L618.8 301.3L619.9 301.4L620.9 301.5L621.9 301.5L623.0 301.5L624.0 301.5L625.1 301.4L626.1 301.3L627.1 301.2L628.2 301.1L629.2 300.9L630.2 300.6L631.3 300.4L632.3 300.1L633.4 299.7L634.4 299.5L635.4 299.4L636.5 299.7L637.5 300.0L638.5 300.5L639.6 301.0L640.6 301.5L641.7 302.2L642.7 303.1L643.7 304.0L644.8 305.0L645.8 305.9L646.9 306.9L647.9 307.9L648.9 309.0L650.0 310.1L651.0 311.3L652.0 312.5L653.1 313.7L654.1 314.7L655.2 315.7L656.2 316.5L657.2 317.3L658.3 318.0L659.3 318.5L660.4 318.6L661.4 318.5L662.4 318.2L663.5 317.7L664.5 317.1L665.5 316.5L666.6 316.0L667.6 315.5L668.7 315.0L669.7 314.6L670.7 314.0L671.8 313.1L672.8 312.0L673.9 310.7L674.9 309.1L675.9 307.4L677.0 305.7M584.6 360.7L585.6 359.9L586.6 359.1L587.7 358.5L588.7 358.1L589.8 357.8L590.8 357.6L591.8 357.3L592.9 357.1L593.9 356.8L594.9 356.4L596.0 356.0L597.0 355.5L598.1 355.1L599.1 354.7L600.1 354.3L601.2 353.9L602.2 353.5L603.2 353.1L604.3 352.8L605.3 352.6L606.4 352.4L607.4 352.3L608.4 352.2L609.5 352.2L610.5 352.1L611.6 352.2L612.6 352.3L613.6 352.5L614.7 352.8L615.7 353.1L616.7 353.4L617.8 353.7L618.8 353.9L619.9 354.2L620.9 354.4L621.9 354.6L623.0 354.8L624.0 355.2L625.1 355.5L626.1 356.0L627.1 356.5L628.2 357.2L629.2 357.8L630.2 358.6L631.3 359.4L632.3 360.2L633.4 361.2L634.4 362.2L635.4 363.2L636.5 364.4L637.5 365.6L638.5 366.9L639.6 368.2L640.6 369.6L641.7 371.0L642.7 372.4L643.7 373.6L644.8 374.7L645.8 375.4L646.9 376.0L647.9 376.5L648.9 376.9L650.0 377.3L651.0 377.7L652.0 378.2L653.1 378.7L654.1 379.2L655.2 379.7L656.2 380.2L657.2 380.7L658.3 381.0L659.3 381.3L660.4 381.4L661.4 381.3L662.4 381.0L663.5 380.4L664.5 379.4L665.5 378.2L666.6 376.6L667.6 374.9L668.7 373.0L669.7 371.0L670.7 368.9L671.8 366.8L672.8 364.8L673.9 363.0L674.9 361.3L675.9 359.7L677.0 358.3" fill="none" stroke="#787878" stroke-width="1.1" stroke-linejoin="round"/>
<path d="M584.6 330.6L585.6 330.1L586.6 329.7L587.7 329.3L588.7 329.0L589.8 328.8L590.8 328.5L591.8 328.3L592.9 327.9L593.9 327.5L594.9 327.0L596.0 326.6L597.0 326.3L598.1 326.1L599.1 325.9L600.1 325.8L601.2 325.6L602.2 325.4L603.2 325.3L604.3 325.1L605.3 325.1L606.4 325.1L607.4 325.1L608.4 325.2L609.5 325.2L610.5 325.3L611.6 325.5L612.6 325.6L613.6 325.7L614.7 325.9L615.7 326.0L616.7 326.2L617.8 326.5L618.8 326.8L619.9 327.0L620.9 327.3L621.9 327.5L623.0 327.6L624.0 327.7L625.1 327.8L626.1 327.9L627.1 328.0L628.2 328.1L629.2 328.3L630.2 328.4L631.3 328.5L632.3 328.6L633.4 328.6L634.4 328.7L635.4 329.2L636.5 330.0L637.5 331.2L638.5 332.3L639.6 333.5L640.6 334.5L641.7 335.7L642.7 336.9L643.7 338.0L644.8 339.2L645.8 340.2L646.9 341.1L647.9 342.0L648.9 342.8L650.0 343.5L651.0 344.1L652.0 344.8L653.1 345.4L654.1 346.1L655.2 346.8L656.2 347.5L657.2 348.1L658.3 348.7L659.3 349.2L660.4 349.4L661.4 349.5L662.4 349.3L663.5 348.8L664.5 348.0L665.5 347.0L666.6 345.8L667.6 344.5L668.7 343.0L669.7 341.4L670.7 339.7L671.8 337.7L672.8 335.6L673.9 333.4L674.9 331.6L675.9 330.3L677.0 329.2" fill="none" stroke="#0a0ae6" stroke-width="2" stroke-linejoin="round" stroke-linecap="round"/>
<path d="M584.6 332.7L585.2 332.4L585.9 332.1L586.6 331.8L587.2 331.5L587.9 331.3L588.5 331.0L589.2 330.8L589.9 330.6L590.5 330.4L591.2 330.2L591.9 330.0L592.5 329.7L593.2 329.5L593.9 329.2L594.5 329.0L595.2 328.7L595.9 328.5L596.5 328.3L597.2 328.0L597.9 327.9L598.5 327.7L599.2 327.5L599.9 327.3L600.5 327.2L601.2 327.0L601.8 326.9L602.5 326.7L603.2 326.6L603.8 326.4L604.5 326.3L605.2 326.2L605.8 326.1L606.5 326.0L607.2 326.0L607.8 326.0L608.5 325.9L609.2 325.9L609.8 326.0L610.5 326.0L611.2 326.0L611.8 326.1L612.5 326.2L613.1 326.3L613.8 326.4L614.5 326.5L615.1 326.6L615.8 326.7L616.5 326.9L617.1 327.1L617.8 327.2L618.5 327.4L619.1 327.6L619.8 327.7L620.5 327.9L621.1 328.0L621.8 328.1L622.5 328.1L623.1 328.2L623.8 328.2L624.4 328.3L625.1 328.3L625.8 328.4L626.4 328.5L627.1 328.5L627.8 328.6L628.4 328.7L629.1 328.7L629.8 328.8L630.4 328.9L631.1 329.0L631.8 329.1L632.4 329.2L633.1 329.3L633.8 329.5L634.4 329.8L635.1 330.1L635.7 330.6L636.4 331.1L637.1 331.7L637.7 332.3L638.4 333.0L639.1 333.7L639.7 334.3L640.4 334.9L641.1 335.6L641.7 336.3L642.4 336.9L643.1 337.6L643.7 338.3L644.4 339.0L645.1 339.6L645.7 340.2L646.4 340.8L647.0 341.4L647.7 341.9L648.4 342.5L649.0 342.9L649.7 343.4L650.4 343.8L651.0 344.2L651.7 344.7L652.4 345.1L653.0 345.5L653.7 345.9L654.4 346.3L655.0 346.7L655.7 347.1L656.4 347.6L657.0 348.0L657.7 348.4L658.4 348.7L659.0 349.0L659.7 349.3L660.3 349.5L661.0 349.6L661.7 349.6L662.3 349.6L663.0 349.4L663.7 349.1L664.3 348.8L665.0 348.3L665.7 347.8L666.3 347.1L667.0 346.4L667.7 345.7L668.3 344.8L669.0 343.9L669.7 342.9L670.3 341.8L671.0 340.7L671.6 339.5L672.3 338.2L673.0 337.0L673.6 335.8L674.3 334.8L675.0 333.9L675.6 333.2L676.3 332.7L677.0 332.2" fill="none" stroke="#000" stroke-width="1.7" stroke-dasharray="1.7 6"/>
<path d="M584.6 334.8L585.6 334.3L586.6 333.8L587.7 333.4L588.7 332.9L589.8 332.5L590.8 332.1L591.8 331.7L592.9 331.3L593.9 331.0L594.9 330.6L596.0 330.2L597.0 329.9L598.1 329.5L599.1 329.1L600.1 328.8L601.2 328.4L602.2 328.1L603.2 327.8L604.3 327.5L605.3 327.3L606.4 327.1L607.4 326.9L608.4 326.7L609.5 326.7L610.5 326.6L611.6 326.7L612.6 326.8L613.6 326.9L614.7 327.1L615.7 327.4L616.7 327.7L617.8 328.0L618.8 328.3L619.9 328.5L620.9 328.6L621.9 328.7L623.0 328.7L624.0 328.7L625.1 328.8L626.1 328.9L627.1 329.0L628.2 329.1L629.2 329.2L630.2 329.3L631.3 329.5L632.3 329.7L633.4 330.2L634.4 330.8L635.4 331.5L636.5 332.2L637.5 333.1L638.5 334.0L639.6 334.9L640.6 335.8L641.7 336.7L642.7 337.6L643.7 338.6L644.8 339.5L645.8 340.4L646.9 341.3L647.9 342.2L648.9 343.0L650.0 343.7L651.0 344.3L652.0 345.0L653.1 345.6L654.1 346.2L655.2 346.8L656.2 347.5L657.2 348.1L658.3 348.7L659.3 349.2L660.4 349.5L661.4 349.8L662.4 349.8L663.5 349.7L664.5 349.4L665.5 348.8L666.6 348.0L667.6 346.9L668.7 345.7L669.7 344.2L670.7 342.6L671.8 340.8L672.8 339.0L673.9 337.4L674.9 336.3L675.9 335.6L677.0 335.2" fill="none" stroke="#ea0e10" stroke-width="2" stroke-linejoin="round" stroke-linecap="round"/>
</g>
<path d="M581.02 289.90V389.00H680.62" fill="none" stroke="#000" stroke-width="1"/>
<path d="M584.67 389.00v6.5M603.14 389.00v6.5M621.61 389.00v6.5M640.08 389.00v6.5M658.55 389.00v6.5M677.02 389.00v6.5M581.02 302.70h-6.5M581.02 321.10h-6.5M581.02 339.50h-6.5M581.02 357.90h-6.5M581.02 376.30h-6.5" fill="none" stroke="#000" stroke-width="1"/>
<text transform="translate(566.82 302.70) rotate(-90)" text-anchor="middle" font-family="'Liberation Sans', Arial, Helvetica, sans-serif" font-size="10.4" fill="#000">10</text>
<text transform="translate(566.82 339.50) rotate(-90)" text-anchor="middle" font-family="'Liberation Sans', Arial, Helvetica, sans-serif" font-size="10.4" fill="#000">−10</text>
<text transform="translate(566.82 376.30) rotate(-90)" text-anchor="middle" font-family="'Liberation Sans', Arial, Helvetica, sans-serif" font-size="10.4" fill="#000">−30</text>
<text x="584.67" y="410.9" text-anchor="middle" font-family="'Liberation Sans', Arial, Helvetica, sans-serif" font-size="10.4" fill="#000">0</text>
<text x="603.14" y="410.9" text-anchor="middle" font-family="'Liberation Sans', Arial, Helvetica, sans-serif" font-size="10.4" fill="#000">20</text>
<text x="640.08" y="410.9" text-anchor="middle" font-family="'Liberation Sans', Arial, Helvetica, sans-serif" font-size="10.4" fill="#000">60</text>
<text x="677.02" y="410.9" text-anchor="middle" font-family="'Liberation Sans', Arial, Helvetica, sans-serif" font-size="10.4" fill="#000">100</text>
<rect x="156.8" y="469.2" width="418.4" height="37.6" fill="#fff" stroke="#000" stroke-width="1"/>
<path d="M168.2 488.8H194" stroke="#000" stroke-width="1.6" stroke-dasharray="1.6 6.35" fill="none"/>
<path d="M306 488.8H332.8" stroke="#0a0ae6" stroke-width="2" fill="none"/>
<path d="M443.2 488.8H470.8" stroke="#ea0e10" stroke-width="2" fill="none"/>
<text x="208" y="494" font-family="'Liberation Sans', Arial, Helvetica, sans-serif" font-size="15" fill="#000">overall mean</text>
<text x="345.2" y="494" font-family="'Liberation Sans', Arial, Helvetica, sans-serif" font-size="15" fill="#000">left mean</text>
<text x="483.2" y="494" font-family="'Liberation Sans', Arial, Helvetica, sans-serif" font-size="15" fill="#000">right mean</text>
</svg>
</body></html>
